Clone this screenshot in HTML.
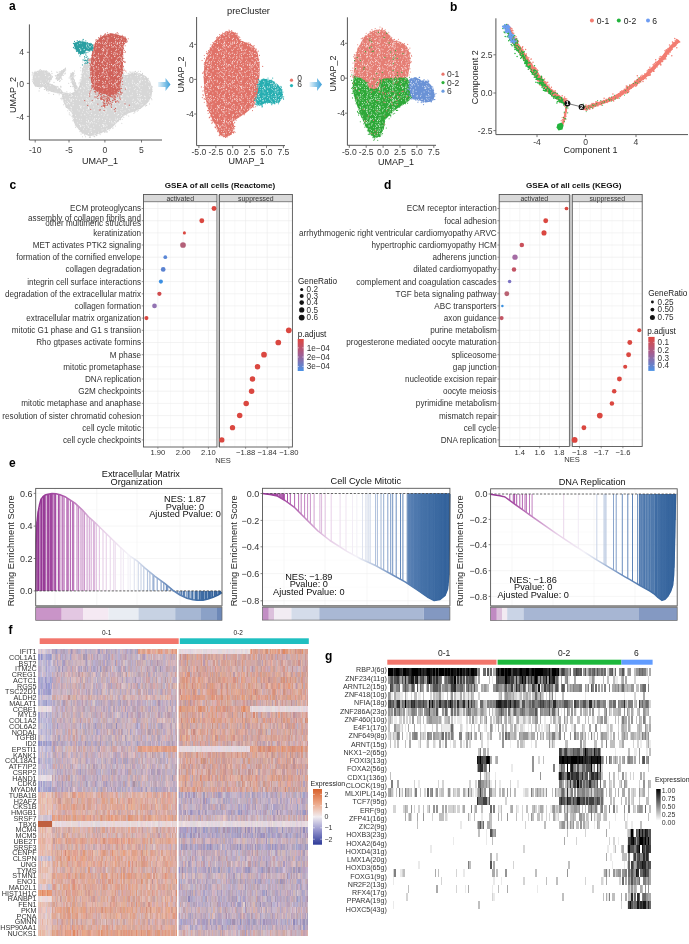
<!DOCTYPE html><html><head><meta charset="utf-8"><style>
html,body{margin:0;padding:0;background:#fff;width:689px;height:944px;overflow:hidden}
svg{display:block;font-family:"Liberation Sans",sans-serif;filter:blur(0.3px)}
</style></head><body><svg width="689" height="944" viewBox="0 0 689 944" font-size="8" fill="#222"><defs><pattern id="spk" width="23" height="19" patternUnits="userSpaceOnUse"><path d="M10.4 10.6h0M21.3 8.8h0M11.7 11.2h0M4.2 9.7h0M14.5 15.1h0M2.2 5.8h0M2.1 15.4h0M15.9 0.8h0M22.6 18.3h0M15 11.7h0M3.6 0.3h0M12.2 1.1h0M4.4 4.6h0M0.7 8.8h0M10.1 16h0M11.9 12.2h0M11.5 12.6h0M10.5 5.3h0M22.9 18.9h0M19.3 13.4h0M7.3 4.4h0M6.6 1.3h0M17.6 7.6h0M19.5 7.3h0M22 16.1h0M0 4h0M20.9 8.9h0M22.5 7.6h0M1.7 12h0M17.9 5.1h0M2 6.3h0M22.2 14.4h0M2.7 4.7h0M2.3 1.1h0" stroke="#fff" stroke-width="0.95" stroke-linecap="round" stroke-opacity="0.85"/></pattern><pattern id="spk2" width="17" height="13" patternUnits="userSpaceOnUse"><path d="M13.5 2.3h0M9.5 5.8h0M3.2 9.5h0M2.2 8.4h0M2 5.5h0M3.6 3.5h0M16.5 10.4h0M5.2 11.5h0M3.6 5.1h0M14.5 8.3h0M1.7 12.9h0M3.6 3.4h0M13.1 4.3h0M5 1h0M1.5 7.6h0M4.1 7.8h0" stroke="#fff" stroke-width="0.8" stroke-linecap="round" stroke-opacity="0.7"/></pattern><pattern id="spk3" width="13" height="11" patternUnits="userSpaceOnUse"><path d="M4.8 5h0M12.5 5.3h0M7.5 9.5h0M2.4 1.7h0M11.8 9h0M3.2 2.1h0M9.6 10.3h0M2.6 10.5h0M11.5 6.6h0M5.5 1.1h0M0.5 10.6h0M3.1 7.8h0M3.3 9.1h0M7.8 3.2h0" stroke="#fff" stroke-width="0.9" stroke-linecap="round" stroke-opacity="0.75"/></pattern><linearGradient id="arr" x1="0" x2="1" y1="0" y2="0"><stop offset="0" stop-color="#e6f3fa"/><stop offset="0.6" stop-color="#7cc0e6"/><stop offset="1" stop-color="#3d9fd8"/></linearGradient><linearGradient id="padj" x1="0" x2="0" y1="0" y2="1"><stop offset="0" stop-color="#e0463e"/><stop offset="0.5" stop-color="#a05f94"/><stop offset="1" stop-color="#4a92e6"/></linearGradient><linearGradient id="g1" gradientUnits="userSpaceOnUse" x1="35.7" x2="222" y1="0" y2="0"><stop offset="0" stop-color="#8f2f8f"/><stop offset="0.15" stop-color="#ad58ab"/><stop offset="0.35" stop-color="#e6cce6"/><stop offset="0.5" stop-color="#f4f2f8"/><stop offset="0.6" stop-color="#b4c4de"/><stop offset="0.7" stop-color="#6f90c0"/><stop offset="0.85" stop-color="#4471a8"/><stop offset="1" stop-color="#2f5f99"/></linearGradient><linearGradient id="g2" gradientUnits="userSpaceOnUse" x1="262.5" x2="449.9" y1="0" y2="0"><stop offset="0" stop-color="#8f2f8f"/><stop offset="0.15" stop-color="#ad58ab"/><stop offset="0.35" stop-color="#e6cce6"/><stop offset="0.5" stop-color="#f4f2f8"/><stop offset="0.6" stop-color="#b4c4de"/><stop offset="0.7" stop-color="#6f90c0"/><stop offset="0.85" stop-color="#4471a8"/><stop offset="1" stop-color="#2f5f99"/></linearGradient><linearGradient id="g3" gradientUnits="userSpaceOnUse" x1="490.6" x2="677.2" y1="0" y2="0"><stop offset="0" stop-color="#8f2f8f"/><stop offset="0.15" stop-color="#ad58ab"/><stop offset="0.35" stop-color="#e6cce6"/><stop offset="0.5" stop-color="#f4f2f8"/><stop offset="0.6" stop-color="#b4c4de"/><stop offset="0.7" stop-color="#6f90c0"/><stop offset="0.85" stop-color="#4471a8"/><stop offset="1" stop-color="#2f5f99"/></linearGradient><linearGradient id="cmf" x1="0" x2="0" y1="0" y2="1"><stop offset="0" stop-color="#d8602a"/><stop offset="0.25" stop-color="#eca584"/><stop offset="0.5" stop-color="#f1ecf0"/><stop offset="0.75" stop-color="#9191cc"/><stop offset="1" stop-color="#2d3a98"/></linearGradient><linearGradient id="cmg" x1="0" x2="0" y1="0" y2="1"><stop offset="0" stop-color="#000"/><stop offset="1" stop-color="#fff"/></linearGradient></defs><text x="9" y="10" font-weight="bold" fill="#000" font-size="12">a</text>
<text x="450" y="10.5" font-weight="bold" fill="#000" font-size="12">b</text>
<text x="9.5" y="189" font-weight="bold" fill="#000" font-size="12">c</text>
<text x="384" y="189" font-weight="bold" fill="#000" font-size="12">d</text>
<text x="9" y="466.8" font-weight="bold" fill="#000" font-size="12">e</text>
<text x="8.5" y="634.3" font-weight="bold" fill="#000" font-size="12">f</text>
<text x="325" y="660" font-weight="bold" fill="#000" font-size="12">g</text>
<path d="M32.6 77 34 72.5 38 70.8 44 70.3 48 71.5 51.5 75 52 79 50 82 46 86 40 87.6 35 86.5 33 83 Z" fill="#d7d7d7"/>
<path d="M32.6 77 34 72.5 38 70.8 44 70.3 48 71.5 51.5 75 52 79 50 82 46 86 40 87.6 35 86.5 33 83 Z" fill="url(#spk)"/>
<path d="M39.2 70.3h0M40.6 69.7h0M46.5 87.3h0M41.7 70.6h0M52.3 77.2h0M49.3 73h0M51.6 71.2h0M44.4 85.1h0M37.5 71.2h0M32.2 79.8h0M32.2 74.9h0M39.1 90.9h0M32.3 72.3h0M32.9 81.3h0M37.9 86.5h0M44.9 85.5h0M52 73.4h0M48 82.6h0M47.9 83.5h0M47.9 86h0M39.6 88.4h0M46.6 84.4h0M34.2 72.2h0M46.8 84.6h0M41.1 87h0M32.9 81.8h0M46.2 70.5h0M40.1 69.9h0M52.4 76.2h0M44.7 87.4h0M38.1 85.7h0M49.6 73.5h0M35.1 71.2h0M33.8 83.1h0M45.7 71.6h0M45.3 71.6h0M45.6 85.6h0M35.8 85.9h0M35.9 73.2h0M33 73.4h0" stroke="#d2d2d2" stroke-width="1.1" stroke-linecap="round" fill="none"/>
<path d="M43 85 50 83.5 56 86 61 89 62.5 93.5 58 93.5 52 92 46 90 Z" fill="#d7d7d7"/>
<path d="M43 85 50 83.5 56 86 61 89 62.5 93.5 58 93.5 52 92 46 90 Z" fill="url(#spk)"/>
<path d="M56.8 86.3h0M49 83.7h0M48.1 91.2h0M44.4 83.7h0M56.1 91.8h0M43.7 86.1h0M62 91.9h0M61.7 91h0M54.4 87h0M61 92.4h0M60.7 86.4h0M48.5 83.5h0M47.6 84.1h0M44.3 89.5h0M46.6 87.6h0M61.3 90.7h0M53.5 90.9h0M53.6 94.4h0M44.7 85.6h0M48.9 93.3h0M46.7 90.6h0M59.8 89.7h0M63.9 92.6h0M46.1 83.8h0M57.9 86.6h0M48.2 83.4h0M46.7 88.3h0M62.6 92.4h0M52.2 84.6h0M51.8 91.2h0M46.6 90.2h0M60.9 86.4h0M54 82.4h0M61.5 93.2h0M60.1 93.5h0M45.5 84.5h0M60.9 87.5h0M62 92.1h0M59.2 94.8h0M44.7 89.2h0" stroke="#d2d2d2" stroke-width="1.1" stroke-linecap="round" fill="none"/>
<path d="M55.5 79 57.5 74.5 61.5 70.5 65.5 69 64.5 72 61.5 77 59 80.5 Z" fill="#d7d7d7"/>
<path d="M55.5 79 57.5 74.5 61.5 70.5 65.5 69 64.5 72 61.5 77 59 80.5 Z" fill="url(#spk)"/>
<path d="M55.5 76h0M57.6 80.4h0M56.7 72.1h0M57.2 75h0M58.6 75.1h0M60.4 71.8h0M56.8 75.4h0M65 71h0M63.9 71.4h0M63.4 69.5h0M57.7 72.3h0M65.7 69.9h0M59.6 81.5h0M61 78.2h0M61.8 70.5h0M56 78.7h0M59.3 71.8h0M57.3 75.3h0M61.4 78.9h0M63.2 75.4h0M64.8 73.9h0M55.3 75.6h0M64.9 69.6h0M56.6 77.1h0M63.3 71.5h0M57.7 75.3h0M62 79.3h0M59 77.2h0M65.5 68.1h0M64.4 69h0M65.4 73.1h0M60.1 80.5h0M61.1 77.2h0M57.6 74.2h0M59.1 78.9h0M58.7 79.2h0M61.1 72.9h0M60.3 80.7h0M61.9 75.1h0M65.4 68.4h0" stroke="#d2d2d2" stroke-width="1.1" stroke-linecap="round" fill="none"/>
<path d="M70 75 72.5 71.8 74.5 72.8 73.5 77 75.5 83 78 88 76 90 72.5 85 70.5 80 Z" fill="#d7d7d7"/>
<path d="M70 75 72.5 71.8 74.5 72.8 73.5 77 75.5 83 78 88 76 90 72.5 85 70.5 80 Z" fill="url(#spk)"/>
<path d="M74 85.2h0M75.5 82.7h0M74.5 80.5h0M74 80h0M75.1 75.6h0M73.9 79.3h0M74.6 90.5h0M74.6 87.1h0M71.5 76h0M72.8 86.4h0M71.6 74.2h0M72.5 74h0M75 88.2h0M78.5 88.8h0M72.8 83.4h0M74.6 85.3h0M73.8 73.3h0M76.9 86.2h0M69.2 77.9h0M75.7 90.4h0M74.1 88h0M73.3 86.4h0M74.1 76.8h0M70.8 86.2h0M75.4 86h0M72.2 78.3h0M73.3 84.3h0M71.3 76.3h0M70.5 86.5h0M71.1 82.2h0M74.9 89.5h0M70.8 73.2h0M75.7 83.5h0M72.7 76.8h0M68.7 83.3h0M70.1 76.2h0M74.5 71h0M75 90h0M72.9 86.7h0M75.4 88.4h0" stroke="#d2d2d2" stroke-width="1.1" stroke-linecap="round" fill="none"/>
<path d="M61.5 93.5 66 93 70.7 93.5 76 91 79 87 81.3 80 82 70 84 64 88 60 95 58 110 58 121 66 124 75 126.4 75.2 132.9 72.5 139.4 73.1 146 76.3 150.3 81.8 152.5 89.4 151.4 97 147 103.5 141.6 107.9 135.1 111.2 128.5 113.3 123.1 116.6 117.7 122 112.2 127.5 104.6 131.8 95.9 135.1 89.4 136.2 81.8 133.1 75.7 126 72.7 119 71.7 112.8 66.6 107.8 63.6 102.7 Z" fill="#d7d7d7"/>
<path d="M61.5 93.5 66 93 70.7 93.5 76 91 79 87 81.3 80 82 70 84 64 88 60 95 58 110 58 121 66 124 75 126.4 75.2 132.9 72.5 139.4 73.1 146 76.3 150.3 81.8 152.5 89.4 151.4 97 147 103.5 141.6 107.9 135.1 111.2 128.5 113.3 123.1 116.6 117.7 122 112.2 127.5 104.6 131.8 95.9 135.1 89.4 136.2 81.8 133.1 75.7 126 72.7 119 71.7 112.8 66.6 107.8 63.6 102.7 Z" fill="url(#spk)"/>
<path d="M61.5 93.5 66 93 70.7 93.5 76 91 79 87 81.3 80 82 70 84 64 88 60 95 58 110 58 121 66 124 75 126.4 75.2 132.9 72.5 139.4 73.1 146 76.3 150.3 81.8 152.5 89.4 151.4 97 147 103.5 141.6 107.9 135.1 111.2 128.5 113.3 123.1 116.6 117.7 122 112.2 127.5 104.6 131.8 95.9 135.1 89.4 136.2 81.8 133.1 75.7 126 72.7 119 71.7 112.8 66.6 107.8 63.6 102.7 Z" fill="url(#spk2)"/>
<path d="M108.8 57.6h0M74.8 122.8h0M109.3 59.8h0M80.8 79.7h0M79.2 82.2h0M126.7 114.9h0M93.7 60.1h0M81.1 131.8h0M85.3 133.5h0M94.8 58.5h0M85.5 136.8h0M61.3 98h0M104.8 131.5h0M131.2 76h0M81 86.9h0M151.4 86.2h0M96.9 135.5h0M122.3 119.2h0M108 128.5h0M80.8 70.8h0M129.7 76.1h0M146.1 105h0M69.3 114.7h0M117.9 65.6h0M69.1 108.7h0M125.9 76.1h0M134.7 73.4h0M144.7 104h0M79.9 131.6h0M101.1 132.7h0M65.6 93h0M145.5 106h0M90.1 136.5h0M93.2 136h0M106.1 130.9h0M128.7 116h0M123.8 117.2h0M96 133.8h0M133 76.1h0M117.3 120.6h0M108.5 125.9h0M140.5 71.2h0M78.7 125.7h0M75.3 119.6h0M150.3 95h0M141.4 74.8h0M106.1 131.7h0M85.5 64.5h0M116.3 62.1h0M121 66.2h0M96.1 135.6h0M146.7 79.2h0M72 93.9h0M97.2 60.4h0M137.2 111.2h0M114.5 62.7h0M117.4 64.5h0M151.3 89.1h0M70.8 115h0M63.6 104.7h0M77 90.8h0M130.8 72.3h0M114.1 59.3h0M104.1 58.1h0M129.9 71.7h0M134.8 112.2h0M121.3 70.5h0M148.5 92.1h0M109.3 57.9h0M100.1 134.6h0M79.3 129.4h0M110.8 58h0M147.9 86.9h0M139.8 108.2h0M89.4 137.4h0M80.9 81.9h0M147.2 101.9h0M81.1 134h0M78.6 88.2h0M109.3 130.1h0M80.1 80h0M64.5 100.3h0M63.1 94.8h0M100.8 57.3h0M67 93h0M93.2 57.4h0M129.1 73.2h0M121.1 72.9h0M108.3 60.3h0M124 68.8h0M107.4 131.9h0M80.9 82.9h0M117.9 120.6h0M138.3 71.2h0M80.4 83.9h0M81.2 74.3h0M69.3 112.9h0M124.5 113.2h0M132.1 73.9h0M63.8 94.4h0M63.1 96.1h0M135 111.8h0M122.8 72.1h0M128.1 73.2h0M82.5 133.1h0M99.8 133.1h0M123.5 75h0M113 127.9h0M111.2 127.5h0M65.7 106.7h0M79.8 86.7h0M112.8 128.3h0M125.9 75.3h0M65.2 102.9h0M146.2 101.3h0M113.6 55.5h0M84.5 134h0M82.5 136.8h0M100.8 56.7h0M88 59.6h0M72 97.4h0M66.6 107.4h0M119.3 118.8h0M137.8 109.6h0M91.4 59h0M132.1 72.1h0M151.3 98.6h0M122.1 69.8h0M121.8 123.2h0M134.3 111.1h0M128.8 110.6h0M97.2 133.2h0M81.4 130.3h0M142.2 74.6h0M149.1 97.8h0M72 116.6h0M110.3 128.3h0M136.4 109.3h0M138.1 110.4h0M146.1 78.3h0M74.4 89.7h0M102.3 59.4h0M104.9 59.4h0M62 99.7h0M142.5 73.4h0M100.3 131h0M81.2 80.1h0M148.9 100.7h0M103.7 59.3h0M79.3 87.9h0M134.6 74.3h0M76.7 92.8h0M115.7 64.7h0M61.9 99.7h0M119.3 61.2h0M91.9 57.9h0M152.4 86.9h0M62.4 96.7h0M90.5 59.1h0M81.2 77.5h0M74 115.4h0M80.7 67.7h0M148.2 78.4h0M118.8 63.6h0M87.8 62.6h0M90.5 137.3h0M72.7 120.7h0M119.7 62.6h0M112 59.3h0M60.8 98.6h0M151.9 99.8h0M114.1 63.7h0M79.5 86.2h0M104.3 59.9h0M92.4 57.1h0M68.1 94.1h0M134.1 71.9h0M85.3 59.9h0M124.8 73h0M148.7 95.7h0M113.3 122.3h0M86.4 60.9h0M133.9 113.2h0M97.2 132.2h0M100.9 58.1h0M140.2 108.4h0M136.1 108.6h0M75.3 124.9h0M64.7 93.1h0M146.5 79.9h0M80.3 86.3h0M148.3 100.9h0M82.5 68.5h0M119.3 64.5h0M109.2 57.7h0M84.9 135.1h0M82.8 62h0M94.4 136.2h0M128.3 78.6h0M70.1 92.8h0M63.3 98.4h0M104.8 132.4h0M74 121h0M116.5 63.4h0M73.2 93.4h0M106.5 132h0M146.7 105.5h0M67.8 110.8h0M62.3 98.2h0M137.1 72.5h0M122.3 70.1h0M139.3 108.6h0M135.5 71.4h0M94.7 136.7h0M87.2 59.7h0M93.7 60.1h0M114.9 66.4h0M118.6 121h0M134.2 73.8h0M127 75.2h0M87.7 61.7h0M70.1 110.3h0M128.7 78h0M126.5 72.8h0M73.4 115.5h0M135.2 74.2h0M122 66.6h0M74.9 91.8h0M73.5 94.4h0M69.4 94.9h0M149.5 103.9h0M108.2 55.8h0M83.1 69h0M110.1 128.8h0M75.8 127.1h0M123.6 73.8h0M66.8 91.8h0M88.5 135.1h0M120.5 119.6h0M114.1 120.5h0M75.6 127.3h0M79 83.7h0M75.7 91h0M152.2 91.5h0M136.4 73h0M120.6 119.8h0M122.4 73h0M139.4 106.9h0M115.4 126h0M128.9 75.4h0" stroke="#d2d2d2" stroke-width="1.1" stroke-linecap="round" fill="none"/>
<path d="M98.7 38.5 104.8 34.5 111.8 33.2 118.8 35 124.9 36.7 127 39.3 125.7 42.8 123.6 45.4 123.1 52.4 123.1 62.8 122.3 71.6 121.4 80.3 119.7 89 116 94 110 95 103 94 97.5 92 93.5 89 90.9 80.3 90 71.6 90.9 62.8 91.8 54.1 93.5 47.2 95.3 41.9 Z" fill="#d0625a"/>
<path d="M98.7 38.5 104.8 34.5 111.8 33.2 118.8 35 124.9 36.7 127 39.3 125.7 42.8 123.6 45.4 123.1 52.4 123.1 62.8 122.3 71.6 121.4 80.3 119.7 89 116 94 110 95 103 94 97.5 92 93.5 89 90.9 80.3 90 71.6 90.9 62.8 91.8 54.1 93.5 47.2 95.3 41.9 Z" fill="url(#spk)"/>
<path d="M98.7 38.5 104.8 34.5 111.8 33.2 118.8 35 124.9 36.7 127 39.3 125.7 42.8 123.6 45.4 123.1 52.4 123.1 62.8 122.3 71.6 121.4 80.3 119.7 89 116 94 110 95 103 94 97.5 92 93.5 89 90.9 80.3 90 71.6 90.9 62.8 91.8 54.1 93.5 47.2 95.3 41.9 Z" fill="url(#spk2)"/>
<path d="M98.7 38.5 104.8 34.5 111.8 33.2 118.8 35 124.9 36.7 127 39.3 125.7 42.8 123.6 45.4 123.1 52.4 123.1 62.8 122.3 71.6 121.4 80.3 119.7 89 116 94 110 95 103 94 97.5 92 93.5 89 90.9 80.3 90 71.6 90.9 62.8 91.8 54.1 93.5 47.2 95.3 41.9 Z" fill="url(#spk3)"/>
<path d="M104.8 34.2h0M120.1 85.3h0M100.4 38.6h0M110.8 96.8h0M124.9 39.2h0M93.3 45.7h0M94 44.6h0M100.9 94.4h0M124.4 50.3h0M122.7 69.9h0M118.5 35.2h0M123.5 66.5h0M127.1 41.7h0M125.2 45.8h0M122.3 73.6h0M95.7 91.4h0M113.4 91.7h0M121.6 64.4h0M122.7 56.9h0M95.6 87.4h0M122.3 35.2h0M110.6 95.6h0M89.7 77.8h0M123 49h0M118.4 91.5h0M110.4 35h0M113.8 34.9h0M121.6 88.5h0M92.3 58.4h0M119.1 89.1h0M91.8 85.4h0M122 63h0M91.7 61.1h0M121.3 74.7h0M90.9 63.8h0M122.1 68.5h0M128.2 38.8h0M94.4 46.5h0M91.5 88.7h0M125.8 71h0M105.4 33.7h0M104.1 36.7h0M98.8 40h0M100.9 35.7h0M121.7 70.9h0M90.6 64.5h0M102.8 90.2h0M121.8 69.8h0M90.7 70.2h0M115.9 33.6h0M120.8 88.3h0M100.7 36.5h0M101.2 94.3h0M119.5 87.3h0M108.5 35.4h0M123.8 58.5h0M121 86.7h0M90 58.7h0M90 68.7h0M112.4 92.9h0M125.5 51.9h0M95.7 40h0M91.5 82.1h0M125.2 37h0M122.8 65.2h0M118.9 91.3h0M96.3 43.8h0M90.9 65.9h0M123 70.7h0M90.9 74.8h0M92.5 46.3h0M123.6 48.3h0M109.3 96.2h0M121.3 66.1h0M121.9 66.4h0M124 52.5h0M111.8 35.3h0M125.7 41.1h0M93.8 89.5h0M119.9 36.7h0M98.7 37.6h0M120 59.4h0M127 40.9h0M93.6 79.6h0M122.5 77.9h0M121.8 73.7h0M121.7 49.4h0M123.6 61.4h0M98.6 41.2h0M121.9 68.8h0M104.7 92.2h0M99.1 93.1h0M117.2 32.6h0M120.4 80.7h0M122.6 72.3h0M109.5 94.9h0M99.3 93.8h0M106.9 94.2h0M122.7 84.3h0M122.8 54.9h0M122.6 73h0M96.6 39.7h0M89.1 60.5h0M91.2 63.3h0M100.4 40.3h0M92 86.3h0M118.5 81.4h0M126.3 42.2h0M107.4 32.8h0M120 90.3h0M91.3 58.9h0M92.5 51.5h0M123 67.7h0M124.6 62.3h0M117.2 35.6h0M89 59.6h0M110.2 33.6h0M102.2 91.7h0M125.9 39.3h0M100.2 38.1h0M100.3 94.9h0M93.1 87.3h0M92.2 87h0M118.1 33.7h0M124.2 70.1h0M92.8 85.9h0M122.5 58.7h0M98.2 94.1h0M120.5 75h0M92.6 48.2h0M122.6 45.4h0M90.9 60.1h0M91 90.2h0M122.3 69.3h0M122.5 81.6h0M120.1 54.7h0M122.4 53.6h0M122.9 47.8h0M91.8 55.3h0M124.1 61.2h0M106.3 94.4h0M92.9 54.4h0M122.2 67h0M125.5 62h0M100.9 35.3h0M121.6 67.1h0M92 87.8h0M97.2 41.2h0M89.5 63.2h0M99.7 39.4h0M121.6 72.6h0M97.8 40.9h0M119 36.9h0M112.2 34.9h0M101.6 92.5h0M90.1 65.5h0M116.8 34.6h0M93.8 58.8h0M101.1 37.6h0M117.9 95.3h0" stroke="#d0625a" stroke-width="1.1" stroke-linecap="round" fill="none"/>
<path d="M105.3 91h0M115.9 91.1h0M107.6 97.9h0M115.5 108.4h0M119.8 97.9h0M94.4 91.7h0M106.9 91.8h0M97 88.7h0M125.3 89.1h0M110.6 95.9h0M103.3 105.7h0M111.6 96.8h0M101.5 98.3h0M109 89.2h0M115.9 101.1h0M111.2 93.3h0M103.8 99.6h0M115.1 111.2h0M101.7 96.9h0M115.5 89.3h0M119.8 89.4h0M110.9 103.3h0M118.7 101.9h0M99.4 110h0M108.1 98.7h0M101.2 90.8h0M107.7 90.8h0M115 91h0M106.3 98.4h0M108.4 90.5h0M112.7 92.9h0M116 91.9h0M100.9 97.3h0M104 104.7h0M107.2 101.8h0M119.3 89.5h0M114.5 99.7h0M103.8 106.1h0M103.3 88.8h0M111.5 107.3h0M109 92.8h0M103.2 102.6h0M104.6 105.4h0M108 100.9h0M109.4 95h0M113.5 94.5h0M113.9 94.7h0M113.5 93.6h0M116.2 101.6h0M125 103.8h0M110.6 101.6h0M109.7 104h0M106.2 88.7h0M106.9 100.5h0M103.6 100.6h0M107.2 100h0M106 99.7h0M116.9 91.2h0M106.8 88.8h0M120 88.6h0M106.9 88h0M89.7 96.1h0M120 94.3h0M109.1 100.6h0M101.1 92.2h0M116 93.7h0M116.5 92.4h0M118.5 93.9h0M112.8 97.3h0M96.2 97.1h0M101.6 88.3h0M104 91.4h0M112.3 91.3h0M115.3 96.9h0M112 96.3h0M109.9 95.4h0M110.7 93.4h0M115.4 91.8h0M104.2 101.6h0M112 92.2h0M109.3 93.1h0M120.3 99.2h0M113.9 89h0M108.6 102.9h0M98.4 95.6h0M100.4 99h0M107 105.4h0M112.2 102h0M113.4 90.3h0M106.1 96.3h0M92.2 100.3h0M108.3 88h0M117.1 90.2h0M109.1 98.6h0M107.8 99.8h0M104.6 100.1h0M121 92.7h0M105 107.2h0M108.6 88.5h0M98.1 89.5h0M120.6 92.5h0M109 102.9h0M87.7 105.4h0M102.8 97.2h0M101.8 88.5h0M105.7 92.5h0M119.7 96h0M111.1 105.9h0M110.9 93.8h0M116.8 89.7h0M114.8 97.9h0M84.7 100.7h0M101.8 106.4h0M113.2 94.5h0M97.9 98.4h0M90.8 109.3h0M110.7 89.7h0M105.4 91.1h0M113.8 89.1h0M109.6 99.4h0M109.7 89.7h0M100 90.9h0M106 96.8h0M100.6 98.9h0M102.9 98.9h0M99.4 93.4h0M103.2 88.4h0M108.6 102.7h0M113.1 89.4h0M101.9 94.6h0M99.9 92h0M104.9 98.1h0M107 100.9h0M112.9 94h0M110 94.3h0M106.4 93.1h0M102 99.4h0M117.6 96.2h0M113.5 92.1h0M103.3 93.4h0M109.5 89.1h0M119 89.5h0M99.1 90.3h0M96.7 89.5h0M99.8 88.5h0M113 95.7h0M105.8 96.5h0M116.7 94h0M107.9 95.4h0M109.3 94.4h0M112.5 100.3h0M100.8 97.9h0M108.2 95.2h0M107.7 97.5h0M119.5 89.8h0M109.1 91.6h0M108 103.3h0M114.9 93.2h0M106.3 88.4h0M105.3 89.7h0M105 103.3h0M108.1 88.8h0M105.6 91.4h0M108.8 95.7h0M104.1 110.4h0M105.3 105.2h0M89.6 93.8h0M112.1 93.7h0M115.6 97.2h0M110.9 89.2h0M114.7 95.9h0M115.5 101.6h0M112.2 89.9h0M118.4 88.8h0M120.4 91.5h0M112.2 88.9h0M112.9 90.1h0M109.7 90.7h0M107 92.6h0M111.1 92h0M117.5 100.9h0M113.3 100.2h0M115.3 99.4h0M104.6 96.1h0M100.4 109.8h0M115.9 94.8h0M95.7 92.5h0M107.9 91.4h0M104.6 106.7h0M106.5 103.1h0M103.8 92.6h0M107.5 104.7h0M102 88h0M105.8 88h0M104.6 103.3h0M129.3 105.2h0M109.3 98.1h0M111.6 104.5h0M111.7 92.9h0M90.1 91.9h0M111 88.9h0M94.8 96.9h0M103.9 103.4h0M108.2 91.9h0M109.7 100.8h0M97.6 96.3h0M119.8 88.3h0M117.5 89.4h0M101.4 95h0M107.5 99.6h0M108.8 97.6h0M106.2 91.6h0M110 93.1h0M114.1 91.2h0M117.6 93.1h0M112.1 102.5h0M113.8 91.5h0M105.5 90.6h0M101.6 93h0M103.2 93h0M118.2 89h0M100.9 91.4h0M121.3 94h0M103.7 95.6h0M107.5 96.1h0M104.6 90.3h0M103.9 96.9h0M95 97h0M101.3 96.5h0M95.9 94h0M115.4 97.1h0M114.3 109.4h0M110.2 96.5h0M122.2 92.8h0M103 105.5h0M105.9 90.9h0M115.7 102.4h0M108.7 88.8h0M116.9 90.2h0M117 90.3h0M97.9 104.1h0M111.2 90.2h0M95.3 89.1h0M113.8 98.5h0M106.5 101.5h0M101.8 88h0M120.1 89.7h0M104.4 100.5h0M101.7 99.1h0M106.5 91.3h0M108.4 91.8h0M112.5 93.8h0M100.9 99.2h0M106.5 101.6h0M102 89.1h0M106.9 89.9h0M114 96.8h0M109.2 91.3h0M111.6 92.2h0M102.2 88.4h0" stroke="#d0625a" stroke-width="1.2" stroke-linecap="round" fill="none"/>
<path d="M73.9 45.4 74.4 42.8 78.7 41.1 83.9 41.5 89.2 43.2 93.1 44.5 92.6 49.8 90 51.5 86.5 50.6 83.1 54.1 79.6 54.1 75.2 48.9 Z" fill="#2a9fa2"/>
<path d="M73.9 45.4 74.4 42.8 78.7 41.1 83.9 41.5 89.2 43.2 93.1 44.5 92.6 49.8 90 51.5 86.5 50.6 83.1 54.1 79.6 54.1 75.2 48.9 Z" fill="url(#spk)"/>
<path d="M73.9 45.4 74.4 42.8 78.7 41.1 83.9 41.5 89.2 43.2 93.1 44.5 92.6 49.8 90 51.5 86.5 50.6 83.1 54.1 79.6 54.1 75.2 48.9 Z" fill="url(#spk2)"/>
<path d="M83.4 39.7h0M76.4 43h0M81.3 53.3h0M92.2 47.2h0M79.9 55.9h0M73.5 47.8h0M76.5 51.2h0M82.2 40.9h0M85.5 43.3h0M85.7 54.1h0M77.1 51.5h0M86.2 43.3h0M73.4 47.2h0M75.5 44h0M89.3 43.6h0M73.4 43.4h0M91.5 43.9h0M73.7 43.7h0M92.2 49h0M74.3 43.6h0M78.7 41.7h0M74.8 43.7h0M92.7 45.9h0M77.2 40.5h0M91.8 49.9h0M93.2 47.2h0M76.2 48.9h0M91.6 46.6h0M93.1 48.2h0M74.5 41.4h0M89.1 51h0M91.1 49.3h0M79.7 41h0M80.5 54.2h0M87.6 42.6h0M83.1 39.4h0M80.8 54.5h0M84 52.7h0M74.8 48.6h0M92.5 48.2h0M77.2 50.5h0M92.7 47.5h0M76.8 42.5h0M91.6 48h0M77 47.5h0M78.8 53.7h0M92 45.7h0M90.6 43.3h0M74.7 44.8h0M83.4 53.7h0M84.1 43.3h0M76.3 50.7h0M76.1 46.8h0M92.8 45.7h0M92.5 50.6h0M85.2 52.6h0M79.9 41h0M85.8 40.9h0M76.4 47.4h0M78.6 53.1h0" stroke="#2a9fa2" stroke-width="1.1" stroke-linecap="round" fill="none"/>
<path d="M85.7 62.9h0M83.2 52.6h0M88.3 58.3h0M86.9 63.6h0M87.6 60.8h0M85.9 60.6h0M85.5 60.3h0M84.7 52.9h0M87.9 62.4h0M84.6 58h0M86.5 60.8h0M87.6 59.1h0M86.1 57.2h0M86.1 55.2h0M86.2 57.4h0M87.1 61h0M87.9 52.3h0M84.8 63.3h0M84.1 60h0M84.5 56.6h0M85.7 60.6h0M86.5 52.7h0M84.6 60.7h0M83 59.9h0M87.4 62.6h0M82.4 64.9h0M85.8 60h0M86.1 60.3h0M87.3 56.7h0M84.4 52.1h0" stroke="#2a9fa2" stroke-width="1.1" stroke-linecap="round" fill="none"/>
<line x1="29.4" y1="24.4" x2="29.4" y2="140" stroke="#555" stroke-width="1"/>
<line x1="29.4" y1="140" x2="162" y2="140" stroke="#555" stroke-width="1"/>
<line x1="26.9" y1="52.3" x2="29.4" y2="52.3" stroke="#555" stroke-width="0.8"/>
<text x="24" y="55.4" text-anchor="end" fill="#3a3a3a" font-size="8.6">4</text>
<line x1="26.9" y1="83.4" x2="29.4" y2="83.4" stroke="#555" stroke-width="0.8"/>
<text x="24" y="86.5" text-anchor="end" fill="#3a3a3a" font-size="8.6">0</text>
<line x1="26.9" y1="116.4" x2="29.4" y2="116.4" stroke="#555" stroke-width="0.8"/>
<text x="24" y="119.5" text-anchor="end" fill="#3a3a3a" font-size="8.6">-4</text>
<line x1="35.2" y1="140" x2="35.2" y2="142.5" stroke="#555" stroke-width="0.8"/>
<text x="35.2" y="152.9" text-anchor="middle" fill="#3a3a3a" font-size="8.6">-10</text>
<line x1="69" y1="140" x2="69" y2="142.5" stroke="#555" stroke-width="0.8"/>
<text x="69" y="152.9" text-anchor="middle" fill="#3a3a3a" font-size="8.6">-5</text>
<line x1="104.9" y1="140" x2="104.9" y2="142.5" stroke="#555" stroke-width="0.8"/>
<text x="104.9" y="152.9" text-anchor="middle" fill="#3a3a3a" font-size="8.6">0</text>
<line x1="141.5" y1="140" x2="141.5" y2="142.5" stroke="#555" stroke-width="0.8"/>
<text x="141.5" y="152.9" text-anchor="middle" fill="#3a3a3a" font-size="8.6">5</text>
<text x="100" y="163.5" text-anchor="middle" font-size="9">UMAP_1</text>
<text x="15.6" y="95" text-anchor="middle" font-size="9" transform="rotate(-90 15.6 95)">UMAP_2</text>
<path d="M158 82.1 h7.5 v-4 l5 6.5 l-5 6.5 v-4 h-7.5 z" fill="url(#arr)"/>
<path d="M309.5 81.9 h7.5 v-4 l5 6.5 l-5 6.5 v-4 h-7.5 z" fill="url(#arr)"/>
<path d="M231.3 30.9 237.1 33.8 240 40.3 245.8 42.5 253 45.4 257.4 51.9 259.6 63.5 259.6 75.2 258.5 82 258.9 89.7 256 101.3 253 107 245.8 112.9 237.1 118.7 232.7 121.6 234.2 127.4 231.3 134.7 225.5 137.6 219.7 134.7 216.8 127.4 212.4 120.1 207.3 107.1 204.4 92.6 203.7 78.1 204.4 63.5 208.1 51.9 213.9 41.8 221.1 34.5 226.9 31.3 Z" fill="#e07268"/>
<path d="M231.3 30.9 237.1 33.8 240 40.3 245.8 42.5 253 45.4 257.4 51.9 259.6 63.5 259.6 75.2 258.5 82 258.9 89.7 256 101.3 253 107 245.8 112.9 237.1 118.7 232.7 121.6 234.2 127.4 231.3 134.7 225.5 137.6 219.7 134.7 216.8 127.4 212.4 120.1 207.3 107.1 204.4 92.6 203.7 78.1 204.4 63.5 208.1 51.9 213.9 41.8 221.1 34.5 226.9 31.3 Z" fill="url(#spk)"/>
<path d="M231.3 30.9 237.1 33.8 240 40.3 245.8 42.5 253 45.4 257.4 51.9 259.6 63.5 259.6 75.2 258.5 82 258.9 89.7 256 101.3 253 107 245.8 112.9 237.1 118.7 232.7 121.6 234.2 127.4 231.3 134.7 225.5 137.6 219.7 134.7 216.8 127.4 212.4 120.1 207.3 107.1 204.4 92.6 203.7 78.1 204.4 63.5 208.1 51.9 213.9 41.8 221.1 34.5 226.9 31.3 Z" fill="url(#spk2)"/>
<path d="M231.3 30.9 237.1 33.8 240 40.3 245.8 42.5 253 45.4 257.4 51.9 259.6 63.5 259.6 75.2 258.5 82 258.9 89.7 256 101.3 253 107 245.8 112.9 237.1 118.7 232.7 121.6 234.2 127.4 231.3 134.7 225.5 137.6 219.7 134.7 216.8 127.4 212.4 120.1 207.3 107.1 204.4 92.6 203.7 78.1 204.4 63.5 208.1 51.9 213.9 41.8 221.1 34.5 226.9 31.3 Z" fill="url(#spk3)"/>
<path d="M202.1 60.5h0M215.7 121.9h0M226.4 31.7h0M244.2 114.7h0M253.8 107.3h0M258.6 88h0M256.7 96.7h0M211.9 123.5h0M255 104.6h0M223.4 136.7h0M258.3 94.8h0M231.2 132.4h0M223.4 136.5h0M259.4 89.1h0M203.3 95.6h0M204.7 86.7h0M206 81.6h0M204.6 78.8h0M210.4 115.9h0M222.6 33.1h0M226 31.9h0M206.9 106h0M256.6 95h0M210.2 104.3h0M210.8 48.2h0M205.7 65.5h0M248.2 44.2h0M256 48.8h0M231.7 30.6h0M210.2 47.9h0M234.7 122.4h0M236 36.8h0M207.9 104.1h0M204.3 98.6h0M215.2 127.6h0M258.3 91.2h0M253.1 105.9h0M262.7 66.4h0M205.6 83.5h0M242.8 41.6h0M209.9 117.1h0M257.9 94.8h0M259.4 55.4h0M236.1 120.2h0M257.4 97.2h0M254.1 45.5h0M209.8 52.6h0M258.4 75.3h0M204.3 90.8h0M225.5 32h0M222 135.7h0M213.6 44.3h0M239.8 37.3h0M247 43.8h0M233.8 118.8h0M250.6 44.5h0M233.7 120.3h0M204.4 66.3h0M205.5 73h0M221.4 133h0M205.7 99.4h0M232.5 132.5h0M248.9 42.7h0M241.9 41.8h0M206.9 57.5h0M228.1 33h0M218.1 37.6h0M258.1 51.2h0M212.1 120.7h0M209.6 112.3h0M213.1 121.7h0M205 64.8h0M257.6 54.3h0M206.6 51.7h0M234.1 131.4h0M204.7 62.6h0M255.4 106.8h0M234.6 128.8h0M237.7 117.3h0M205.9 80.5h0M258.5 87.4h0M207.9 102.8h0M257.5 54.6h0M234.9 126.6h0M204.1 64h0M233.2 125h0M202.8 73.4h0M257.5 54.8h0M256.3 49.3h0M258.3 51.1h0M206.8 53.6h0M259.7 87.6h0M208.5 110.6h0M257.5 69.8h0M217.6 36.7h0M238.3 38.6h0M216.3 40.4h0M237.2 33.2h0M207.9 53h0M216.8 129h0M212.9 42.5h0M212.2 122.5h0M259.8 82.8h0M208.6 50.5h0M215.9 127.8h0M257.2 97.9h0M212.2 120.2h0M205 78.7h0M257 90.1h0M206.1 60.6h0M214.6 120.5h0M215.5 127.1h0M217.5 130.7h0M207.1 53.8h0M236.6 35.5h0M204.4 58.6h0M211.1 120.1h0M217.8 131.6h0M253.4 50.4h0M218.6 38.1h0M225.6 137.4h0M204.6 74.3h0M259.1 90.3h0M246.2 42.8h0M207.8 110.8h0M232.2 130h0M233.7 125.8h0M201.4 86.9h0M209.7 117.6h0M257.4 92.9h0M204 87.5h0M221.7 35.1h0M229.3 30.2h0M250.3 43.8h0M202.8 91h0M234.4 118.8h0M208.2 113.3h0M219.9 132.3h0M202.3 97.6h0M233.6 132h0M252.5 110.6h0M259.3 62.2h0M227.1 137h0M210.1 56h0M210.9 44.8h0M234.3 126.5h0M233.8 120.7h0M219.9 135.8h0M203.1 72.4h0M219.7 34.6h0M219.8 134.2h0M207.6 110.5h0M258.8 59.6h0M236.9 117.8h0M209.2 117.7h0M204.4 73.1h0M219.2 135.5h0M203 94.6h0M259.2 82.8h0M206.6 53.5h0M215.1 126.9h0M220.2 130.6h0M250.2 44.2h0M240.7 39.5h0M238.2 36.2h0M206.3 59.8h0M235.3 32.7h0M233.6 132.9h0M204.3 55.5h0M206.8 105.3h0M235.1 132.2h0M233.1 132.6h0M203.9 71.2h0M249.8 44.9h0M229 134.9h0M204.2 99.1h0M228.1 34.5h0M232.7 124.3h0M247.8 43h0M239.5 37h0M259.4 69.9h0M233.9 123.5h0M229 30.1h0M220.9 133.5h0M203.9 76.9h0M253.7 46.3h0M258.7 64.5h0M216.4 38.1h0M216.7 37.6h0M231.3 133.9h0M209.2 107h0M255.4 99.1h0M244.4 113.7h0M232.1 130.9h0M204.2 90.1h0M257.6 80.7h0M204.3 102.3h0M220.3 134.4h0M257.7 85.5h0M232.9 129.8h0" stroke="#e07268" stroke-width="1.1" stroke-linecap="round" fill="none"/>
<path d="M258.5 81 263.2 78.5 270.5 80 277.7 84.2 282.1 89.7 282.8 96.9 279.2 102.7 273.4 103.5 266.1 102.7 260.3 105.6 256.5 105 256 100 258 92.6 Z" fill="#27aeb1"/>
<path d="M258.5 81 263.2 78.5 270.5 80 277.7 84.2 282.1 89.7 282.8 96.9 279.2 102.7 273.4 103.5 266.1 102.7 260.3 105.6 256.5 105 256 100 258 92.6 Z" fill="url(#spk)"/>
<path d="M258.5 81 263.2 78.5 270.5 80 277.7 84.2 282.1 89.7 282.8 96.9 279.2 102.7 273.4 103.5 266.1 102.7 260.3 105.6 256.5 105 256 100 258 92.6 Z" fill="url(#spk2)"/>
<path d="M258.5 81 263.2 78.5 270.5 80 277.7 84.2 282.1 89.7 282.8 96.9 279.2 102.7 273.4 103.5 266.1 102.7 260.3 105.6 256.5 105 256 100 258 92.6 Z" fill="url(#spk3)"/>
<path d="M265.6 103.8h0M271.8 80.1h0M258.2 84.3h0M256.3 104.3h0M257 102.1h0M256.2 99.8h0M276.2 101.6h0M274.4 103.8h0M272.5 81.8h0M278.6 100.9h0M261.7 105.1h0M276.2 101.1h0M257.2 94.5h0M271.8 103.9h0M262.4 106.2h0M271 102.6h0M277.4 86.3h0M257.6 92.2h0M278.7 101.8h0M256.5 100.5h0M258.2 104.8h0M279.6 100.2h0M255.7 97h0M274.5 103.5h0M277.2 87.7h0M272.7 78.1h0M256.1 99.8h0M259 92.2h0M257.2 84.5h0M257.7 97.1h0M265.3 80.1h0M256.3 99h0M270.4 80.4h0M267.6 102.1h0M283.3 98.2h0M270.8 102.6h0M279.4 87.7h0M258.2 84.7h0M257.5 86.2h0M254.6 100.4h0M271.8 104.7h0M278.4 103.8h0M271.1 80.9h0M258.7 79.5h0M283.7 96.7h0M262.1 106.9h0M282.9 92.1h0M258 84.6h0M257.1 105.8h0M282.1 96.6h0M271.5 81.2h0M255.1 100.7h0M283.6 99.2h0M260.1 103.1h0M256.9 88.1h0M263.4 79.5h0M267.6 103.1h0M263.3 79.4h0M256.9 94.6h0M262.1 106.4h0M283.1 98.1h0M278.7 89.6h0M282.5 94.4h0M262.2 104.7h0M282 89.8h0M259.7 105.1h0M262.9 79.8h0M273.5 82.4h0M258.6 79.6h0M273.5 81.9h0M265.9 79.9h0M281.5 87.2h0M274.1 103.6h0M255.1 98.4h0M266 80h0M274 81.8h0M259.8 86.5h0M255.4 103.9h0M272 80.3h0M262 105.5h0M268 78.1h0M280.9 86.4h0M280.8 88.2h0M266.3 79.2h0M255.3 91.2h0M272.7 102.9h0M279.8 99.4h0M262.1 105.7h0M274.4 83.1h0M274.9 103.7h0" stroke="#27aeb1" stroke-width="1.1" stroke-linecap="round" fill="none"/>
<line x1="196.6" y1="17" x2="196.6" y2="145.6" stroke="#555" stroke-width="1"/>
<line x1="196.6" y1="145.6" x2="285" y2="145.6" stroke="#555" stroke-width="1"/>
<line x1="194.1" y1="44.4" x2="196.6" y2="44.4" stroke="#555" stroke-width="0.8"/>
<text x="193.8" y="47.5" text-anchor="end" fill="#3a3a3a" font-size="8.6">4</text>
<line x1="194.1" y1="79.4" x2="196.6" y2="79.4" stroke="#555" stroke-width="0.8"/>
<text x="193.8" y="82.5" text-anchor="end" fill="#3a3a3a" font-size="8.6">0</text>
<line x1="194.1" y1="114" x2="196.6" y2="114" stroke="#555" stroke-width="0.8"/>
<text x="193.8" y="117.1" text-anchor="end" fill="#3a3a3a" font-size="8.6">-4</text>
<line x1="198.9" y1="145.6" x2="198.9" y2="148.1" stroke="#555" stroke-width="0.8"/>
<text x="198.9" y="154.5" text-anchor="middle" fill="#3a3a3a" font-size="8.6">-5.0</text>
<line x1="215.8" y1="145.6" x2="215.8" y2="148.1" stroke="#555" stroke-width="0.8"/>
<text x="215.8" y="154.5" text-anchor="middle" fill="#3a3a3a" font-size="8.6">-2.5</text>
<line x1="232.7" y1="145.6" x2="232.7" y2="148.1" stroke="#555" stroke-width="0.8"/>
<text x="232.7" y="154.5" text-anchor="middle" fill="#3a3a3a" font-size="8.6">0.0</text>
<line x1="249.6" y1="145.6" x2="249.6" y2="148.1" stroke="#555" stroke-width="0.8"/>
<text x="249.6" y="154.5" text-anchor="middle" fill="#3a3a3a" font-size="8.6">2.5</text>
<line x1="266.5" y1="145.6" x2="266.5" y2="148.1" stroke="#555" stroke-width="0.8"/>
<text x="266.5" y="154.5" text-anchor="middle" fill="#3a3a3a" font-size="8.6">5.0</text>
<line x1="283.4" y1="145.6" x2="283.4" y2="148.1" stroke="#555" stroke-width="0.8"/>
<text x="283.4" y="154.5" text-anchor="middle" fill="#3a3a3a" font-size="8.6">7.5</text>
<text x="248.5" y="14" text-anchor="middle" font-size="9.3">preCluster</text>
<text x="246.6" y="163.8" text-anchor="middle" font-size="9">UMAP_1</text>
<text x="183.6" y="74.5" text-anchor="middle" font-size="9" transform="rotate(-90 183.6 74.5)">UMAP_2</text>
<circle cx="291.5" cy="80.2" r="1.6" fill="#e8756b"/><circle cx="291.5" cy="85.6" r="1.6" fill="#27b3b6"/>
<text x="297.2" y="80.8" fill="#333" font-size="8.5">0</text>
<text x="297.2" y="87.2" fill="#333" font-size="8.5">6</text>
<path d="M353.5 75 362 76.5 390 76 405.3 76.5 411.4 83.3 412.5 97.5 405.3 103.6 395.2 109.7 385 119.9 384 128 380 136.2 374.9 138.2 369.8 134.1 365.7 126 360.6 115.8 355.6 101.6 352.5 89.4 Z" fill="#2ea838"/>
<path d="M353.5 75 362 76.5 390 76 405.3 76.5 411.4 83.3 412.5 97.5 405.3 103.6 395.2 109.7 385 119.9 384 128 380 136.2 374.9 138.2 369.8 134.1 365.7 126 360.6 115.8 355.6 101.6 352.5 89.4 Z" fill="url(#spk)"/>
<path d="M353.5 75 362 76.5 390 76 405.3 76.5 411.4 83.3 412.5 97.5 405.3 103.6 395.2 109.7 385 119.9 384 128 380 136.2 374.9 138.2 369.8 134.1 365.7 126 360.6 115.8 355.6 101.6 352.5 89.4 Z" fill="url(#spk2)"/>
<path d="M353.5 75 362 76.5 390 76 405.3 76.5 411.4 83.3 412.5 97.5 405.3 103.6 395.2 109.7 385 119.9 384 128 380 136.2 374.9 138.2 369.8 134.1 365.7 126 360.6 115.8 355.6 101.6 352.5 89.4 Z" fill="url(#spk3)"/>
<path d="M368.3 130.9h0M351.9 74.9h0M363.7 119.5h0M408.7 100.4h0M396.3 110.5h0M367 125.6h0M371.3 134.9h0M351.5 88.3h0M389.5 115.1h0M393.8 74.7h0M359.5 74.9h0M377.7 140.3h0M388.9 75.9h0M386.9 76.8h0M389 76.5h0M373.8 140.3h0M401.7 104.9h0M374.9 137.9h0M365.2 125.7h0M366.1 125.1h0M377.1 75.5h0M359 113.6h0M367.3 77.8h0M377.1 76.5h0M356 103.7h0M371.1 74.4h0M369.5 134.3h0M356 76.3h0M353.6 83.9h0M366 125.5h0M370.8 73.8h0M353 93.2h0M364 123.5h0M360.3 121.8h0M396.1 108.8h0M358.6 115.1h0M409.4 77.3h0M413.7 92.7h0M382.6 133.5h0M366.9 127.5h0M372.9 137.6h0M406.6 80.8h0M384.7 121.3h0M361.1 114.5h0M362.1 117.3h0M396.9 110.4h0M396.2 76.3h0M365.2 76.8h0M382 131h0M383.7 122.5h0M399.4 77.4h0M410.9 95.7h0M407.3 78.9h0M365.3 125.9h0M366.2 124.6h0M355.5 92.5h0M412.1 96.6h0M379.6 76.7h0M374.4 139.3h0M358.6 112.9h0M412.3 87.4h0M355.3 100.8h0M351.7 80.4h0M399.7 107.2h0M395.5 109.2h0M352.1 93.2h0M369.8 76.6h0M363.4 115.5h0M389.1 118.7h0M391.1 112.5h0M384.8 124.3h0M369 76.8h0M354.8 84.9h0M379.8 77.9h0M396.6 75.4h0M407.8 101.7h0M368.3 134.5h0M360 111.4h0M413.7 93.1h0M393.1 76.2h0M390.3 115.5h0M389.8 114.1h0M383.4 128.9h0M364.7 75.4h0M388 77.7h0M373.4 75.9h0M407.6 103.2h0M353.3 83.5h0M384.6 119.3h0M397.1 75.7h0M358.2 73.7h0M360.2 112.5h0M410.2 84.1h0M379.7 134.8h0M402.1 76.6h0M386.3 128h0M354.8 85.8h0M381.9 134.7h0M412.2 95.8h0M404 76.6h0M394.7 113.2h0M352.5 97.9h0M412.3 91.8h0M412.1 92.5h0M388 76.3h0M367.4 130.7h0M357.4 111.2h0M366 126.1h0M371.4 133.4h0M373.3 137.6h0M352.4 87.6h0M390.9 115.1h0M380.1 136.5h0M379.7 134.9h0M397.7 110.2h0M354.5 81.3h0M380.6 131.8h0M393.2 113.9h0M403.1 103.7h0M360.2 113.4h0M396.6 78.4h0M352.9 91.7h0M354.2 95.6h0M354.7 96.1h0M352.6 83.5h0M363.9 124h0M354.5 90.8h0M371 74.9h0M352.7 82.9h0M374.3 77.1h0M384.1 125.2h0M370.1 74.3h0M375.1 75.9h0M410.2 94.9h0M359.7 74.4h0M364.9 127.2h0M353.1 87.2h0M379.2 136.6h0M389.5 76.6h0M384.4 122.9h0M392.1 75.1h0M372.8 76.9h0M405.4 103.8h0M366.6 74h0M380.2 136h0M379.9 134.9h0M381 128.3h0M353.7 85h0M369.9 76h0M369.1 133h0M355.2 98.1h0M390.8 116.8h0M368.8 130.8h0M378.9 76.1h0M407.4 80.9h0M376.9 137.3h0M412.7 95.1h0M412.6 97.4h0M405.5 102.8h0M357.6 112.1h0" stroke="#2ea838" stroke-width="1.1" stroke-linecap="round" fill="none"/>
<path d="M376.9 29.5 385 30.5 390.1 35.6 393.2 40.6 400.3 41.7 406.4 45.7 409.4 52.8 410.4 61 409.4 69.1 407.4 77.2 400 77.5 392 78 384 78.5 380 80 379 86 375 89 369 88 367 82 362 78.5 358 77 353.5 76 354.5 61 357.6 48.8 363.7 37.6 369.8 32.5 Z" fill="#e57e74"/>
<path d="M376.9 29.5 385 30.5 390.1 35.6 393.2 40.6 400.3 41.7 406.4 45.7 409.4 52.8 410.4 61 409.4 69.1 407.4 77.2 400 77.5 392 78 384 78.5 380 80 379 86 375 89 369 88 367 82 362 78.5 358 77 353.5 76 354.5 61 357.6 48.8 363.7 37.6 369.8 32.5 Z" fill="url(#spk)"/>
<path d="M376.9 29.5 385 30.5 390.1 35.6 393.2 40.6 400.3 41.7 406.4 45.7 409.4 52.8 410.4 61 409.4 69.1 407.4 77.2 400 77.5 392 78 384 78.5 380 80 379 86 375 89 369 88 367 82 362 78.5 358 77 353.5 76 354.5 61 357.6 48.8 363.7 37.6 369.8 32.5 Z" fill="url(#spk2)"/>
<path d="M376.9 29.5 385 30.5 390.1 35.6 393.2 40.6 400.3 41.7 406.4 45.7 409.4 52.8 410.4 61 409.4 69.1 407.4 77.2 400 77.5 392 78 384 78.5 380 80 379 86 375 89 369 88 367 82 362 78.5 358 77 353.5 76 354.5 61 357.6 48.8 363.7 37.6 369.8 32.5 Z" fill="url(#spk3)"/>
<path d="M408.4 59h0M389.6 36.4h0M409.5 65.3h0M373.1 88.8h0M411.2 61.6h0M357.6 76.4h0M405.9 47h0M358 49.9h0M381.3 30.1h0M395.1 77.9h0M396.8 40.5h0M410.3 72h0M392.6 40.9h0M411.7 56.2h0M351.9 72.8h0M370.2 31.4h0M384.5 30.9h0M360.9 46.8h0M411.4 55.3h0M384.9 33.3h0M354.9 57.2h0M382.2 29.6h0M353 63.1h0M381.3 83.1h0M401 76.9h0M407.6 75.9h0M402.4 77.6h0M355.6 55h0M410.3 58.4h0M390.1 38.5h0M394.9 42.1h0M350.9 70.6h0M410 57.5h0M362.8 37.8h0M356.4 55h0M361.6 43.2h0M354.5 58.4h0M401 79.5h0M354.9 61.2h0M373.2 87.9h0M382.5 28.7h0M353 75.7h0M357.4 56.9h0M350.6 76.4h0M366.9 81h0M397.5 79h0M356.7 66.7h0M359.7 48.2h0M354.9 70.7h0M384.6 80.6h0M404.6 77.8h0M377.3 88.6h0M365.2 81.5h0M385.2 29.8h0M380.3 79.4h0M363.5 39.8h0M354.5 60.3h0M392.8 79.9h0M389.8 37.4h0M407.9 73.4h0M368.1 83.4h0M374.2 88h0M381.6 29.8h0M410.8 62.6h0M409.9 53.8h0M368.7 81h0M371.4 86.5h0M408 62.6h0M366.2 33.3h0M409 74.9h0M408.3 52h0M366.6 81.7h0M408.7 49.6h0M361.2 38.7h0M404.3 46.9h0M409.7 63.5h0M363.7 79.1h0M373.5 31.3h0M375.2 28.6h0M382.7 77.8h0M410.1 62.5h0M356.1 76.8h0M382 80.5h0M360.2 77h0M381.2 81.4h0M383.4 30.7h0M407.1 75h0M391.8 37.2h0M374.8 30.3h0M407.6 48h0M398.4 39.2h0M365.4 35.8h0M356.2 69.7h0M371.9 29.6h0M352.8 76.9h0M365.2 36h0M391.7 76.7h0M385.6 77.8h0M408.4 49.8h0M379.3 29.2h0M358.5 49.4h0M410 68.8h0M353.5 56.8h0M393.3 41.8h0M354.6 55.8h0M357.7 44.8h0M354.3 54.6h0M358.2 47.7h0M382 28.1h0M407.7 44.4h0M403.7 44.7h0M368.6 84.9h0M409.9 48.1h0M394.5 39.4h0M362.3 38.4h0M410.1 52.9h0M365.6 39.2h0M380 27h0M408 69.7h0M388.8 32.3h0M356 58h0M409.5 52.9h0M380.3 30.8h0M358 48.9h0M352.7 70.7h0M363.1 79h0M393.5 78.2h0M355.1 77.5h0M356.2 52.4h0M397.7 44.3h0M404.1 75.3h0M353.4 77.7h0M381.7 79.5h0M364.9 79.4h0M403.7 44.2h0M358.4 76.3h0M405.1 80.3h0M379.4 80.1h0M355.4 60.3h0M395.7 41.4h0M398.1 78h0M372.4 31h0M404.4 43.5h0M396.4 77.7h0M358.3 77h0M381.4 81.1h0M387.7 75.2h0M352.9 68.1h0M393.4 39.9h0M402.5 76.9h0" stroke="#e57e74" stroke-width="1.1" stroke-linecap="round" fill="none"/>
<path d="M409.4 79.3 415.5 77.2 421.6 80.3 427.7 81.3 430.7 85.3 433.8 91.4 434.8 96.5 431.8 101.6 425.7 102.6 419.6 100.6 413.5 99.6 410.4 95.5 409.4 87.4 Z" fill="#6a92d6"/>
<path d="M409.4 79.3 415.5 77.2 421.6 80.3 427.7 81.3 430.7 85.3 433.8 91.4 434.8 96.5 431.8 101.6 425.7 102.6 419.6 100.6 413.5 99.6 410.4 95.5 409.4 87.4 Z" fill="url(#spk)"/>
<path d="M409.4 79.3 415.5 77.2 421.6 80.3 427.7 81.3 430.7 85.3 433.8 91.4 434.8 96.5 431.8 101.6 425.7 102.6 419.6 100.6 413.5 99.6 410.4 95.5 409.4 87.4 Z" fill="url(#spk2)"/>
<path d="M407.2 89.8h0M410.3 78.9h0M426 101.3h0M408.5 84.6h0M412.3 98.8h0M409.5 86.2h0M431.5 100.9h0M409.3 93.7h0M431 85.9h0M407.4 92.1h0M409.3 95.4h0M436 93.5h0M424.3 79.7h0M433.1 89h0M415.9 100.2h0M410.3 85.1h0M433.6 90.6h0M416 77.8h0M421.4 101.8h0M428.3 83.6h0M408.9 89.5h0M411.7 98.9h0M421.2 102.6h0M409.7 85.6h0M409.5 86.8h0M423.1 102.4h0M423 101.8h0M430.6 100.3h0M414.6 98.1h0M433.3 98.1h0M414.3 77.8h0M428.4 81.1h0M430.1 100.5h0M421.1 81.4h0M432.9 90.6h0M408.2 86.6h0M428.6 81.7h0M418.2 100.7h0M432.8 87.1h0M410.8 92.7h0M409.2 80.6h0M428.1 83.8h0M433.5 92.7h0M434.2 99.5h0M425.2 101.7h0M434.9 99.6h0M418.1 79.7h0M434.8 96.1h0M429.6 85.4h0M418.9 79.4h0M429.2 100h0M410.2 85h0M417.9 102.3h0M432.9 100h0M433.3 90.4h0M433.6 99h0M434 93h0M419.6 77.4h0M409.7 89.9h0M411.6 78.3h0M431.2 101.9h0M434.8 94.4h0M430 84.8h0M430.8 88.1h0M413.1 97.9h0M430.5 85.2h0M423.3 101.7h0M423.6 104.6h0M431.8 86.5h0M427.8 80h0M433.3 89.1h0M426 80.7h0M410.3 98.3h0M421.8 100.3h0M423.5 80h0M410.2 79.6h0M428.8 81.1h0M419.1 77.3h0M415.9 77.7h0M408.5 88.8h0" stroke="#6a92d6" stroke-width="1.1" stroke-linecap="round" fill="none"/>
<path d="M376.9 110.8h0M397.3 104.4h0M383 94.1h0M390.9 79.5h0M383.7 102h0M388.4 92.9h0M402.2 91.4h0M385.2 102.5h0M384.6 98h0M379.9 92.1h0M379.2 91.7h0M357.1 98.1h0M371.5 92.2h0M385.5 93.4h0M395.9 94.2h0M393.8 91.6h0M391.1 97.8h0M383 92.4h0M384.9 116h0M403.3 91.2h0M386.7 110.8h0M377 100.7h0M384.3 124.1h0M388.8 107.8h0M392 91.5h0M397.8 81.8h0M371.8 133.3h0M400.3 84.3h0M365.1 121.2h0M391.7 76.9h0M384.3 86.9h0M368.3 116.1h0M359.5 90.5h0M396.3 82.8h0M375.1 133.9h0M377 84.6h0M391.5 97.1h0M399.9 98.1h0M363.2 109.6h0M379.2 82.8h0M407.3 96.6h0M389.2 78.8h0M393.5 83.3h0M392.3 104.6h0M380.9 88.8h0M396.8 100.4h0M385.5 94.1h0M391.8 102.2h0M399.5 93.4h0M375.4 80.2h0M354.8 88.6h0M375.3 130.7h0M374 90.5h0M389.1 97.5h0M353.5 83.3h0M398.7 96.7h0M383.4 92.6h0M377.2 132.8h0M367.6 101.8h0M373.5 120.5h0" stroke="#e2786e" stroke-width="1.2" stroke-linecap="round" fill="none"/>
<path d="M390.7 52.1h0M401.8 72.4h0M393.9 57.7h0M376.7 73.6h0M393.1 59.4h0M397.3 58.3h0M360.3 60.6h0M379.8 79.2h0M373.5 51.1h0M393.3 63.6h0M369.9 38.8h0M377.4 82.4h0M393.1 70.4h0M354.6 60.6h0M376.4 84.1h0M389.1 42.9h0M357.2 57.6h0M384.9 57.3h0M386.6 33.2h0M374 78.9h0M369.9 40.7h0M403 53.6h0M372.2 51.4h0M395.6 50.7h0M355.6 68.7h0M368 82.3h0M363.8 69.2h0M378.3 32.3h0M369.5 47.9h0M397.6 75.4h0M365.5 51.7h0M371.7 41.8h0M384.1 37.4h0M371.3 46.9h0M395.4 55.1h0M364.2 67.4h0M397.3 72.6h0M382.4 72.5h0M372.4 85.9h0M395.6 77.2h0" stroke="#2ea838" stroke-width="1.2" stroke-linecap="round" fill="none"/>
<line x1="347.4" y1="17.3" x2="347.4" y2="145.3" stroke="#555" stroke-width="1"/>
<line x1="347.4" y1="145.3" x2="436" y2="145.3" stroke="#555" stroke-width="1"/>
<line x1="344.9" y1="43.3" x2="347.4" y2="43.3" stroke="#555" stroke-width="0.8"/>
<text x="345" y="46.4" text-anchor="end" fill="#3a3a3a" font-size="8.6">4</text>
<line x1="344.9" y1="78.2" x2="347.4" y2="78.2" stroke="#555" stroke-width="0.8"/>
<text x="345" y="81.3" text-anchor="end" fill="#3a3a3a" font-size="8.6">0</text>
<line x1="344.9" y1="113.2" x2="347.4" y2="113.2" stroke="#555" stroke-width="0.8"/>
<text x="345" y="116.3" text-anchor="end" fill="#3a3a3a" font-size="8.6">-4</text>
<line x1="349.3" y1="145.3" x2="349.3" y2="147.8" stroke="#555" stroke-width="0.8"/>
<text x="349.3" y="154.5" text-anchor="middle" fill="#3a3a3a" font-size="8.6">-5.0</text>
<line x1="366.2" y1="145.3" x2="366.2" y2="147.8" stroke="#555" stroke-width="0.8"/>
<text x="366.2" y="154.5" text-anchor="middle" fill="#3a3a3a" font-size="8.6">-2.5</text>
<line x1="383.1" y1="145.3" x2="383.1" y2="147.8" stroke="#555" stroke-width="0.8"/>
<text x="383.1" y="154.5" text-anchor="middle" fill="#3a3a3a" font-size="8.6">0.0</text>
<line x1="400" y1="145.3" x2="400" y2="147.8" stroke="#555" stroke-width="0.8"/>
<text x="400" y="154.5" text-anchor="middle" fill="#3a3a3a" font-size="8.6">2.5</text>
<line x1="416.9" y1="145.3" x2="416.9" y2="147.8" stroke="#555" stroke-width="0.8"/>
<text x="416.9" y="154.5" text-anchor="middle" fill="#3a3a3a" font-size="8.6">5.0</text>
<line x1="433.8" y1="145.3" x2="433.8" y2="147.8" stroke="#555" stroke-width="0.8"/>
<text x="433.8" y="154.5" text-anchor="middle" fill="#3a3a3a" font-size="8.6">7.5</text>
<text x="396" y="165" text-anchor="middle" font-size="9">UMAP_1</text>
<text x="336.3" y="73.4" text-anchor="middle" font-size="9" transform="rotate(-90 336.3 73.4)">UMAP_2</text>
<circle cx="443" cy="74.2" r="1.6" fill="#e8756b"/>
<text x="447" y="77.2" fill="#333" font-size="8.5">0-1</text>
<circle cx="443" cy="82.6" r="1.6" fill="#2eb03a"/>
<text x="447" y="85.6" fill="#333" font-size="8.5">0-2</text>
<circle cx="443" cy="91.2" r="1.6" fill="#6b9be0"/>
<text x="447" y="94.2" fill="#333" font-size="8.5">6</text>
<line x1="495.9" y1="18.3" x2="495.9" y2="134.6" stroke="#555" stroke-width="1"/>
<line x1="495.9" y1="134.6" x2="688" y2="134.6" stroke="#555" stroke-width="1"/>
<line x1="493.4" y1="54.8" x2="495.9" y2="54.8" stroke="#555" stroke-width="0.8"/>
<text x="492.6" y="57.9" text-anchor="end" fill="#3a3a3a" font-size="8.6">2.5</text>
<line x1="493.4" y1="93" x2="495.9" y2="93" stroke="#555" stroke-width="0.8"/>
<text x="492.6" y="96.1" text-anchor="end" fill="#3a3a3a" font-size="8.6">0.0</text>
<line x1="493.4" y1="130.6" x2="495.9" y2="130.6" stroke="#555" stroke-width="0.8"/>
<text x="492.6" y="133.7" text-anchor="end" fill="#3a3a3a" font-size="8.6">-2.5</text>
<line x1="537" y1="134.6" x2="537" y2="137.1" stroke="#555" stroke-width="0.8"/>
<text x="537" y="144.8" text-anchor="middle" fill="#3a3a3a" font-size="8.6">-4</text>
<line x1="585.6" y1="134.6" x2="585.6" y2="137.1" stroke="#555" stroke-width="0.8"/>
<text x="585.6" y="144.8" text-anchor="middle" fill="#3a3a3a" font-size="8.6">0</text>
<line x1="636" y1="134.6" x2="636" y2="137.1" stroke="#555" stroke-width="0.8"/>
<text x="636" y="144.8" text-anchor="middle" fill="#3a3a3a" font-size="8.6">4</text>
<text x="590.5" y="153" text-anchor="middle" font-size="9">Component 1</text>
<text x="477.6" y="77.2" text-anchor="middle" font-size="9" transform="rotate(-90 477.6 77.2)">Component 2</text>
<polyline points="505.7,24.9 509.5,31.8 513.3,40.1 517.9,47 524,56.1 530,65.3 536.1,74.4 542.2,82 548.3,89.7 556,95.8 562,100.3 567.4,103.4" fill="none" stroke="#f27d72" stroke-width="5" stroke-linejoin="round"/>
<polyline points="581.6,106.9 583.2,108.3 589.5,106.8 599,103.6 608.5,100.4 618,95.7 627.5,89.4 637,82.2 646.4,75.1 655.9,65.6 665.4,54.6 671.8,46.6 678.9,40.3" fill="none" stroke="#f27d72" stroke-width="3.6" stroke-linejoin="round"/>
<polyline points="567.4,103.4 566.6,106.4 565.4,114 563.6,121.7 561,126.5" fill="none" stroke="#f27d72" stroke-width="2" stroke-linejoin="round"/>
<path d="M534 71.3h0M560.3 98.4h0M531.9 63.9h0M564.6 96.9h0M530 62.8h0M565.2 98.9h0M525.6 49.6h0M533.9 68.7h0M535.4 72h0M535.1 72h0M554.7 92.9h0M555.4 94.1h0M514.6 41h0M544.7 84.1h0M534.6 69.2h0M528.8 57.7h0M512.2 35.1h0M562.2 95.8h0M564.7 105.9h0M549 84.9h0M536.1 74.6h0M512.9 30.7h0M522.3 53h0M523.4 53.4h0M509.7 31.8h0M525.5 57.7h0M526.2 56.2h0M526.2 60.9h0M509.3 29.9h0M513.4 36.1h0M564.5 99.2h0M537.8 70.5h0M516.6 46.7h0M530.7 63h0M523.6 56.5h0M531.5 67h0M514.1 40.8h0M549 87.1h0M559.9 102.5h0M541.8 77h0M564.8 99.2h0M552.7 91.5h0M534.6 69.9h0M534.7 69.5h0M543.6 82.7h0M525.9 55.6h0M511.7 30.6h0M533 62.2h0M552.5 91.6h0M543.5 80.6h0M508.5 28.9h0M555.1 90.8h0M510.2 27.5h0M535.6 67.9h0M516.1 40h0M522.9 49.9h0M515.7 46.7h0M538.4 77.6h0M546.7 83h0M557.1 97.6h0M534.3 67.6h0M511.1 28.2h0M507.9 27.4h0M512.1 32.4h0M511.6 36.8h0M515.5 39.6h0M521 50.3h0M516 36.7h0M555.8 96.1h0M524.5 56h0M531.9 67.1h0M551.2 89.8h0M513.3 41.8h0M531.8 68h0M508.7 27.8h0M531.1 67.1h0M562.2 98.8h0M536.8 73.1h0M521.1 51.5h0M541.1 78.3h0M534.6 67.6h0M531.4 67.8h0M540.2 78.6h0M545.1 84.5h0M559.3 95.9h0M566 100.9h0M565.5 98.7h0M551 92.8h0M543.3 81.9h0M552.6 90.2h0M514.8 41.3h0M515.9 41.3h0M556 93.1h0M528.1 63.4h0M507.3 26.6h0M545.9 87.7h0M512.9 36h0M520 47.9h0M560.1 100.4h0M515.6 40.5h0M552.6 94.8h0M519.5 48.8h0M551 89.6h0M526.9 56.8h0M538.2 73.2h0M541 84.9h0M546.5 84.4h0M516.8 42.5h0M540.7 82.9h0M516.6 39.1h0M516.9 47.4h0M550.2 88.9h0M513.9 38.5h0M527.5 60.5h0M510.8 35.3h0M537.4 74.1h0M513.3 41.5h0M523.7 56.8h0M565.4 102h0M529.2 63.1h0M530.2 68.7h0M507.7 27.4h0M519.2 47.6h0M511.3 34.6h0M540.3 77.4h0M512.1 40.6h0M516.1 40.5h0M512.6 38.5h0M547.7 87.4h0M542 80h0M522.9 49.4h0M521.3 53.1h0M518.3 50.3h0M537.4 70h0M536.8 72.1h0M512.7 37h0M514.8 38.5h0M540.3 78.3h0M521.7 48.5h0M542.6 81.2h0M511.9 40.4h0M511.6 33.1h0M512.1 28.9h0M555.8 96.4h0M536.1 68.8h0M508.5 25.2h0M525.9 55.4h0M540.6 78h0M517.1 43.3h0M553.6 93.3h0M507.1 25.3h0M533.5 70h0M535.8 74.5h0M512.9 43h0M566.3 103.2h0M535.3 71.4h0M512.1 37h0M549.1 88h0M508.8 26.9h0M545.7 81.9h0M554.5 92.7h0M540.5 78.6h0M507.1 25.9h0M509.2 30.3h0M555 92h0M554.4 95.2h0M517.7 48.5h0M562.2 99.4h0M551.7 92.4h0M509.4 35.8h0M557.6 96.2h0M505.2 27.2h0M521.5 53.2h0M517 43.3h0M517.4 41.8h0M532.7 67.7h0M509.8 28.9h0M564.9 101.6h0M515.5 43.6h0M539.9 84.9h0M526.4 54.1h0M560.4 97.8h0M534.4 73.8h0M531.6 67.6h0M551.4 87.3h0M535.2 72.8h0M528.8 64.1h0M516.8 39.1h0M551.6 90.8h0M539.5 77.8h0M530.2 65.5h0M567.5 101.1h0M531.1 64.4h0M546.2 87h0M514.7 38.8h0M525.1 55.9h0M539.7 78.6h0M518 48.1h0M568.1 101.5h0M566.7 102.5h0M539.1 81.2h0M546 85.2h0M520.1 47.2h0M549.5 90.1h0M556.1 94.8h0M528.2 65.9h0M533.7 74.3h0M542.1 80.1h0M518.2 47.7h0M509.6 28.6h0M515.5 40.6h0M533.8 70h0M537.5 80.7h0M554.9 94.4h0M522.7 46.8h0M513.4 38.9h0M531 59.2h0M514.5 39.6h0M519.4 47.4h0M531.6 66.1h0M545.3 81.9h0M513.7 33.3h0M515.4 38.6h0M530.8 65.1h0M534 69.1h0M515 40h0M544.5 79h0M536 74.1h0M566.7 99.1h0M562.9 101.1h0M540.6 77h0M510 33.4h0M534.5 68.6h0M519.7 49.1h0M522.3 47.5h0M510.5 31h0M543.6 82.7h0M541.4 80.4h0M520.2 48h0M518.4 44.7h0M565.3 104.5h0M534.5 73.1h0M547.7 82.2h0M517.7 46h0M564.1 98.3h0M546 85.2h0M532.9 68.2h0M509.9 35h0M528.5 61.2h0M507.2 26.2h0M518.4 41.3h0M549.8 89.2h0M511.4 34h0M518.1 41.2h0M524.1 54.7h0M565.3 101.2h0M515.3 39.3h0M531.2 58.9h0M535.9 69.4h0M509.6 27.8h0" stroke="#f27d72" stroke-width="1.5" stroke-linecap="round" fill="none"/>
<path d="M553.7 92.9h0M517.4 40.6h0M538.9 78.5h0M516 42h0M523.6 52.6h0M550 91.6h0M559.3 101.6h0M505.9 25.5h0M548.3 91.4h0M543.5 85.8h0M544.2 84.6h0M509.6 39.4h0M522.6 55.3h0M545.4 89.7h0M514.3 44h0M512.1 41.6h0M529.3 67.3h0M512.6 40.3h0M519 47.7h0M510.3 40.2h0M515.1 44.1h0M509.4 35.1h0M525.4 61h0M521 55.6h0M512.6 36.6h0M515.3 40.7h0M527.1 59.9h0M507.4 33h0M521.4 51h0M506.3 30.6h0M543.5 88.4h0M510.3 36.7h0M527.9 67h0M510.8 38.3h0M542.3 84.9h0M564.5 103.7h0M544 84.5h0M510.4 31.8h0M514.5 41.9h0M516.6 39.1h0M556.5 98.7h0M507.6 32.9h0M546.7 90.3h0M549.4 89.2h0M555.1 92.7h0M527.5 61.5h0M526.4 61.6h0M523.5 54.7h0M539.5 82.5h0M530.1 66.8h0M542.7 85.8h0M526.7 64.2h0M551.8 95.9h0M535.9 77.1h0M517.2 50.1h0M524.8 63.5h0M516 45.7h0M558.9 101.6h0M506.8 29.4h0M525.2 60.6h0M526.7 63.1h0M537.2 78.2h0M509.2 34.5h0M540.2 83.4h0M512 37.6h0M518.9 49.9h0M524.1 51.5h0M509.3 32h0M567.1 104.6h0M507.8 30.6h0M559.2 97.3h0M543.6 82.9h0M561.1 100.1h0M537.7 75.3h0M532.5 73.2h0M529.8 62.8h0M536.7 71h0M520.2 54.9h0M513.6 41.6h0M536.1 75.7h0M550.8 91.3h0M563.8 104.9h0M556.9 102.9h0M536.6 77.5h0M512.1 45.7h0M533.9 74.8h0M513.5 39.8h0M554.6 96.2h0M546.3 89.5h0M524 57.7h0M517.1 56.4h0M558.3 96.8h0M529.8 62.7h0M509.3 32.6h0M543.7 80.1h0M525.3 62.2h0M512.3 35h0M553.7 96.8h0M514.5 43.4h0M511.2 44.4h0M531.6 72.5h0M515.1 47.8h0M522.2 53.7h0M527.1 66.1h0M561.3 101.6h0M536.3 76.9h0M526.6 64.5h0M551.8 95.4h0M561.4 98.4h0M561.3 98.3h0M506.9 27.7h0M550.7 93.9h0M549.1 91.4h0M544 85.7h0M544.2 87.8h0M539.7 83.4h0M515.3 43.8h0M559.8 101.7h0M549.1 93.1h0M515 47.8h0M534.3 70.2h0M515.4 41.7h0M515.9 47.3h0M541.5 77.2h0M512.1 36.9h0M505.8 25.6h0M536.8 79.3h0M536 79.2h0M559.1 99.2h0M507 27h0M520.3 52.9h0M511.1 35.8h0M559.1 100.2h0M551.1 91.6h0M511.2 38.6h0M528.5 67.4h0M542.6 84.3h0M537.4 78.7h0M529 66.5h0M535.4 70.5h0M517.7 42.1h0M507.1 32.1h0M512.4 39.5h0M531.5 69.4h0M510.1 39.2h0M557.3 98h0M518.6 51h0M502.9 28.6h0M540.1 81.9h0M541 82.1h0M543.4 90.2h0M526.9 65.1h0M558.9 100.8h0M541.6 83.6h0M560.6 101.7h0M551.6 91.6h0M518.3 50.8h0M525.9 63.5h0M517.2 42.9h0M539.5 78.4h0M525.3 59.5h0M528.3 66.4h0M524.1 57.8h0M512.7 41.1h0M536.8 76.7h0M545.3 85.9h0M523.7 56.2h0M511.9 37h0M537.2 78.8h0M538.2 79.6h0M534 71.7h0M552.7 93.3h0M561.5 101.7h0M546.3 90.9h0M535.9 77.1h0M562.9 99.8h0M535.4 73.5h0M530.6 71.3h0M513.3 43.4h0M522.7 52.4h0M523.4 57.8h0M516.9 48.6h0M520.2 48h0M514.5 41.1h0M511.5 34.1h0M532.3 74.2h0M529.5 62.7h0M551.6 91h0M545.8 86.3h0M562.3 100.8h0M558.3 99.3h0M507.3 36.7h0M542.4 80.8h0M562.4 99.5h0M508.1 33.4h0M514.7 35.5h0M507.2 27h0M514.7 39.3h0M562.2 101.3h0M557.8 97.7h0M513.8 38h0M506.5 24.5h0M511.3 34.4h0M555.4 95.9h0M520 54.2h0M535.5 73.8h0M521.4 57.6h0M526.2 62.4h0M539.6 79.9h0M561.9 101.6h0M507.2 31.9h0M525.7 62h0M544.2 85.5h0M549.5 91h0M535.9 82.2h0M518.6 50.1h0M505.5 28.4h0M514.5 47h0M533.8 74.5h0M559.1 96.9h0M537.6 75.7h0M536.4 76h0M525.1 58.8h0M546.9 88.7h0M564 103.9h0M529.4 66.6h0M541 78.9h0M534.1 69.8h0M514.9 49.6h0M558.7 99h0M508.8 32.3h0M526.8 60.9h0M559 100.8h0M534.4 75h0M523.7 60.4h0M514.6 45.2h0M524.8 57.3h0M547.6 88h0M540.8 83.5h0M541.4 76.2h0M562.3 102.4h0M524 57.9h0M517.4 50.8h0M537.2 78.7h0M560.1 100.8h0M542.2 86.2h0M554.3 96.7h0M551.7 95.8h0M506 26.8h0M540.8 79.9h0M518.6 46.7h0M543.4 83h0M548.9 93.2h0M549.9 93.5h0M513.6 42.7h0M523.3 59h0M508.7 40.7h0M552.4 94h0M545.1 84.6h0M535 73.5h0M533.3 72.6h0M543.8 88.4h0M526 65.9h0M515.1 39.5h0M563.4 102.2h0M548.8 90.2h0M534.5 65.7h0M536.3 73.1h0M514 45.1h0M517.3 45.6h0M507 30.8h0M542.1 82h0M550.4 94.2h0M520.2 47.9h0M514.5 42.6h0M527.3 62.9h0M515 53.5h0M548.1 88.6h0M518.4 47h0M516.1 49h0M524.8 62.3h0M557.2 93.4h0M542.1 87.6h0M508.8 37.1h0M513.7 36.2h0M506.5 30.3h0M542.5 82.2h0M537.5 82.7h0M512.9 39.9h0M517.8 50.6h0M553.8 98.3h0M504.1 31.9h0M544.3 88.5h0M552.6 93.4h0M542 79.9h0M521.9 51.5h0M547.1 86.7h0M559.6 100h0M537.3 72h0M536.9 79.1h0M536.4 77.4h0M560.4 101.7h0M563.5 103.5h0M539.4 84.1h0M530 68.5h0M511.6 35.5h0M529.8 68.1h0M526.9 62h0M541.9 83.6h0M528.3 69.2h0M518.3 46.7h0M515.8 42h0M544.6 90.8h0M534.6 74.8h0M548.9 89.8h0M514 43.6h0M526.8 64.1h0M509.7 34.8h0M513.3 42.3h0M522.9 56.3h0M520.1 48.9h0M561.4 102.6h0M508.2 35.5h0M531.4 71.2h0M508.7 34.2h0M557.1 96.7h0M509.3 34.2h0M553.2 96.7h0M521 53h0M525.7 55.7h0M505.2 36.6h0M540.9 78.3h0M507.6 32.9h0M539.6 84h0M534.1 70.8h0M516.8 50.5h0M538.8 82.9h0M545.3 85.1h0M508 32.1h0M561 97.4h0M555.5 98.3h0M550.3 92.6h0M559.9 100.3h0M523.3 55.3h0M510 38.1h0M527 63.1h0M561.7 97.9h0M541.2 84h0M511 34.1h0M547.6 87.8h0M550.2 93.9h0M530.1 65.4h0M542.5 79.5h0M556.3 97.5h0M526.7 61.7h0M549 92h0M535.9 74h0M549.9 90.2h0M554.4 96.8h0M511.7 38.2h0M512.9 42.8h0M534.9 76.9h0M522.2 56.3h0M518.8 52.2h0M504.2 25.7h0M528.2 63h0M567.3 104.6h0M526.1 60.8h0M517.1 43.5h0M523.5 58.6h0M534.3 77.2h0M505.3 28.2h0M511.8 40.7h0M533.5 70.5h0M520.7 58.2h0M541.6 85.1h0M508.8 36.9h0M505 32.7h0M557.4 101.4h0M545.4 90.9h0" stroke="#22b33c" stroke-width="1.5" stroke-linecap="round" fill="none"/>
<path d="M511.3 34.1h0M508.8 26.1h0M506 25.3h0M507.1 32.3h0M504.8 24.8h0M504 26.4h0M514.3 41.3h0M507.8 29.8h0M508.9 30h0M513.7 41.5h0M509.4 34.6h0M510.1 34.6h0M509.7 27.1h0M509.5 38.1h0M507.5 30.9h0M507.7 32h0M510.7 35.1h0M506.5 26.2h0M509.4 31.6h0M510.2 33h0M508.4 29.2h0M510.6 33.4h0M511.4 40.1h0M507.2 28.6h0M506.3 29.1h0M513.1 41.3h0M513.5 39.7h0M507.8 25.1h0M512.6 35h0M504.2 27.4h0M509.7 34.4h0M505.7 27.6h0M508.3 25.7h0M510.1 36.5h0M505.7 29.9h0M509.7 35.4h0M511 38h0M511.1 42h0M510 31.7h0M509 29.9h0M511 38.4h0M506 28.6h0M509.9 31.8h0M514.4 41.3h0M503.8 28.3h0M512 37.6h0M514.4 38.4h0M507.5 29.6h0M507.7 30h0M513.7 41.3h0M510.6 36.6h0M510.7 32.4h0M512.3 36.1h0M508 28h0M508.5 36.3h0M505.5 31.8h0M513.4 35.5h0M506.2 28.2h0M509.4 32.1h0M507.5 28.6h0M515.9 41.2h0M509.2 29.9h0M506.7 28.2h0M507.2 26.1h0M508.5 27h0M505.5 27.2h0M514 43h0M510.5 39.4h0M510.5 35.6h0M510.2 38.3h0M505.7 26.8h0M508.2 27.4h0M502.8 26.5h0M506.4 27.7h0M510.8 32.9h0M509.9 30.7h0M506.8 28.1h0M514.3 42.8h0M509.5 29.1h0M509 30h0M511.5 40.4h0M511.3 40.7h0M511.9 37.1h0M507.7 31.9h0M512.4 41.6h0M506.4 31.5h0M512.2 36.3h0M506.6 27.6h0M505.2 27.2h0M505.4 29.8h0M507.2 31h0M504.3 26.6h0M512.3 34.6h0" stroke="#6d9cf2" stroke-width="1.8" stroke-linecap="round" fill="none"/>
<path d="M598 105.1h0M601 104h0M624 92h0M634.4 84.1h0M584.5 107.4h0M628.3 89.2h0M609.1 99.8h0M653.4 68.7h0M673.8 46.5h0M628.9 87h0M588.8 108.5h0M642.1 75.3h0M645.4 77.6h0M628.7 91.1h0M641.3 78.4h0M664.2 54.6h0M607.9 99.7h0M623.1 94.1h0M658.8 63.6h0M589.8 109.2h0M653.5 70.3h0M601.3 103.1h0M613.4 98h0M664 59.4h0M660.7 61.8h0M628.3 90.3h0M658.4 64.2h0M601.7 102.1h0M646 75.6h0M640.8 77.1h0M672.6 45.8h0M666 51.4h0M639.1 83h0M609.8 101h0M601.1 101.2h0M673 42.5h0M593.7 106.9h0M612.6 98.8h0M641.1 78.8h0M586 104.9h0M674.8 46.6h0M654.5 68.7h0M668.9 54.1h0M629.6 85.1h0M649.9 67.3h0M583.3 105.9h0M663.8 56.2h0M666.6 52h0M636.4 85.4h0M649 69.6h0M606.2 99.3h0M612.9 94h0M625.3 90.3h0M659.3 62.2h0M676.4 43.3h0M602.6 102.5h0M675.2 45.6h0M651.3 69.8h0M597.6 105.4h0M660.8 58.9h0M615.3 98h0M587 110h0M626.2 89.6h0M593.3 105.2h0M668 48.4h0M603.9 101.5h0M608.4 99.5h0M588.7 106.7h0M635.8 86.3h0M636 81.1h0M608.3 101h0M654.2 65.5h0M671.5 45.7h0M600.1 103.4h0M613.3 100.5h0M603.9 101.8h0M626.3 87.7h0M629.1 88.4h0M620.8 92.6h0M640.4 78.9h0M670.1 46.9h0M643.3 79.5h0M595.4 105.7h0M636.4 83.7h0M639.6 80.9h0M634.6 81.2h0M609.4 98h0M625.9 93.5h0M618.2 95.3h0M643.7 75.8h0M677.5 40.7h0M631.3 88.2h0M621.2 94.9h0M589.5 108.8h0M597.2 102.1h0M609.8 100.5h0M641.1 78.4h0M650.1 74h0M625.4 92.8h0M665.8 56.8h0M677.6 42.1h0M620.3 92h0M665.3 53.5h0M637 80.5h0M608.7 99.4h0M595.7 101.9h0M634.8 82.7h0M651.4 70.7h0M624.5 92.2h0M650.1 69.3h0M654.3 63.8h0M585.7 109.7h0M621.9 90.8h0M649.3 72.1h0M663.6 58h0M596.4 104.5h0M650.5 70.5h0M618.7 95h0M674.2 43.4h0M640.2 79.7h0M675.2 40.8h0M661.4 57.7h0M640.7 82.1h0M617.3 95.9h0M611.6 98.4h0M613.7 101.1h0M592 103.6h0M676.4 39.5h0M666 55.4h0M649.5 71.4h0M598 104.9h0M674 43.3h0M637.8 81.3h0M648.3 75.5h0M607.2 101.6h0M671.8 47.5h0M585.2 106.6h0M628.8 91.6h0M627.2 86.3h0M675.8 45.4h0M640.9 76.3h0M638.3 78.1h0M629 88.4h0M650.3 70.2h0M584.9 109.6h0M668.5 51.8h0M669.7 47.7h0M631.3 84.7h0M631 86.9h0M636.9 80.3h0M643.2 78.4h0M662.7 58.4h0M660.5 62.2h0M621.5 94.8h0M605.5 101.1h0M674.4 46.6h0M600.8 104.4h0M658.2 61.4h0M638.5 82h0M611.6 100.1h0M610.3 100.3h0M597.3 102.5h0M645 77.6h0M637.3 75.8h0M592.6 104.8h0M639.9 78.9h0M595.8 105.7h0M673.3 44h0M666.1 52.4h0M608.2 99.2h0M648.3 70h0M627 86.9h0M596.4 102.1h0M649.4 75.3h0M675 44.3h0M654.1 67.2h0M676.8 47.7h0M646.6 74.9h0M659.7 59.7h0M594.5 104.5h0M590.1 107.4h0M597.6 103.2h0M660 63.6h0M669.7 49h0M601.6 103h0M631.1 86.3h0M665 50.8h0M653.4 70.2h0M627.4 90.4h0M673.3 45.8h0M660 59.6h0M588.4 108h0M644.6 77.8h0M636.9 79.7h0M646.1 78.7h0M643 81.5h0M662.1 59.4h0M659.3 58.3h0M592.9 106.7h0M669.7 47.5h0M633 83.7h0M659.9 60.2h0M607.1 102.6h0M622.9 92.4h0M630.3 87.9h0M679.7 42.1h0M673.8 44.1h0M657 67.1h0M616.4 95.2h0M627.3 89.5h0M605.8 101.4h0M664.4 58.7h0M648.5 74.5h0M659.6 62h0M627.4 90.6h0M583.3 109.5h0M621.1 94.2h0M612.7 97.7h0M625.8 92.4h0M618.1 95.4h0M620.4 94.9h0M668.7 51.8h0M586.2 110.3h0M618.4 93.7h0M640.8 78.2h0M616.1 96.1h0M650.5 69.8h0M657.6 63h0M622.1 94.7h0M655.2 68.3h0M617.1 97h0M628.7 87.4h0M662.4 57.1h0M594.3 105.8h0M639.8 79h0M637.2 84.7h0M659.4 60.5h0M607.3 100.3h0M651.2 71.2h0M640.2 81.1h0M668.6 52.7h0M670.2 52.1h0M665.8 58.9h0M639.3 80.4h0M615 98.9h0M664.2 56h0M628.4 92.3h0M617.8 97.2h0M620.5 96.5h0M670.6 50.4h0M596.8 102.6h0M668.6 54.1h0M653.5 70.2h0M662 61.7h0M647.2 71h0M664.7 53.4h0M585.3 109.2h0M637.3 81.4h0M653.1 64.7h0M616.1 98.2h0M671.2 48.1h0M595.8 105.1h0M626.3 85.9h0M600.8 103.4h0M650.4 72.1h0M660.2 56.5h0M601.4 104.9h0M669 50.9h0M631.6 86.2h0M666.3 49.8h0M641.7 79.6h0M655.5 62.4h0M617.6 98.2h0M626.4 90.5h0M624.9 92.2h0M669.5 45.1h0M609.2 97.4h0M660.8 64.3h0M653.9 69.7h0M672.1 45.5h0M665.3 52.7h0M644.4 78.5h0M582.9 105.7h0M672.5 41.9h0M666.8 50.2h0M649.7 69.2h0M619.5 94.5h0M584.4 108.4h0M644.6 73.9h0M671.6 46.2h0M604 101h0M597.8 106h0M614.3 97.5h0M669.5 51.3h0M666.6 53.6h0M673.1 44.2h0M651.6 70.5h0M643.8 76.9h0M641.3 77.5h0M638.7 80.6h0M632.7 84.2h0M667.8 52.2h0M596.7 104h0M664.4 57h0M633.7 85.5h0M662.8 60.9h0M669.5 49.8h0M604.8 102h0M588.8 107.7h0M664.5 56.3h0M582.3 108h0M642.9 77.4h0M596.5 103.8h0M626.9 91.3h0M653.2 71.3h0M671.8 55.7h0M657.4 61.9h0M627.3 92.4h0M667.6 52.2h0M650.3 74.9h0M662.1 56.4h0M648.8 75.3h0M582.8 107.1h0M668.7 52.6h0M636.4 84.2h0M638.4 78.5h0M659 62.6h0M673.8 44.8h0M631.4 87h0M638.6 82.8h0M642.1 79.3h0M622.5 91.9h0M593.4 103.4h0M666.4 56.2h0M603.7 100.4h0M593.3 106.6h0M586.1 109.7h0M655.7 59.8h0M633.6 85h0M654.9 67.5h0M644.6 77.2h0M654 71.2h0M665.2 57.9h0M581.5 107.5h0M612.3 98.1h0M612.1 99.9h0M625.1 91h0M588.5 106.4h0M671.1 50.3h0M618.3 98.1h0M648.3 72.5h0M590.5 106.4h0M644.7 76.2h0M651.4 71.8h0M586.4 108.9h0M592.8 108.5h0M628.7 89.1h0M659 62.7h0M597.9 103.6h0M636.8 83.6h0M582.9 108.7h0M638.9 81h0M674.4 44.7h0M599 102.4h0M637.3 83.2h0M629.1 88.4h0M591.8 105.2h0M595.5 104.5h0M648.4 73.3h0M623.8 92.1h0M645.3 76h0M611.2 99.3h0M620.3 95.3h0M601.4 102.2h0M656.2 64.2h0M671.8 48.6h0M672.2 49.2h0M615.4 96h0M594.9 105.3h0M676.3 42.7h0M676.4 43.5h0M624.3 89.3h0M656 62.1h0M649.5 72.2h0M675.5 45.3h0M654 68.8h0M588.4 105.4h0M627.8 86.9h0M584 107.4h0M664.1 54.2h0M659 64h0M594.9 105.8h0M630.7 86h0M663.4 59.3h0M620.6 91.8h0M638.9 79.5h0M585.4 106.4h0M638.7 79.7h0M583.7 107h0M672.1 46.6h0M669.7 51.2h0M633 86.7h0M674.8 38.5h0M604.1 98.2h0M678.5 40.7h0M650 71.5h0M629.4 87.6h0M672.8 44h0M668.1 50.3h0M660.8 64.9h0M611.3 98.5h0M590.9 105.7h0M667.6 52.2h0M638.3 79.6h0M644 77.1h0M623.5 93.7h0M648.7 72.3h0M611 98.8h0M660.8 61h0M645.7 74.3h0" stroke="#f27d72" stroke-width="1.5" stroke-linecap="round" fill="none"/>
<path d="M586.6 108.4h0M591.1 107.5h0M595.8 106.1h0M635.9 82.7h0M596.3 103.6h0M614.6 95.3h0M627.5 87.9h0M615 99.4h0M619.4 98.1h0M584.2 107.5h0M587.8 109.6h0M593.5 105.6h0M597.7 100.5h0M592.4 108h0M633.6 83.5h0M635.7 82.7h0M637.6 79.7h0M615.8 98.1h0M611.7 101.2h0M624.5 95.2h0M608.5 99h0M637.4 83.3h0M596.9 103.9h0M611.5 97h0M601.7 103.4h0M583.2 104h0M609.2 99.6h0M594.9 105h0M611.1 99.6h0M640 81.4h0M586.2 111.6h0M625.3 90.6h0M588.5 107.8h0M585 106.6h0M629.8 85.8h0M606.5 100.8h0M585.3 106.2h0M602.8 102h0M588.8 106h0M609.5 100.4h0M590.1 106.9h0M604.5 101.7h0M604.2 102.6h0M627.6 92.9h0M602.7 105.3h0M639.4 77.7h0M600.8 100.6h0M592.8 104.8h0M592.2 105.2h0M586.5 108.7h0" stroke="#22b33c" stroke-width="1" stroke-linecap="round" fill="none"/>
<path d="M564.7 115.2h0M564.4 113.8h0M562.6 124.6h0M566.5 108.7h0M562.5 126.1h0M566.4 111.7h0M565.7 111h0M567.5 104.5h0M567.7 104.4h0M566.8 103.8h0M565.7 115.2h0M562.2 122h0M562.6 124.1h0M561.1 125.3h0M563.6 117.2h0M565.8 110.8h0M563.2 122.5h0M564.3 112.9h0M563.8 117.9h0M566.1 106.7h0M564.5 115.8h0M565.9 119.2h0M566.9 103.5h0M566 116.4h0M563.1 120.7h0M566.2 104h0M562.4 119.7h0M561.2 120.7h0M565.6 109.6h0M565.7 108.6h0M565.1 118.5h0M562.8 126h0M565.8 109.4h0M563.8 121.9h0M568.3 105h0M562.2 117.6h0M566.6 111.8h0M563.2 124.2h0M563.2 121.9h0M565.5 109.6h0" stroke="#f27d72" stroke-width="1.2" stroke-linecap="round" fill="none"/>
<path d="M565.7 118.8h0M566.8 107.7h0M564.9 118.6h0M564.3 112.2h0M567.7 112.8h0M565.9 107.8h0M566.5 105.6h0M564.3 121.5h0M562.4 124h0M560.4 124.8h0M568 108h0M561.9 125.8h0M566.9 106.3h0M563.5 117.6h0M561.5 125.7h0" stroke="#22b33c" stroke-width="1.2" stroke-linecap="round" fill="none"/>
<path d="M557.5 124 l4 -1.5 l2 3 l-1 4 l-4 1 l-2 -3 z" fill="#22b33c"/>
<line x1="567.4" y1="103.4" x2="581.6" y2="106.9" stroke="#222" stroke-width="0.6"/>
<circle cx="567.4" cy="103.4" r="3" fill="#111"/>
<text x="567.4" y="105.4" text-anchor="middle" font-weight="bold" fill="#fff" font-size="5.5">1</text>
<circle cx="581.6" cy="106.9" r="3" fill="#111"/>
<text x="581.6" y="108.9" text-anchor="middle" font-weight="bold" fill="#fff" font-size="5.5">2</text>
<circle cx="591.9" cy="20.6" r="2" fill="#f27d72"/>
<text x="596.8" y="23.6" font-size="8.6">0-1</text>
<circle cx="618.8" cy="20.6" r="2" fill="#22b33c"/>
<text x="623.8" y="23.6" font-size="8.6">0-2</text>
<circle cx="648" cy="20.6" r="2" fill="#6d9cf2"/>
<text x="652.3" y="23.6" font-size="8.6">6</text>
<text x="220" y="188" text-anchor="middle" font-weight="bold" fill="#111" font-size="8.1">GSEA of all cells (Reactome)</text>
<text x="141" y="211.4" text-anchor="end" fill="#333" font-size="8.15">ECM proteoglycans</text>
<text x="141" y="221.2" text-anchor="end" fill="#333" font-size="8.15">assembly of collagen fibrils and</text>
<text x="141" y="226.3" text-anchor="end" fill="#333" font-size="8.15">other multimeric structures</text>
<text x="141" y="235.8" text-anchor="end" fill="#333" font-size="8.15">keratinization</text>
<text x="141" y="247.9" text-anchor="end" fill="#333" font-size="8.15">MET activates PTK2 signaling</text>
<text x="141" y="260.1" text-anchor="end" fill="#333" font-size="8.15">formation of the cornified envelope</text>
<text x="141" y="272.3" text-anchor="end" fill="#333" font-size="8.15">collagen degradation</text>
<text x="141" y="284.5" text-anchor="end" fill="#333" font-size="8.15">integrin cell surface interactions</text>
<text x="141" y="296.7" text-anchor="end" fill="#333" font-size="8.15">degradation of the extracellular matrix</text>
<text x="141" y="308.8" text-anchor="end" fill="#333" font-size="8.15">collagen formation</text>
<text x="141" y="321" text-anchor="end" fill="#333" font-size="8.15">extracellular matrix organization</text>
<text x="141" y="333.2" text-anchor="end" fill="#333" font-size="8.15">mitotic G1 phase and G1 s transiion</text>
<text x="141" y="345.4" text-anchor="end" fill="#333" font-size="8.15">Rho gtpases activate formins</text>
<text x="141" y="357.6" text-anchor="end" fill="#333" font-size="8.15">M phase</text>
<text x="141" y="369.7" text-anchor="end" fill="#333" font-size="8.15">mitotic prometaphase</text>
<text x="141" y="381.9" text-anchor="end" fill="#333" font-size="8.15">DNA replication</text>
<text x="141" y="394.1" text-anchor="end" fill="#333" font-size="8.15">G2M checkpoints</text>
<text x="141" y="406.3" text-anchor="end" fill="#333" font-size="8.15">mitotic metaphase and anaphase</text>
<text x="141" y="418.5" text-anchor="end" fill="#333" font-size="8.15">resolution of sister chromatid cohesion</text>
<text x="141" y="430.6" text-anchor="end" fill="#333" font-size="8.15">cell cycle mitotic</text>
<text x="141" y="442.8" text-anchor="end" fill="#333" font-size="8.15">cell cycle checkpoints</text>
<rect x="143.5" y="194.5" width="73.5" height="252.5" fill="#fff"/>
<line x1="145.3" y1="201.7" x2="145.3" y2="447" stroke="#f4f4f4" stroke-width="0.5"/>
<line x1="170.5" y1="201.7" x2="170.5" y2="447" stroke="#f4f4f4" stroke-width="0.5"/>
<line x1="195.8" y1="201.7" x2="195.8" y2="447" stroke="#f4f4f4" stroke-width="0.5"/>
<line x1="157.9" y1="201.7" x2="157.9" y2="447" stroke="#ebebeb" stroke-width="0.6"/>
<line x1="183.1" y1="201.7" x2="183.1" y2="447" stroke="#ebebeb" stroke-width="0.6"/>
<line x1="208.4" y1="201.7" x2="208.4" y2="447" stroke="#ebebeb" stroke-width="0.6"/>
<line x1="143.5" y1="208.5" x2="217" y2="208.5" stroke="#ebebeb" stroke-width="0.6"/>
<line x1="143.5" y1="220.7" x2="217" y2="220.7" stroke="#ebebeb" stroke-width="0.6"/>
<line x1="143.5" y1="232.9" x2="217" y2="232.9" stroke="#ebebeb" stroke-width="0.6"/>
<line x1="143.5" y1="245" x2="217" y2="245" stroke="#ebebeb" stroke-width="0.6"/>
<line x1="143.5" y1="257.2" x2="217" y2="257.2" stroke="#ebebeb" stroke-width="0.6"/>
<line x1="143.5" y1="269.4" x2="217" y2="269.4" stroke="#ebebeb" stroke-width="0.6"/>
<line x1="143.5" y1="281.6" x2="217" y2="281.6" stroke="#ebebeb" stroke-width="0.6"/>
<line x1="143.5" y1="293.8" x2="217" y2="293.8" stroke="#ebebeb" stroke-width="0.6"/>
<line x1="143.5" y1="305.9" x2="217" y2="305.9" stroke="#ebebeb" stroke-width="0.6"/>
<line x1="143.5" y1="318.1" x2="217" y2="318.1" stroke="#ebebeb" stroke-width="0.6"/>
<line x1="143.5" y1="330.3" x2="217" y2="330.3" stroke="#ebebeb" stroke-width="0.6"/>
<line x1="143.5" y1="342.5" x2="217" y2="342.5" stroke="#ebebeb" stroke-width="0.6"/>
<line x1="143.5" y1="354.7" x2="217" y2="354.7" stroke="#ebebeb" stroke-width="0.6"/>
<line x1="143.5" y1="366.8" x2="217" y2="366.8" stroke="#ebebeb" stroke-width="0.6"/>
<line x1="143.5" y1="379" x2="217" y2="379" stroke="#ebebeb" stroke-width="0.6"/>
<line x1="143.5" y1="391.2" x2="217" y2="391.2" stroke="#ebebeb" stroke-width="0.6"/>
<line x1="143.5" y1="403.4" x2="217" y2="403.4" stroke="#ebebeb" stroke-width="0.6"/>
<line x1="143.5" y1="415.6" x2="217" y2="415.6" stroke="#ebebeb" stroke-width="0.6"/>
<line x1="143.5" y1="427.7" x2="217" y2="427.7" stroke="#ebebeb" stroke-width="0.6"/>
<line x1="143.5" y1="439.9" x2="217" y2="439.9" stroke="#ebebeb" stroke-width="0.6"/>
<rect x="143.5" y="194.5" width="73.5" height="7.2" fill="#d9d9d9"/>
<rect x="143.5" y="194.5" width="73.5" height="252.5" fill="none" stroke="#555" stroke-width="0.9"/>
<line x1="143.5" y1="201.7" x2="217" y2="201.7" stroke="#555" stroke-width="0.7"/>
<line x1="157.9" y1="447" x2="157.9" y2="448.8" stroke="#555" stroke-width="0.6"/>
<text x="157.9" y="455.2" text-anchor="middle" fill="#333" font-size="7.6">1.90</text>
<line x1="183.1" y1="447" x2="183.1" y2="448.8" stroke="#555" stroke-width="0.6"/>
<text x="183.1" y="455.2" text-anchor="middle" fill="#333" font-size="7.6">2.00</text>
<line x1="208.4" y1="447" x2="208.4" y2="448.8" stroke="#555" stroke-width="0.6"/>
<text x="208.4" y="455.2" text-anchor="middle" fill="#333" font-size="7.6">2.10</text>
<rect x="219.5" y="194.5" width="72.9" height="252.5" fill="#fff"/>
<line x1="234.8" y1="201.7" x2="234.8" y2="447" stroke="#f4f4f4" stroke-width="0.5"/>
<line x1="256.4" y1="201.7" x2="256.4" y2="447" stroke="#f4f4f4" stroke-width="0.5"/>
<line x1="278" y1="201.7" x2="278" y2="447" stroke="#f4f4f4" stroke-width="0.5"/>
<line x1="224" y1="201.7" x2="224" y2="447" stroke="#ebebeb" stroke-width="0.6"/>
<line x1="245.6" y1="201.7" x2="245.6" y2="447" stroke="#ebebeb" stroke-width="0.6"/>
<line x1="267.2" y1="201.7" x2="267.2" y2="447" stroke="#ebebeb" stroke-width="0.6"/>
<line x1="288.8" y1="201.7" x2="288.8" y2="447" stroke="#ebebeb" stroke-width="0.6"/>
<line x1="219.5" y1="208.5" x2="292.4" y2="208.5" stroke="#ebebeb" stroke-width="0.6"/>
<line x1="219.5" y1="220.7" x2="292.4" y2="220.7" stroke="#ebebeb" stroke-width="0.6"/>
<line x1="219.5" y1="232.9" x2="292.4" y2="232.9" stroke="#ebebeb" stroke-width="0.6"/>
<line x1="219.5" y1="245" x2="292.4" y2="245" stroke="#ebebeb" stroke-width="0.6"/>
<line x1="219.5" y1="257.2" x2="292.4" y2="257.2" stroke="#ebebeb" stroke-width="0.6"/>
<line x1="219.5" y1="269.4" x2="292.4" y2="269.4" stroke="#ebebeb" stroke-width="0.6"/>
<line x1="219.5" y1="281.6" x2="292.4" y2="281.6" stroke="#ebebeb" stroke-width="0.6"/>
<line x1="219.5" y1="293.8" x2="292.4" y2="293.8" stroke="#ebebeb" stroke-width="0.6"/>
<line x1="219.5" y1="305.9" x2="292.4" y2="305.9" stroke="#ebebeb" stroke-width="0.6"/>
<line x1="219.5" y1="318.1" x2="292.4" y2="318.1" stroke="#ebebeb" stroke-width="0.6"/>
<line x1="219.5" y1="330.3" x2="292.4" y2="330.3" stroke="#ebebeb" stroke-width="0.6"/>
<line x1="219.5" y1="342.5" x2="292.4" y2="342.5" stroke="#ebebeb" stroke-width="0.6"/>
<line x1="219.5" y1="354.7" x2="292.4" y2="354.7" stroke="#ebebeb" stroke-width="0.6"/>
<line x1="219.5" y1="366.8" x2="292.4" y2="366.8" stroke="#ebebeb" stroke-width="0.6"/>
<line x1="219.5" y1="379" x2="292.4" y2="379" stroke="#ebebeb" stroke-width="0.6"/>
<line x1="219.5" y1="391.2" x2="292.4" y2="391.2" stroke="#ebebeb" stroke-width="0.6"/>
<line x1="219.5" y1="403.4" x2="292.4" y2="403.4" stroke="#ebebeb" stroke-width="0.6"/>
<line x1="219.5" y1="415.6" x2="292.4" y2="415.6" stroke="#ebebeb" stroke-width="0.6"/>
<line x1="219.5" y1="427.7" x2="292.4" y2="427.7" stroke="#ebebeb" stroke-width="0.6"/>
<line x1="219.5" y1="439.9" x2="292.4" y2="439.9" stroke="#ebebeb" stroke-width="0.6"/>
<rect x="219.5" y="194.5" width="72.9" height="7.2" fill="#d9d9d9"/>
<rect x="219.5" y="194.5" width="72.9" height="252.5" fill="none" stroke="#555" stroke-width="0.9"/>
<line x1="219.5" y1="201.7" x2="292.4" y2="201.7" stroke="#555" stroke-width="0.7"/>
<line x1="245.6" y1="447" x2="245.6" y2="448.8" stroke="#555" stroke-width="0.6"/>
<text x="245.6" y="455.2" text-anchor="middle" fill="#333" font-size="7.6">−1.88</text>
<line x1="267.2" y1="447" x2="267.2" y2="448.8" stroke="#555" stroke-width="0.6"/>
<text x="267.2" y="455.2" text-anchor="middle" fill="#333" font-size="7.6">−1.84</text>
<line x1="288.8" y1="447" x2="288.8" y2="448.8" stroke="#555" stroke-width="0.6"/>
<text x="288.8" y="455.2" text-anchor="middle" fill="#333" font-size="7.6">−1.80</text>
<rect x="217.4" y="194.5" width="1.6" height="252.5" fill="#c4c4c4"/>
<text x="180.2" y="200.5" text-anchor="middle" fill="#333" font-size="6.9">activated</text>
<text x="255.9" y="200.5" text-anchor="middle" fill="#333" font-size="6.9">suppressed</text>
<line x1="141.7" y1="208.5" x2="143.5" y2="208.5" stroke="#555" stroke-width="0.6"/>
<line x1="141.7" y1="220.7" x2="143.5" y2="220.7" stroke="#555" stroke-width="0.6"/>
<line x1="141.7" y1="232.9" x2="143.5" y2="232.9" stroke="#555" stroke-width="0.6"/>
<line x1="141.7" y1="245" x2="143.5" y2="245" stroke="#555" stroke-width="0.6"/>
<line x1="141.7" y1="257.2" x2="143.5" y2="257.2" stroke="#555" stroke-width="0.6"/>
<line x1="141.7" y1="269.4" x2="143.5" y2="269.4" stroke="#555" stroke-width="0.6"/>
<line x1="141.7" y1="281.6" x2="143.5" y2="281.6" stroke="#555" stroke-width="0.6"/>
<line x1="141.7" y1="293.8" x2="143.5" y2="293.8" stroke="#555" stroke-width="0.6"/>
<line x1="141.7" y1="305.9" x2="143.5" y2="305.9" stroke="#555" stroke-width="0.6"/>
<line x1="141.7" y1="318.1" x2="143.5" y2="318.1" stroke="#555" stroke-width="0.6"/>
<line x1="141.7" y1="330.3" x2="143.5" y2="330.3" stroke="#555" stroke-width="0.6"/>
<line x1="141.7" y1="342.5" x2="143.5" y2="342.5" stroke="#555" stroke-width="0.6"/>
<line x1="141.7" y1="354.7" x2="143.5" y2="354.7" stroke="#555" stroke-width="0.6"/>
<line x1="141.7" y1="366.8" x2="143.5" y2="366.8" stroke="#555" stroke-width="0.6"/>
<line x1="141.7" y1="379" x2="143.5" y2="379" stroke="#555" stroke-width="0.6"/>
<line x1="141.7" y1="391.2" x2="143.5" y2="391.2" stroke="#555" stroke-width="0.6"/>
<line x1="141.7" y1="403.4" x2="143.5" y2="403.4" stroke="#555" stroke-width="0.6"/>
<line x1="141.7" y1="415.6" x2="143.5" y2="415.6" stroke="#555" stroke-width="0.6"/>
<line x1="141.7" y1="427.7" x2="143.5" y2="427.7" stroke="#555" stroke-width="0.6"/>
<line x1="141.7" y1="439.9" x2="143.5" y2="439.9" stroke="#555" stroke-width="0.6"/>
<text x="223" y="462.5" text-anchor="middle" fill="#333" font-size="7.6">NES</text>
<circle cx="214" cy="208.5" r="2.45" fill="#da4740"/>
<circle cx="201.8" cy="220.7" r="2.45" fill="#da4740"/>
<circle cx="184.4" cy="232.9" r="1.55" fill="#da4740"/>
<circle cx="183" cy="245" r="2.85" fill="#b36078"/>
<circle cx="165.3" cy="257.2" r="1.85" fill="#5b87d6"/>
<circle cx="163.2" cy="269.4" r="2.35" fill="#5a82d0"/>
<circle cx="160.9" cy="281.6" r="2.05" fill="#3b8fe2"/>
<circle cx="159.4" cy="293.8" r="2.15" fill="#d04a4c"/>
<circle cx="154.5" cy="305.9" r="2.35" fill="#9273b2"/>
<circle cx="146.4" cy="318.1" r="2.05" fill="#da4740"/>
<circle cx="288.8" cy="330.3" r="2.85" fill="#da4740"/>
<circle cx="278.3" cy="342.5" r="2.85" fill="#da4740"/>
<circle cx="264" cy="354.7" r="2.85" fill="#da4740"/>
<circle cx="257.5" cy="366.8" r="2.75" fill="#da4740"/>
<circle cx="252.5" cy="379" r="2.75" fill="#da4740"/>
<circle cx="251.6" cy="391.2" r="2.75" fill="#da4740"/>
<circle cx="246.2" cy="403.4" r="2.75" fill="#da4740"/>
<circle cx="239.7" cy="415.6" r="2.75" fill="#da4740"/>
<circle cx="232.5" cy="427.7" r="2.65" fill="#da4740"/>
<circle cx="221.8" cy="439.9" r="2.65" fill="#da4740"/>
<text x="573.7" y="188" text-anchor="middle" font-weight="bold" fill="#111" font-size="8.1">GSEA of all cells (KEGG)</text>
<text x="496.7" y="211.4" text-anchor="end" fill="#333" font-size="8.15">ECM receptor interaction</text>
<text x="496.7" y="223.6" text-anchor="end" fill="#333" font-size="8.15">focal adhesion</text>
<text x="496.7" y="235.8" text-anchor="end" fill="#333" font-size="8.15">arrhythmogenic right ventricular cardiomyopathy ARVC</text>
<text x="496.7" y="247.9" text-anchor="end" fill="#333" font-size="8.15">hypertrophic cardiomyopathy HCM</text>
<text x="496.7" y="260.1" text-anchor="end" fill="#333" font-size="8.15">adherens junction</text>
<text x="496.7" y="272.3" text-anchor="end" fill="#333" font-size="8.15">dilated cardiomyopathy</text>
<text x="496.7" y="284.5" text-anchor="end" fill="#333" font-size="8.15">complement and coagulation cascades</text>
<text x="496.7" y="296.7" text-anchor="end" fill="#333" font-size="8.15">TGF beta signaling pathway</text>
<text x="496.7" y="308.8" text-anchor="end" fill="#333" font-size="8.15">ABC transporters</text>
<text x="496.7" y="321" text-anchor="end" fill="#333" font-size="8.15">axon guidance</text>
<text x="496.7" y="333.2" text-anchor="end" fill="#333" font-size="8.15">purine metabolism</text>
<text x="496.7" y="345.4" text-anchor="end" fill="#333" font-size="8.15">progesterone mediated oocyte maturation</text>
<text x="496.7" y="357.6" text-anchor="end" fill="#333" font-size="8.15">spliceosome</text>
<text x="496.7" y="369.7" text-anchor="end" fill="#333" font-size="8.15">gap junction</text>
<text x="496.7" y="381.9" text-anchor="end" fill="#333" font-size="8.15">nucleotide excision repair</text>
<text x="496.7" y="394.1" text-anchor="end" fill="#333" font-size="8.15">oocyte meiosis</text>
<text x="496.7" y="406.3" text-anchor="end" fill="#333" font-size="8.15">pyrimidine metabolism</text>
<text x="496.7" y="418.5" text-anchor="end" fill="#333" font-size="8.15">mismatch repair</text>
<text x="496.7" y="430.6" text-anchor="end" fill="#333" font-size="8.15">cell cycle</text>
<text x="496.7" y="442.8" text-anchor="end" fill="#333" font-size="8.15">DNA replication</text>
<rect x="499.2" y="194.5" width="70.2" height="252" fill="#fff"/>
<line x1="509.9" y1="201.7" x2="509.9" y2="446.5" stroke="#f4f4f4" stroke-width="0.5"/>
<line x1="529.8" y1="201.7" x2="529.8" y2="446.5" stroke="#f4f4f4" stroke-width="0.5"/>
<line x1="549.5" y1="201.7" x2="549.5" y2="446.5" stroke="#f4f4f4" stroke-width="0.5"/>
<line x1="500.1" y1="201.7" x2="500.1" y2="446.5" stroke="#ebebeb" stroke-width="0.6"/>
<line x1="519.8" y1="201.7" x2="519.8" y2="446.5" stroke="#ebebeb" stroke-width="0.6"/>
<line x1="539.7" y1="201.7" x2="539.7" y2="446.5" stroke="#ebebeb" stroke-width="0.6"/>
<line x1="559.3" y1="201.7" x2="559.3" y2="446.5" stroke="#ebebeb" stroke-width="0.6"/>
<line x1="499.2" y1="208.5" x2="569.4" y2="208.5" stroke="#ebebeb" stroke-width="0.6"/>
<line x1="499.2" y1="220.7" x2="569.4" y2="220.7" stroke="#ebebeb" stroke-width="0.6"/>
<line x1="499.2" y1="232.9" x2="569.4" y2="232.9" stroke="#ebebeb" stroke-width="0.6"/>
<line x1="499.2" y1="245" x2="569.4" y2="245" stroke="#ebebeb" stroke-width="0.6"/>
<line x1="499.2" y1="257.2" x2="569.4" y2="257.2" stroke="#ebebeb" stroke-width="0.6"/>
<line x1="499.2" y1="269.4" x2="569.4" y2="269.4" stroke="#ebebeb" stroke-width="0.6"/>
<line x1="499.2" y1="281.6" x2="569.4" y2="281.6" stroke="#ebebeb" stroke-width="0.6"/>
<line x1="499.2" y1="293.8" x2="569.4" y2="293.8" stroke="#ebebeb" stroke-width="0.6"/>
<line x1="499.2" y1="305.9" x2="569.4" y2="305.9" stroke="#ebebeb" stroke-width="0.6"/>
<line x1="499.2" y1="318.1" x2="569.4" y2="318.1" stroke="#ebebeb" stroke-width="0.6"/>
<line x1="499.2" y1="330.3" x2="569.4" y2="330.3" stroke="#ebebeb" stroke-width="0.6"/>
<line x1="499.2" y1="342.5" x2="569.4" y2="342.5" stroke="#ebebeb" stroke-width="0.6"/>
<line x1="499.2" y1="354.7" x2="569.4" y2="354.7" stroke="#ebebeb" stroke-width="0.6"/>
<line x1="499.2" y1="366.8" x2="569.4" y2="366.8" stroke="#ebebeb" stroke-width="0.6"/>
<line x1="499.2" y1="379" x2="569.4" y2="379" stroke="#ebebeb" stroke-width="0.6"/>
<line x1="499.2" y1="391.2" x2="569.4" y2="391.2" stroke="#ebebeb" stroke-width="0.6"/>
<line x1="499.2" y1="403.4" x2="569.4" y2="403.4" stroke="#ebebeb" stroke-width="0.6"/>
<line x1="499.2" y1="415.6" x2="569.4" y2="415.6" stroke="#ebebeb" stroke-width="0.6"/>
<line x1="499.2" y1="427.7" x2="569.4" y2="427.7" stroke="#ebebeb" stroke-width="0.6"/>
<line x1="499.2" y1="439.9" x2="569.4" y2="439.9" stroke="#ebebeb" stroke-width="0.6"/>
<rect x="499.2" y="194.5" width="70.2" height="7.2" fill="#d9d9d9"/>
<rect x="499.2" y="194.5" width="70.2" height="252" fill="none" stroke="#555" stroke-width="0.9"/>
<line x1="499.2" y1="201.7" x2="569.4" y2="201.7" stroke="#555" stroke-width="0.7"/>
<line x1="519.8" y1="446.5" x2="519.8" y2="448.3" stroke="#555" stroke-width="0.6"/>
<text x="519.8" y="454.7" text-anchor="middle" fill="#333" font-size="7.6">1.4</text>
<line x1="539.7" y1="446.5" x2="539.7" y2="448.3" stroke="#555" stroke-width="0.6"/>
<text x="539.7" y="454.7" text-anchor="middle" fill="#333" font-size="7.6">1.6</text>
<line x1="559.3" y1="446.5" x2="559.3" y2="448.3" stroke="#555" stroke-width="0.6"/>
<text x="559.3" y="454.7" text-anchor="middle" fill="#333" font-size="7.6">1.8</text>
<rect x="572.3" y="194.5" width="69.9" height="252" fill="#fff"/>
<line x1="590.3" y1="201.7" x2="590.3" y2="446.5" stroke="#f4f4f4" stroke-width="0.5"/>
<line x1="612" y1="201.7" x2="612" y2="446.5" stroke="#f4f4f4" stroke-width="0.5"/>
<line x1="633.7" y1="201.7" x2="633.7" y2="446.5" stroke="#f4f4f4" stroke-width="0.5"/>
<line x1="579.5" y1="201.7" x2="579.5" y2="446.5" stroke="#ebebeb" stroke-width="0.6"/>
<line x1="601.2" y1="201.7" x2="601.2" y2="446.5" stroke="#ebebeb" stroke-width="0.6"/>
<line x1="622.9" y1="201.7" x2="622.9" y2="446.5" stroke="#ebebeb" stroke-width="0.6"/>
<line x1="572.3" y1="208.5" x2="642.2" y2="208.5" stroke="#ebebeb" stroke-width="0.6"/>
<line x1="572.3" y1="220.7" x2="642.2" y2="220.7" stroke="#ebebeb" stroke-width="0.6"/>
<line x1="572.3" y1="232.9" x2="642.2" y2="232.9" stroke="#ebebeb" stroke-width="0.6"/>
<line x1="572.3" y1="245" x2="642.2" y2="245" stroke="#ebebeb" stroke-width="0.6"/>
<line x1="572.3" y1="257.2" x2="642.2" y2="257.2" stroke="#ebebeb" stroke-width="0.6"/>
<line x1="572.3" y1="269.4" x2="642.2" y2="269.4" stroke="#ebebeb" stroke-width="0.6"/>
<line x1="572.3" y1="281.6" x2="642.2" y2="281.6" stroke="#ebebeb" stroke-width="0.6"/>
<line x1="572.3" y1="293.8" x2="642.2" y2="293.8" stroke="#ebebeb" stroke-width="0.6"/>
<line x1="572.3" y1="305.9" x2="642.2" y2="305.9" stroke="#ebebeb" stroke-width="0.6"/>
<line x1="572.3" y1="318.1" x2="642.2" y2="318.1" stroke="#ebebeb" stroke-width="0.6"/>
<line x1="572.3" y1="330.3" x2="642.2" y2="330.3" stroke="#ebebeb" stroke-width="0.6"/>
<line x1="572.3" y1="342.5" x2="642.2" y2="342.5" stroke="#ebebeb" stroke-width="0.6"/>
<line x1="572.3" y1="354.7" x2="642.2" y2="354.7" stroke="#ebebeb" stroke-width="0.6"/>
<line x1="572.3" y1="366.8" x2="642.2" y2="366.8" stroke="#ebebeb" stroke-width="0.6"/>
<line x1="572.3" y1="379" x2="642.2" y2="379" stroke="#ebebeb" stroke-width="0.6"/>
<line x1="572.3" y1="391.2" x2="642.2" y2="391.2" stroke="#ebebeb" stroke-width="0.6"/>
<line x1="572.3" y1="403.4" x2="642.2" y2="403.4" stroke="#ebebeb" stroke-width="0.6"/>
<line x1="572.3" y1="415.6" x2="642.2" y2="415.6" stroke="#ebebeb" stroke-width="0.6"/>
<line x1="572.3" y1="427.7" x2="642.2" y2="427.7" stroke="#ebebeb" stroke-width="0.6"/>
<line x1="572.3" y1="439.9" x2="642.2" y2="439.9" stroke="#ebebeb" stroke-width="0.6"/>
<rect x="572.3" y="194.5" width="69.9" height="7.2" fill="#d9d9d9"/>
<rect x="572.3" y="194.5" width="69.9" height="252" fill="none" stroke="#555" stroke-width="0.9"/>
<line x1="572.3" y1="201.7" x2="642.2" y2="201.7" stroke="#555" stroke-width="0.7"/>
<line x1="579.5" y1="446.5" x2="579.5" y2="448.3" stroke="#555" stroke-width="0.6"/>
<text x="579.5" y="454.7" text-anchor="middle" fill="#333" font-size="7.6">−1.8</text>
<line x1="601.2" y1="446.5" x2="601.2" y2="448.3" stroke="#555" stroke-width="0.6"/>
<text x="601.2" y="454.7" text-anchor="middle" fill="#333" font-size="7.6">−1.7</text>
<line x1="622.9" y1="446.5" x2="622.9" y2="448.3" stroke="#555" stroke-width="0.6"/>
<text x="622.9" y="454.7" text-anchor="middle" fill="#333" font-size="7.6">−1.6</text>
<rect x="569.9" y="194.5" width="2" height="252" fill="#c4c4c4"/>
<text x="534.3" y="200.5" text-anchor="middle" fill="#333" font-size="6.9">activated</text>
<text x="607.2" y="200.5" text-anchor="middle" fill="#333" font-size="6.9">suppressed</text>
<line x1="497.4" y1="208.5" x2="499.2" y2="208.5" stroke="#555" stroke-width="0.6"/>
<line x1="497.4" y1="220.7" x2="499.2" y2="220.7" stroke="#555" stroke-width="0.6"/>
<line x1="497.4" y1="232.9" x2="499.2" y2="232.9" stroke="#555" stroke-width="0.6"/>
<line x1="497.4" y1="245" x2="499.2" y2="245" stroke="#555" stroke-width="0.6"/>
<line x1="497.4" y1="257.2" x2="499.2" y2="257.2" stroke="#555" stroke-width="0.6"/>
<line x1="497.4" y1="269.4" x2="499.2" y2="269.4" stroke="#555" stroke-width="0.6"/>
<line x1="497.4" y1="281.6" x2="499.2" y2="281.6" stroke="#555" stroke-width="0.6"/>
<line x1="497.4" y1="293.8" x2="499.2" y2="293.8" stroke="#555" stroke-width="0.6"/>
<line x1="497.4" y1="305.9" x2="499.2" y2="305.9" stroke="#555" stroke-width="0.6"/>
<line x1="497.4" y1="318.1" x2="499.2" y2="318.1" stroke="#555" stroke-width="0.6"/>
<line x1="497.4" y1="330.3" x2="499.2" y2="330.3" stroke="#555" stroke-width="0.6"/>
<line x1="497.4" y1="342.5" x2="499.2" y2="342.5" stroke="#555" stroke-width="0.6"/>
<line x1="497.4" y1="354.7" x2="499.2" y2="354.7" stroke="#555" stroke-width="0.6"/>
<line x1="497.4" y1="366.8" x2="499.2" y2="366.8" stroke="#555" stroke-width="0.6"/>
<line x1="497.4" y1="379" x2="499.2" y2="379" stroke="#555" stroke-width="0.6"/>
<line x1="497.4" y1="391.2" x2="499.2" y2="391.2" stroke="#555" stroke-width="0.6"/>
<line x1="497.4" y1="403.4" x2="499.2" y2="403.4" stroke="#555" stroke-width="0.6"/>
<line x1="497.4" y1="415.6" x2="499.2" y2="415.6" stroke="#555" stroke-width="0.6"/>
<line x1="497.4" y1="427.7" x2="499.2" y2="427.7" stroke="#555" stroke-width="0.6"/>
<line x1="497.4" y1="439.9" x2="499.2" y2="439.9" stroke="#555" stroke-width="0.6"/>
<text x="572" y="462" text-anchor="middle" fill="#333" font-size="7.6">NES</text>
<circle cx="566.5" cy="208.5" r="1.85" fill="#da4740"/>
<circle cx="545.7" cy="220.7" r="2.45" fill="#da4740"/>
<circle cx="544" cy="232.9" r="2.55" fill="#da4740"/>
<circle cx="521.8" cy="245" r="2.25" fill="#c9505a"/>
<circle cx="515" cy="257.2" r="2.65" fill="#a56ca4"/>
<circle cx="514" cy="269.4" r="2.25" fill="#c25262"/>
<circle cx="509.6" cy="281.6" r="1.75" fill="#7b72c2"/>
<circle cx="506.8" cy="293.8" r="2.45" fill="#b96272"/>
<circle cx="502.4" cy="305.9" r="1.25" fill="#3a90e0"/>
<circle cx="501.6" cy="318.1" r="2.05" fill="#c25664"/>
<circle cx="639.3" cy="330.3" r="2.05" fill="#da4740"/>
<circle cx="629.8" cy="342.5" r="2.45" fill="#da4740"/>
<circle cx="628.6" cy="354.7" r="2.45" fill="#da4740"/>
<circle cx="625.2" cy="366.8" r="2.05" fill="#da4740"/>
<circle cx="619.4" cy="379" r="2.45" fill="#da4740"/>
<circle cx="614.2" cy="391.2" r="2.25" fill="#da4740"/>
<circle cx="611.9" cy="403.4" r="2.25" fill="#da4740"/>
<circle cx="599.8" cy="415.6" r="2.85" fill="#da4740"/>
<circle cx="583.9" cy="427.7" r="2.45" fill="#da4740"/>
<circle cx="574.6" cy="439.9" r="2.95" fill="#da4740"/>
<text x="298" y="284.3" font-size="8.2">GeneRatio</text>
<circle cx="301.7" cy="289.6" r="1.5" fill="#111"/>
<text x="306.6" y="292.4" fill="#333" font-size="8.2">0.2</text>
<circle cx="301.7" cy="295.9" r="2.0" fill="#111"/>
<text x="306.6" y="298.7" fill="#333" font-size="8.2">0.3</text>
<circle cx="301.7" cy="302.6" r="2.3" fill="#111"/>
<text x="306.6" y="305.4" fill="#333" font-size="8.2">0.4</text>
<circle cx="301.7" cy="309.9" r="2.6" fill="#111"/>
<text x="306.6" y="312.7" fill="#333" font-size="8.2">0.5</text>
<circle cx="301.7" cy="317.6" r="2.9" fill="#111"/>
<text x="306.6" y="320.4" fill="#333" font-size="8.2">0.6</text>
<text x="297.7" y="336.5" font-size="8.2">p.adjust</text>
<rect x="297.7" y="339" width="6" height="32" fill="url(#padj)"/>
<line x1="297.7" y1="347.8" x2="299" y2="347.8" stroke="#fff" stroke-width="0.5"/>
<line x1="302.3" y1="347.8" x2="303.7" y2="347.8" stroke="#fff" stroke-width="0.5"/>
<text x="306.8" y="350.6" fill="#333" font-size="8.2">1e−04</text>
<line x1="297.7" y1="357" x2="299" y2="357" stroke="#fff" stroke-width="0.5"/>
<line x1="302.3" y1="357" x2="303.7" y2="357" stroke="#fff" stroke-width="0.5"/>
<text x="306.8" y="359.8" fill="#333" font-size="8.2">2e−04</text>
<line x1="297.7" y1="366.5" x2="299" y2="366.5" stroke="#fff" stroke-width="0.5"/>
<line x1="302.3" y1="366.5" x2="303.7" y2="366.5" stroke="#fff" stroke-width="0.5"/>
<text x="306.8" y="369.3" fill="#333" font-size="8.2">3e−04</text>
<text x="648.2" y="296.3" font-size="8.2">GeneRatio</text>
<circle cx="652.4" cy="302" r="1.45" fill="#111"/>
<text x="657.6" y="304.8" fill="#333" font-size="8.2">0.25</text>
<circle cx="652.4" cy="309.6" r="1.9" fill="#111"/>
<text x="657.6" y="312.4" fill="#333" font-size="8.2">0.50</text>
<circle cx="652.4" cy="317.4" r="2.5" fill="#111"/>
<text x="657.6" y="320.2" fill="#333" font-size="8.2">0.75</text>
<text x="647.2" y="334" font-size="8.2">p.adjust</text>
<rect x="648.3" y="336.9" width="6.3" height="34" fill="url(#padj)"/>
<line x1="648.3" y1="342.4" x2="649.6" y2="342.4" stroke="#fff" stroke-width="0.5"/>
<line x1="653.3" y1="342.4" x2="654.6" y2="342.4" stroke="#fff" stroke-width="0.5"/>
<text x="657.6" y="345.2" fill="#333" font-size="8.2">0.1</text>
<line x1="648.3" y1="350.4" x2="649.6" y2="350.4" stroke="#fff" stroke-width="0.5"/>
<line x1="653.3" y1="350.4" x2="654.6" y2="350.4" stroke="#fff" stroke-width="0.5"/>
<text x="657.6" y="353.2" fill="#333" font-size="8.2">0.2</text>
<line x1="648.3" y1="358" x2="649.6" y2="358" stroke="#fff" stroke-width="0.5"/>
<line x1="653.3" y1="358" x2="654.6" y2="358" stroke="#fff" stroke-width="0.5"/>
<text x="657.6" y="360.8" fill="#333" font-size="8.2">0.3</text>
<line x1="648.3" y1="365.5" x2="649.6" y2="365.5" stroke="#fff" stroke-width="0.5"/>
<line x1="653.3" y1="365.5" x2="654.6" y2="365.5" stroke="#fff" stroke-width="0.5"/>
<text x="657.6" y="368.3" fill="#333" font-size="8.2">0.4</text>
<line x1="55" y1="488.4" x2="55" y2="605.9" stroke="#ececec" stroke-width="0.5"/>
<line x1="96.8" y1="488.4" x2="96.8" y2="605.9" stroke="#ececec" stroke-width="0.5"/>
<line x1="137" y1="488.4" x2="137" y2="605.9" stroke="#ececec" stroke-width="0.5"/>
<line x1="180" y1="488.4" x2="180" y2="605.9" stroke="#ececec" stroke-width="0.5"/>
<line x1="35.7" y1="493.4" x2="222" y2="493.4" stroke="#ececec" stroke-width="0.5"/>
<line x1="35.7" y1="526.1" x2="222" y2="526.1" stroke="#ececec" stroke-width="0.5"/>
<line x1="35.7" y1="558.5" x2="222" y2="558.5" stroke="#ececec" stroke-width="0.5"/>
<line x1="35.7" y1="590.9" x2="222" y2="590.9" stroke="#ececec" stroke-width="0.5"/>
<line x1="35.7" y1="509.8" x2="222" y2="509.8" stroke="#f5f5f5" stroke-width="0.4"/>
<line x1="35.7" y1="542.3" x2="222" y2="542.3" stroke="#f5f5f5" stroke-width="0.4"/>
<line x1="35.7" y1="574.7" x2="222" y2="574.7" stroke="#f5f5f5" stroke-width="0.4"/>
<path d="M37.1 521.5V590.9M38.4 510.9V590.9M39 507.7V590.9M40.8 500V590.9M41.5 498.5V590.9M43 496.6V590.9M44.1 495.8V590.9M45.2 495V590.9M47.2 494.4V590.9M48.4 494.1V590.9M49.1 494V590.9M50.6 493.7V590.9M51.7 493.5V590.9M53 493.5V590.9M54.7 493.6V590.9M55.7 493.7V590.9M58.4 494.3V590.9M59.8 494.6V590.9M62.2 495.6V590.9M64 496.3V590.9M66.9 497.9V590.9M68.2 498.8V590.9M70.4 500.2V590.9M72.5 501.5V590.9M73.7 502.3V590.9M77 505V590.9M78.6 506.4V590.9M81 508.7V590.9M82.9 510.7V590.9M84.5 512.4V590.9M87.1 515.2V590.9M89.3 517.5V590.9M91.2 519.2V590.9M93.5 521.3V590.9M94.5 522.2V590.9M96.3 523.9V590.9M99.4 526.9V590.9M103 530.5V590.9M106.3 533.7V590.9M110.3 537.5V590.9M113.7 540.9V590.9M115.3 542.4V590.9M120.9 547.8V590.9M123.4 550V590.9M128.1 554.3V590.9M130.2 556.1V590.9M134.3 559V590.9M138.3 562.1V590.9M141 564.5V590.9M143.8 567V590.9M147.5 570.2V590.9M149.9 572.1V590.9M152.9 574.6V590.9M153.9 575.4V590.9M157.2 577.9V590.9M161.1 580.7V590.9M163.8 582.7V590.9M166.4 584.7V590.9M167.7 585.9V590.9M170.9 588.6V590.9M174.6 591.5V590.9M175.6 592.2V590.9M177.2 593.2V590.9M179.2 594.4V590.9M180.9 595.4V590.9M181.8 595.8V590.9M183.5 596.6V590.9M184.7 597.2V590.9M186.9 598.2V590.9M188.5 598.6V590.9M189.9 599V590.9M191.8 599.5V590.9M192.9 599.8V590.9M195.1 600.1V590.9M196.2 600.2V590.9M197.2 600.3V590.9M199.1 600.3V590.9M200.2 600.2V590.9M201.5 600.2V590.9M202.3 600.2V590.9M203.4 600.1V590.9M204.9 599.7V590.9M206 599.5V590.9M206.7 599.3V590.9M208.2 599V590.9M208.9 598.7V590.9M209.8 598.4V590.9M211 598V590.9M212.3 597.6V590.9M212.8 597.5V590.9M214.5 596.7V590.9M214.9 596.5V590.9M216.1 595.9V590.9M217.1 595.4V590.9M218.7 594.5V590.9M219.4 594.1V590.9M220.5 593.5V590.9" stroke="url(#g1)" stroke-width="1.15" fill="none"/>
<line x1="35.7" y1="590.9" x2="222" y2="590.9" stroke="#444" stroke-width="0.8" stroke-dasharray="2.2 1.6"/>
<polyline points="35.7,590.9 36.2,542.1 37,522.6 38,512.9 39.5,504.8 41,499.1 43,496.6 45,495 48,494.2 52,493.4 56,493.7 60,494.7 65,496.6 70,499.9 75,503.1 82,509.6 88.5,516.8 95,522.6 100,527.5 110,537.3 120,547 130,556 137,560.8 145,568.1 155,576.3 165,583.6 173.6,590.9 180,595 187,598.2 193,599.8 197,600.3 203,600.2 208,599 213,597.4 218,595 222,592.5" fill="none" stroke="url(#g1)" stroke-width="1.5" stroke-linejoin="round"/>
<rect x="35.7" y="488.4" width="186.3" height="117.5" fill="none" stroke="#555" stroke-width="0.9"/>
<rect x="35.7" y="605.3" width="186.3" height="1.8" fill="#8c8c8c"/>
<rect x="35.7" y="607.5" width="26" height="12.8" fill="#c994c8"/>
<rect x="61.7" y="607.5" width="21.7" height="12.8" fill="#e3c7e2"/>
<rect x="83.4" y="607.5" width="25.1" height="12.8" fill="#f5e9f3"/>
<rect x="108.5" y="607.5" width="30" height="12.8" fill="#e9edf3"/>
<rect x="138.5" y="607.5" width="36.7" height="12.8" fill="#c7d2e3"/>
<rect x="175.2" y="607.5" width="25.1" height="12.8" fill="#a6b7d3"/>
<rect x="200.3" y="607.5" width="16.7" height="12.8" fill="#8ba1c7"/>
<rect x="217" y="607.5" width="5" height="12.8" fill="#6d88b7"/>
<rect x="35.7" y="607.5" width="186.3" height="12.8" fill="none" stroke="#666" stroke-width="0.7"/>
<line x1="33.7" y1="493.4" x2="35.7" y2="493.4" stroke="#555" stroke-width="0.7"/>
<text x="32.5" y="496.6" text-anchor="end" fill="#333" font-size="9">0.6</text>
<line x1="33.7" y1="526.1" x2="35.7" y2="526.1" stroke="#555" stroke-width="0.7"/>
<text x="32.5" y="529.3" text-anchor="end" fill="#333" font-size="9">0.4</text>
<line x1="33.7" y1="558.5" x2="35.7" y2="558.5" stroke="#555" stroke-width="0.7"/>
<text x="32.5" y="561.7" text-anchor="end" fill="#333" font-size="9">0.2</text>
<line x1="33.7" y1="590.9" x2="35.7" y2="590.9" stroke="#555" stroke-width="0.7"/>
<text x="32.5" y="594.1" text-anchor="end" fill="#333" font-size="9">0.0</text>
<text x="13.6" y="550.8" text-anchor="middle" font-size="9.3" transform="rotate(-90 13.6 550.8)">Running Enrichment Score</text>
<text x="140.9" y="477.4" text-anchor="middle" fill="#111" font-size="9.2">Extracellular Matrix</text>
<text x="136.6" y="485" text-anchor="middle" fill="#111" font-size="9.2">Organization</text>
<text x="185" y="502" text-anchor="middle" fill="#111" font-size="9.2">NES: 1.87</text>
<text x="185" y="509.5" text-anchor="middle" fill="#111" font-size="9.2">Pvalue: 0</text>
<text x="185" y="517" text-anchor="middle" fill="#111" font-size="9.2">Ajusted Pvalue: 0</text>
<line x1="284" y1="488.3" x2="284" y2="605.7" stroke="#ececec" stroke-width="0.5"/>
<line x1="325" y1="488.3" x2="325" y2="605.7" stroke="#ececec" stroke-width="0.5"/>
<line x1="367" y1="488.3" x2="367" y2="605.7" stroke="#ececec" stroke-width="0.5"/>
<line x1="408" y1="488.3" x2="408" y2="605.7" stroke="#ececec" stroke-width="0.5"/>
<line x1="262.5" y1="493.5" x2="449.9" y2="493.5" stroke="#ececec" stroke-width="0.5"/>
<line x1="262.5" y1="520.4" x2="449.9" y2="520.4" stroke="#ececec" stroke-width="0.5"/>
<line x1="262.5" y1="546.8" x2="449.9" y2="546.8" stroke="#ececec" stroke-width="0.5"/>
<line x1="262.5" y1="573.6" x2="449.9" y2="573.6" stroke="#ececec" stroke-width="0.5"/>
<line x1="262.5" y1="600.8" x2="449.9" y2="600.8" stroke="#ececec" stroke-width="0.5"/>
<line x1="262.5" y1="506.9" x2="449.9" y2="506.9" stroke="#f5f5f5" stroke-width="0.4"/>
<line x1="262.5" y1="533.6" x2="449.9" y2="533.6" stroke="#f5f5f5" stroke-width="0.4"/>
<line x1="262.5" y1="560.2" x2="449.9" y2="560.2" stroke="#f5f5f5" stroke-width="0.4"/>
<line x1="262.5" y1="587.2" x2="449.9" y2="587.2" stroke="#f5f5f5" stroke-width="0.4"/>
<path d="M263.6 493.7V493.5M264.6 493.8V493.5M265 493.9V493.5M266 494V493.5M266.9 494.1V493.5M267.7 494.2V493.5M268.8 494.4V493.5M269.5 494.5V493.5M270.3 494.7V493.5M270.8 494.8V493.5M271.8 495V493.5M272.5 495.1V493.5M273.3 495.3V493.5M274.4 495.5V493.5M275.5 495.7V493.5M276.4 495.9V493.5M277.2 496.1V493.5M277.5 496.2V493.5M278.9 497V493.5M279.8 497.5V493.5M280.2 497.7V493.5M281.2 498.3V493.5M282 498.8V493.5M282.7 499.2V493.5M283.5 499.7V493.5M284.4 500.1V493.5M287.5 502.3V493.5M290.3 504.4V493.5M294.6 507.6V493.5M298.6 511.5V493.5M301.2 514.2V493.5M304.6 517.6V493.5M307.6 520.6V493.5M310.4 523.4V493.5M314.1 527.1V493.5M319.9 532.5V493.5M321.6 533.9V493.5M325.2 536.7V493.5M331.2 541.2V493.5M340.1 546.9V493.5M346 550.7V493.5M352.5 554.3V493.5M356.8 556.7V493.5M362.5 559.7V493.5M365.9 561.2V493.5M368.1 562.2V493.5M370.1 563.1V493.5M375.5 565.6V493.5M377.4 566.6V493.5M381 568.5V493.5M383.7 570V493.5M387.8 572.3V493.5M390.7 573.9V493.5M392.7 575V493.5M396.2 576.9V493.5M400.5 579.3V493.5M402.9 580.6V493.5M407.2 583.2V493.5M408.1 583.8V493.5M408.7 584.2V493.5M409 584.4V493.5M409.4 584.7V493.5M409.9 585V493.5M410.2 585.3V493.5M410.8 585.6V493.5M411.2 585.9V493.5M411.6 586.2V493.5M411.9 586.4V493.5M412.3 586.7V493.5M412.6 586.9V493.5M413.1 587.2V493.5M413.7 587.6V493.5M414.1 587.8V493.5M414.5 588.1V493.5M414.8 588.4V493.5M415.3 588.7V493.5M415.5 588.8V493.5M416 589.1V493.5M416.6 589.5V493.5M416.9 589.8V493.5M417.2 590V493.5M417.7 590.3V493.5M418.2 590.6V493.5M418.6 590.9V493.5M419.1 591.2V493.5M419.3 591.4V493.5M419.9 591.8V493.5M420.2 592V493.5M420.6 592.3V493.5M421.2 592.7V493.5M421.5 592.9V493.5M422 593.2V493.5M422.3 593.5V493.5M422.8 593.8V493.5M423.1 594V493.5M423.6 594.4V493.5M423.9 594.6V493.5M424.3 594.8V493.5M424.7 595.1V493.5M425.2 595.5V493.5M425.6 595.8V493.5M425.9 596V493.5M426.6 596.4V493.5M426.9 596.7V493.5M427.2 596.9V493.5M427.8 597.3V493.5M428 597.5V493.5M428.6 597.8V493.5M429 598V493.5M429.5 598.2V493.5M429.8 598.4V493.5M430.2 598.6V493.5M430.8 598.9V493.5M430.9 598.9V493.5M431.3 599.2V493.5M431.8 599.4V493.5M432.2 599.6V493.5M432.7 599.9V493.5M433.1 600.1V493.5M433.6 600.3V493.5M433.8 600.4V493.5M434.3 600.6V493.5M434.9 600.5V493.5M435.2 600.4V493.5M435.5 600.4V493.5M436 600.3V493.5M436.3 600.2V493.5M436.7 600.1V493.5M437.2 600V493.5M437.6 600V493.5M438.1 599.9V493.5M438.6 599.8V493.5M439 599.7V493.5M439.4 599.6V493.5M439.9 599.5V493.5M440.2 599.4V493.5M440.6 599V493.5M441.1 598.6V493.5M441.4 598.4V493.5M441.7 598.1V493.5M442.2 597.7V493.5M442.7 597.4V493.5M443 597.1V493.5M443.6 596.6V493.5M443.9 596.4V493.5M444.4 596V493.5M444.6 595.8V493.5M445.1 595.2V493.5M445.5 594.2V493.5M445.9 593.2V493.5M446.3 592V493.5M446.8 590.7V493.5M447.2 589.8V493.5M447.8 586.2V493.5M448.1 582.6V493.5M448.4 579.6V493.5M448.8 575V493.5M449.4 533.7V493.5" stroke="url(#g2)" stroke-width="1.0" fill="none"/>
<line x1="262.5" y1="493.5" x2="449.9" y2="493.5" stroke="#444" stroke-width="0.8" stroke-dasharray="2.2 1.6"/>
<polyline points="262.5,493.5 266,494 270,494.6 277.4,496.1 285,500.5 294.8,507.7 305,518 318,531 330,540.5 347,551.3 360,558.5 376,565.8 390,573.5 405.1,581.8 418,590.5 428.4,597.7 434.2,600.6 440,599.5 445,595.5 447.5,589 448.8,575 449.3,545 449.6,505 449.8,494" fill="none" stroke="url(#g2)" stroke-width="1.5" stroke-linejoin="round"/>
<rect x="262.5" y="488.3" width="187.4" height="117.4" fill="none" stroke="#555" stroke-width="0.9"/>
<rect x="262.5" y="605.1" width="187.4" height="1.8" fill="#8c8c8c"/>
<rect x="262.5" y="607.3" width="6.3" height="12.8" fill="#c28ec4"/>
<rect x="268.8" y="607.3" width="5.2" height="12.8" fill="#dcc0dc"/>
<rect x="274" y="607.3" width="17.4" height="12.8" fill="#f2ecf3"/>
<rect x="291.4" y="607.3" width="27.9" height="12.8" fill="#d4dcea"/>
<rect x="319.3" y="607.3" width="104.5" height="12.8" fill="#a9b8d4"/>
<rect x="423.8" y="607.3" width="26.1" height="12.8" fill="#8398c1"/>
<rect x="262.5" y="607.3" width="187.4" height="12.8" fill="none" stroke="#666" stroke-width="0.7"/>
<line x1="260.5" y1="493.5" x2="262.5" y2="493.5" stroke="#555" stroke-width="0.7"/>
<text x="259.3" y="496.7" text-anchor="end" fill="#333" font-size="9">0.0</text>
<line x1="260.5" y1="520.4" x2="262.5" y2="520.4" stroke="#555" stroke-width="0.7"/>
<text x="259.3" y="523.6" text-anchor="end" fill="#333" font-size="9">−0.2</text>
<line x1="260.5" y1="546.8" x2="262.5" y2="546.8" stroke="#555" stroke-width="0.7"/>
<text x="259.3" y="550" text-anchor="end" fill="#333" font-size="9">−0.4</text>
<line x1="260.5" y1="573.6" x2="262.5" y2="573.6" stroke="#555" stroke-width="0.7"/>
<text x="259.3" y="576.8" text-anchor="end" fill="#333" font-size="9">−0.6</text>
<line x1="260.5" y1="600.8" x2="262.5" y2="600.8" stroke="#555" stroke-width="0.7"/>
<text x="259.3" y="604" text-anchor="end" fill="#333" font-size="9">−0.8</text>
<text x="237.2" y="550.8" text-anchor="middle" font-size="9.3" transform="rotate(-90 237.2 550.8)">Running Enrichment Score</text>
<text x="365.8" y="484" text-anchor="middle" fill="#111" font-size="9.2">Cell Cycle Mitotic</text>
<text x="308.8" y="579.5" text-anchor="middle" fill="#111" font-size="9.2">NES: −1.89</text>
<text x="308.8" y="587" text-anchor="middle" fill="#111" font-size="9.2">Pvalue: 0</text>
<text x="308.8" y="594.5" text-anchor="middle" fill="#111" font-size="9.2">Ajusted Pvalue: 0</text>
<line x1="512" y1="488.8" x2="512" y2="606" stroke="#ececec" stroke-width="0.5"/>
<line x1="553" y1="488.8" x2="553" y2="606" stroke="#ececec" stroke-width="0.5"/>
<line x1="594" y1="488.8" x2="594" y2="606" stroke="#ececec" stroke-width="0.5"/>
<line x1="635" y1="488.8" x2="635" y2="606" stroke="#ececec" stroke-width="0.5"/>
<line x1="490.6" y1="494" x2="677.2" y2="494" stroke="#ececec" stroke-width="0.5"/>
<line x1="490.6" y1="519.4" x2="677.2" y2="519.4" stroke="#ececec" stroke-width="0.5"/>
<line x1="490.6" y1="544.7" x2="677.2" y2="544.7" stroke="#ececec" stroke-width="0.5"/>
<line x1="490.6" y1="570.7" x2="677.2" y2="570.7" stroke="#ececec" stroke-width="0.5"/>
<line x1="490.6" y1="596.4" x2="677.2" y2="596.4" stroke="#ececec" stroke-width="0.5"/>
<line x1="490.6" y1="506.7" x2="677.2" y2="506.7" stroke="#f5f5f5" stroke-width="0.4"/>
<line x1="490.6" y1="532" x2="677.2" y2="532" stroke="#f5f5f5" stroke-width="0.4"/>
<line x1="490.6" y1="557.7" x2="677.2" y2="557.7" stroke="#f5f5f5" stroke-width="0.4"/>
<line x1="490.6" y1="583.5" x2="677.2" y2="583.5" stroke="#f5f5f5" stroke-width="0.4"/>
<path d="M509.8 500.4V494M513.3 503V494M514.6 504V494M516.7 505.5V494M519.8 507.7V494M522.4 509.6V494M525 511.5V494M526.4 512.5V494M529.5 514.7V494M532.1 516.6V494M563.7 538.5V494M578.3 548.1V494M596.8 559.9V494M604.1 564.3V494M605.9 565.4V494M613.5 570V494M616.2 571.6V494M622.3 575.3V494M627.8 578.4V494M632.5 581.2V494M637.7 584.2V494M639.5 585.2V494M640.3 585.7V494M641 586.1V494M641.6 586.5V494M642.7 587V494M643.3 587.4V494M643.9 587.7V494M644.5 588.1V494M645.7 588.8V494M646.6 589.3V494M647.2 589.6V494M648 590.1V494M648.8 590.5V494M649.6 591V494M650.2 591.3V494M651.1 591.9V494M651.7 592.3V494M652.4 592.8V494M653.4 593.4V494M654.2 594V494M655 594.7V494M655.5 595.2V494M656.5 596.1V494M657.3 596.9V494M658 597.5V494M658.4 597.8V494M659.1 598.3V494M659.7 598.7V494M660 599V494M660.3 599.2V494M660.9 599.6V494M661.1 599.8V494M661.5 600V494M662 600.4V494M662.4 600.2V494M663 600V494M663.2 599.9V494M663.7 599.7V494M664.2 599.5V494M664.3 599.5V494M664.8 599.3V494M665.3 598.8V494M665.8 598.3V494M666 598.1V494M666.6 597.4V494M666.9 597.1V494M667.3 596.6V494M667.6 596.3V494M668.2 595.6V494M668.5 595V494M668.8 594.5V494M669.2 593.8V494M669.6 593V494M670.1 592.2V494M670.4 591.6V494M670.9 590.5V494M671.4 588.8V494M671.8 587.6V494M672.2 586.3V494M672.6 585.3V494M673 581.2V494M673.3 578.3V494M673.9 567.8V494M674.3 553.6V494M674.6 538.4V494M675 520.1V494M675.3 506.5V494M675.7 494.3V494" stroke="url(#g3)" stroke-width="1.0" fill="none"/>
<line x1="490.6" y1="494" x2="677.2" y2="494" stroke="#444" stroke-width="0.8" stroke-dasharray="2.2 1.6"/>
<polyline points="490.6,494.3 495,495 500,495.8 503,496.4 505,497 510,500.6 515,504.3 520,507.9 525,511.5 530,515.1 535,518.6 540,522.2 545,525.7 550,529.1 555,532.6 560,536 565,539.4 570,542.7 575,546 580,549.2 585,552.5 590,555.6 595,558.8 600,561.8 605,564.9 610,567.9 615,570.9 620,573.9 625,576.8 630,579.7 635,582.6 640,585.5 645,588.4 650,591.2 654,593.8 658,597.5 662,600.4 665,599.2 668,595.9 670.5,591.5 672.6,585.3 673.6,575 674.1,561 674.8,530 675.3,505 675.6,494.3" fill="none" stroke="url(#g3)" stroke-width="1.5" stroke-linejoin="round"/>
<rect x="490.6" y="488.8" width="186.6" height="117.2" fill="none" stroke="#555" stroke-width="0.9"/>
<rect x="490.6" y="605.4" width="186.6" height="1.8" fill="#8c8c8c"/>
<rect x="490.6" y="607.6" width="6.2" height="12.8" fill="#c08ac2"/>
<rect x="496.8" y="607.6" width="5.2" height="12.8" fill="#dcc0dc"/>
<rect x="502" y="607.6" width="5.2" height="12.8" fill="#f2eaf2"/>
<rect x="507.2" y="607.6" width="16.3" height="12.8" fill="#cad4e6"/>
<rect x="523.5" y="607.6" width="115.5" height="12.8" fill="#a7b6d3"/>
<rect x="639" y="607.6" width="38.2" height="12.8" fill="#8499c2"/>
<rect x="490.6" y="607.6" width="186.6" height="12.8" fill="none" stroke="#666" stroke-width="0.7"/>
<line x1="488.6" y1="494" x2="490.6" y2="494" stroke="#555" stroke-width="0.7"/>
<text x="487.4" y="497.2" text-anchor="end" fill="#333" font-size="9">0.0</text>
<line x1="488.6" y1="519.4" x2="490.6" y2="519.4" stroke="#555" stroke-width="0.7"/>
<text x="487.4" y="522.6" text-anchor="end" fill="#333" font-size="9">−0.2</text>
<line x1="488.6" y1="544.7" x2="490.6" y2="544.7" stroke="#555" stroke-width="0.7"/>
<text x="487.4" y="547.9" text-anchor="end" fill="#333" font-size="9">−0.4</text>
<line x1="488.6" y1="570.7" x2="490.6" y2="570.7" stroke="#555" stroke-width="0.7"/>
<text x="487.4" y="573.9" text-anchor="end" fill="#333" font-size="9">−0.6</text>
<line x1="488.6" y1="596.4" x2="490.6" y2="596.4" stroke="#555" stroke-width="0.7"/>
<text x="487.4" y="599.6" text-anchor="end" fill="#333" font-size="9">−0.8</text>
<text x="463.4" y="550.8" text-anchor="middle" font-size="9.3" transform="rotate(-90 463.4 550.8)">Running Enrichment Score</text>
<text x="592.2" y="484.5" text-anchor="middle" fill="#111" font-size="9.2">DNA Replication</text>
<text x="533.2" y="582.5" text-anchor="middle" fill="#111" font-size="9.2">NES: −1.86</text>
<text x="533.2" y="590" text-anchor="middle" fill="#111" font-size="9.2">Pvalue: 0</text>
<text x="533.2" y="597.5" text-anchor="middle" fill="#111" font-size="9.2">Ajusted Pvalue: 0</text>
<text x="36.6" y="654.1" text-anchor="end" fill="#333" font-size="7.2">IFIT1</text>
<text x="36.6" y="659.8" text-anchor="end" fill="#333" font-size="7.2">COL1A1</text>
<text x="36.6" y="665.6" text-anchor="end" fill="#333" font-size="7.2">BST2</text>
<text x="36.6" y="671.3" text-anchor="end" fill="#333" font-size="7.2">ITM2C</text>
<text x="36.6" y="677.1" text-anchor="end" fill="#333" font-size="7.2">CREG1</text>
<text x="36.6" y="682.8" text-anchor="end" fill="#333" font-size="7.2">ACTC1</text>
<text x="36.6" y="688.6" text-anchor="end" fill="#333" font-size="7.2">RGS5</text>
<text x="36.6" y="694.3" text-anchor="end" fill="#333" font-size="7.2">TSC22D1</text>
<text x="36.6" y="700.1" text-anchor="end" fill="#333" font-size="7.2">ALDH2</text>
<text x="36.6" y="705.8" text-anchor="end" fill="#333" font-size="7.2">MALAT1</text>
<text x="36.6" y="711.6" text-anchor="end" fill="#333" font-size="7.2">CCBE1</text>
<text x="36.6" y="717.3" text-anchor="end" fill="#333" font-size="7.2">MYL9</text>
<text x="36.6" y="723.1" text-anchor="end" fill="#333" font-size="7.2">COL1A2</text>
<text x="36.6" y="728.8" text-anchor="end" fill="#333" font-size="7.2">COL6A2</text>
<text x="36.6" y="734.6" text-anchor="end" fill="#333" font-size="7.2">NODAL</text>
<text x="36.6" y="740.3" text-anchor="end" fill="#333" font-size="7.2">TGFBI</text>
<text x="36.6" y="746.1" text-anchor="end" fill="#333" font-size="7.2">ID2</text>
<text x="36.6" y="751.8" text-anchor="end" fill="#333" font-size="7.2">EPSTI1</text>
<text x="36.6" y="757.6" text-anchor="end" fill="#333" font-size="7.2">KANK1</text>
<text x="36.6" y="763.3" text-anchor="end" fill="#333" font-size="7.2">COL18A1</text>
<text x="36.6" y="769.1" text-anchor="end" fill="#333" font-size="7.2">ATF7IP2</text>
<text x="36.6" y="774.8" text-anchor="end" fill="#333" font-size="7.2">CSRP2</text>
<text x="36.6" y="780.6" text-anchor="end" fill="#333" font-size="7.2">HAND1</text>
<text x="36.6" y="786.3" text-anchor="end" fill="#333" font-size="7.2">CDK6</text>
<text x="36.6" y="792.1" text-anchor="end" fill="#333" font-size="7.2">MYADM</text>
<text x="36.6" y="797.8" text-anchor="end" fill="#333" font-size="7.2">TUBA1B</text>
<text x="36.6" y="803.6" text-anchor="end" fill="#333" font-size="7.2">H2AFZ</text>
<text x="36.6" y="809.3" text-anchor="end" fill="#333" font-size="7.2">CKS1B</text>
<text x="36.6" y="815.1" text-anchor="end" fill="#333" font-size="7.2">HMGB1</text>
<text x="36.6" y="820.8" text-anchor="end" fill="#333" font-size="7.2">SRSF7</text>
<text x="36.6" y="826.6" text-anchor="end" fill="#333" font-size="7.2">TBX6</text>
<text x="36.6" y="832.3" text-anchor="end" fill="#333" font-size="7.2">MCM4</text>
<text x="36.6" y="838.1" text-anchor="end" fill="#333" font-size="7.2">MCM5</text>
<text x="36.6" y="843.8" text-anchor="end" fill="#333" font-size="7.2">UBE2T</text>
<text x="36.6" y="849.6" text-anchor="end" fill="#333" font-size="7.2">SRSF3</text>
<text x="36.6" y="855.3" text-anchor="end" fill="#333" font-size="7.2">CENPF</text>
<text x="36.6" y="861.1" text-anchor="end" fill="#333" font-size="7.2">CLSPN</text>
<text x="36.6" y="866.8" text-anchor="end" fill="#333" font-size="7.2">UNG</text>
<text x="36.6" y="872.6" text-anchor="end" fill="#333" font-size="7.2">TYMS</text>
<text x="36.6" y="878.3" text-anchor="end" fill="#333" font-size="7.2">STMN1</text>
<text x="36.6" y="884.1" text-anchor="end" fill="#333" font-size="7.2">ENO1</text>
<text x="36.6" y="889.8" text-anchor="end" fill="#333" font-size="7.2">MAD2L1</text>
<text x="36.6" y="895.6" text-anchor="end" fill="#333" font-size="7.2">HIST1H1C</text>
<text x="36.6" y="901.3" text-anchor="end" fill="#333" font-size="7.2">RANBP1</text>
<text x="36.6" y="907.1" text-anchor="end" fill="#333" font-size="7.2">FEN1</text>
<text x="36.6" y="912.8" text-anchor="end" fill="#333" font-size="7.2">PKM</text>
<text x="36.6" y="918.6" text-anchor="end" fill="#333" font-size="7.2">PCNA</text>
<text x="36.6" y="924.3" text-anchor="end" fill="#333" font-size="7.2">GMNN</text>
<text x="36.6" y="930.1" text-anchor="end" fill="#333" font-size="7.2">HSP90AA1</text>
<text x="36.6" y="935.8" text-anchor="end" fill="#333" font-size="7.2">NUCKS1</text>
<rect x="39.7" y="638.3" width="139" height="5.7" fill="#f2766c"/>
<rect x="179.8" y="638.3" width="129" height="5.7" fill="#1fbfc0"/>
<text x="106.6" y="635" text-anchor="middle" font-size="6.5">0-1</text>
<text x="238.3" y="635" text-anchor="middle" font-size="6.5">0-2</text>
<g transform="translate(38.4 648.7) scale(1.2500 5.7500)" stroke-width="1" fill="none" shape-rendering="crispEdges"><path stroke="#d8c8d8" d="M0 0.5h1M3 3.5h1M10 18.5h1M1 21.5h1M187 27.5h1M8 29.5h1M9 36.5h1M1 41.5h1"/><path stroke="#e0d0d0" d="M1 0.5h1M3 15.5h1M6 25.5h1M3 29.5h1M164 44.5h1M9 46.5h1"/><path stroke="#c8c0d8" d="M2 0.5h1m3 0h1M7 3.5h1m1 0h1m48 0h1m2 0h1M7 4.5h1M1 7.5h1M9 8.5h1M1 9.5h1M4 11.5h2M1 12.5h1m4 0h1M5 13.5h1M0 14.5h2m1 0h2m8 0h1M5 15.5h1M3 16.5h1M7 17.5h2M9 18.5h1M0 20.5h1m1 0h1M7 21.5h1m1 0h2M127 32.5h1M203 44.5h1M147 47.5h1"/><path stroke="#e0c8d0" d="M3 0.5h1M30 3.5h1M3 4.5h1M28 24.5h1M0 28.5h1M109 31.5h1M154 37.5h1M0 47.5h1"/><path stroke="#e0d0d8" d="M4 0.5h1M170 10.5h1M112 17.5h1m17 0h1m35 0h1M96 30.5h1m87 0h1m1 0h1m23 0h1M5 41.5h1M5 46.5h2"/><path stroke="#d0c8d8" d="M5 0.5h1m3 0h1M3 2.5h1M10 8.5h1M108 10.5h1M1 11.5h1M3 13.5h1m3 0h1M78 14.5h1M4 15.5h1m2 0h1M3 19.5h1M1 20.5h1M3 23.5h1M6 45.5h1m172 0h1"/><path stroke="#d0c0c8" d="M7 0.5h1m45 0h1M40 2.5h1M83 3.5h1m11 0h1M73 4.5h1M29 5.5h1M105 6.5h1M53 7.5h1M60 8.5h1m18 0h1M21 11.5h1m19 0h1m19 0h1m2 0h1M56 12.5h1m15 0h1M107 13.5h2M70 14.5h1M14 15.5h1M97 16.5h1M81 19.5h1m2 0h1m10 0h1M82 20.5h1M12 21.5h1M40 23.5h1m8 0h1m51 0h1M35 24.5h1m9 0h1M127 25.5h1m79 0h1M175 28.5h1M176 29.5h1M38 32.5h1M160 33.5h1m12 0h1M187 35.5h1m25 0h1M116 36.5h1M187 37.5h1M140 39.5h1m19 0h1m25 0h1M126 40.5h1M9 41.5h2m109 0h1M158 44.5h1M201 46.5h1m12 0h1M211 48.5h1M120 49.5h1m33 0h1m25 0h1m18 0h1"/><path stroke="#c8b8d0" d="M8 0.5h1M1 2.5h1m63 0h1M4 4.5h1m51 0h1M97 5.5h1M107 7.5h1M12 10.5h1m3 0h1M75 14.5h1M108 15.5h1M109 18.5h1M7 19.5h1m32 0h1M4 20.5h1M83 23.5h1M57 24.5h1M170 25.5h1m13 0h1m16 0h1M200 26.5h1M115 27.5h1m35 0h1M130 28.5h1m17 0h1m47 0h1M173 29.5h1M201 34.5h1M118 35.5h1m37 0h1M129 37.5h1M215 39.5h1M212 40.5h1M131 41.5h1m45 0h2m7 0h1m25 0h1M114 42.5h1m26 0h1m5 0h1M127 43.5h1m60 0h1M136 44.5h1m52 0h2M188 45.5h1m22 0h1M199 48.5h1"/><path stroke="#d0c0d0" d="M10 0.5h1M7 2.5h1m62 0h1M18 3.5h1m16 0h1M96 5.5h1M33 7.5h1m42 0h1m6 0h1M4 8.5h1m2 0h1M90 9.5h1M34 13.5h1M7 14.5h1M2 15.5h1M93 16.5h1M2 17.5h1M25 18.5h1m31 0h1M26 19.5h1M61 20.5h1m32 0h1M5 21.5h1m83 0h1M12 23.5h1m78 0h1M73 24.5h1M142 26.5h1m17 0h1M135 27.5h1M118 28.5h1M0 29.5h1m3 0h1m2 0h1m160 0h1M194 33.5h1M0 36.5h1m5 0h1m3 0h1M151 39.5h1M147 40.5h1M182 41.5h1M127 44.5h1M202 45.5h1M113 46.5h1m37 0h1M125 47.5h1M120 48.5h1"/><path stroke="#b0a0c0" d="M11 0.5h1m49 0h1M32 3.5h1m9 0h1m22 0h1M46 4.5h1M11 5.5h1m55 0h1m2 0h1M38 7.5h1m52 0h1m6 0h1M74 9.5h1m4 0h1M45 10.5h1M67 11.5h1m11 0h1m1 0h1M79 12.5h1M46 14.5h1m13 0h1M18 16.5h1m7 0h1m3 0h1m15 0h1M85 18.5h1M38 19.5h1m14 0h1M69 21.5h1m21 0h1m115 0h1M13 22.5h1m23 0h1M52 23.5h1m12 0h1m146 0h1M12 24.5h1m10 0h1m43 0h1M150 25.5h1m1 0h1m45 0h1M117 26.5h1m73 0h1m7 0h1m2 0h1m9 0h1M132 27.5h1m10 0h1m18 0h1m8 0h1m9 0h1m7 0h3m6 0h1M113 28.5h2m1 0h1m14 0h1m2 0h1m17 0h1m13 0h1m44 0h1m3 0h1M129 29.5h1M115 31.5h1m2 0h1m18 0h1m18 0h1m10 0h1m39 0h1M136 32.5h1m6 0h1m3 0h1m21 0h1m3 0h1m2 0h1M132 33.5h1m20 0h1M115 34.5h1m35 0h1m5 0h1m24 0h2m9 0h1m16 0h1M177 36.5h1m4 0h1m25 0h1M115 37.5h1m1 0h1m3 0h1M122 38.5h1m9 0h1m54 0h1m6 0h1m6 0h1M125 39.5h1m35 0h1m20 0h1M153 40.5h1M206 41.5h1M125 42.5h1m36 0h1m27 0h2m9 0h1M122 43.5h1m21 0h1m12 0h1m18 0h1m14 0h1m14 0h1M126 44.5h1m17 0h1m35 0h1m28 0h1M186 45.5h1m19 0h1M112 46.5h1m31 0h1m22 0h1m45 0h1M116 47.5h1m4 0h1m23 0h2m12 0h1m23 0h2m3 0h1m5 0h1m16 0h1M112 48.5h1m55 0h1m26 0h1m8 0h1"/><path stroke="#b8a8c0" d="M12 0.5h1m2 0h1m1 0h1m1 0h1m5 0h1m4 0h1m24 0h1M15 1.5h1m28 0h1m8 0h1m11 0h1m7 0h1M12 2.5h1m24 0h1m8 0h1m7 0h1m1 0h1m20 0h1M13 3.5h1m8 0h1m50 0h2m24 0h1m8 0h1M41 4.5h1m50 0h1m1 0h1m7 0h1M13 5.5h1m57 0h1m9 0h1m9 0h1M12 6.5h1m31 0h1m3 0h1M25 7.5h1m18 0h1m24 0h1m9 0h1m8 0h2m7 0h1M64 8.5h1M32 9.5h1m13 0h1m1 0h1m11 0h1m8 0h1m15 0h1m16 0h1M96 10.5h1M26 11.5h1m5 0h1m23 0h1m1 0h1M20 12.5h1m13 0h1m25 0h1m3 0h1M11 13.5h1m32 0h1m11 0h2m39 0h1M71 14.5h1m13 0h1m7 0h1M39 15.5h1m3 0h1m13 0h1m8 0h1M14 16.5h1m5 0h1m12 0h1m46 0h1m7 0h1m2 0h1m11 0h1M26 18.5h1m3 0h1m33 0h1m28 0h1M23 19.5h1m41 0h1m11 0h1m16 0h1m3 0h1m1 0h1M16 20.5h1m37 0h1m4 0h1m19 0h1m9 0h1M30 21.5h1m4 0h1m64 0h1M35 22.5h1m20 0h1m22 0h1m8 0h1m11 0h1M16 23.5h1m4 0h1m20 0h1m12 0h1m4 0h1m3 0h1m5 0h1m28 0h1m8 0h1M22 24.5h1m10 0h2m14 0h1m26 0h1m2 0h1m5 0h1m10 0h1m1 0h1m8 0h1m2 0h1M122 25.5h1m15 0h1m23 0h1m14 0h1m1 0h1m34 0h1M127 26.5h1m16 0h1m26 0h1m18 0h1m7 0h1M128 27.5h1m4 0h1m8 0h1m6 0h1m36 0h1m5 0h1m19 0h1M112 28.5h1m11 0h2m13 0h1m3 0h2m26 0h1m22 0h1m6 0h1M152 29.5h1M112 31.5h1m20 0h1m24 0h1m16 0h1m9 0h1m3 0h1m15 0h1M130 32.5h2m18 0h2m34 0h1m21 0h1M137 33.5h1m7 0h1m1 0h1m1 0h2m1 0h1m54 0h1m5 0h1M112 34.5h1m6 0h1m11 0h1m12 0h1m17 0h1m7 0h1m41 0h1M158 35.5h1M138 36.5h1m1 0h1m16 0h1m12 0h1m5 0h1m29 0h1m4 0h1M144 37.5h1m17 0h1m30 0h1M114 38.5h1m1 0h1m31 0h1m4 0h1m38 0h1m7 0h1m10 0h1M112 39.5h1m9 0h1m44 0h1m9 0h1m34 0h1M121 40.5h1m13 0h1m4 0h1m18 0h1m3 0h1m11 0h1m5 0h1m21 0h1M156 41.5h1m38 0h1m6 0h2m10 0h1M120 42.5h1m15 0h1m1 0h1m25 0h1m12 0h1m6 0h1m25 0h1m4 0h1M131 43.5h1m5 0h1m10 0h1m45 0h1m1 0h1m3 0h1m10 0h1m1 0h1M122 44.5h1m12 0h1m31 0h1m5 0h1m2 0h1m4 0h1m2 0h2m18 0h1M125 45.5h1m8 0h1m8 0h1m32 0h1m4 0h1M132 46.5h1m5 0h1m2 0h1m41 0h1m22 0h1M119 47.5h1m23 0h1m13 0h1m6 0h1m5 0h1m3 0h1m12 0h1M131 48.5h1m1 0h1m12 0h1m17 0h1m2 0h1m6 0h1m10 0h1m7 0h1m19 0h2M168 49.5h1m8 0h1"/><path stroke="#a8a0c0" d="M13 0.5h1m59 0h1M55 2.5h1M16 3.5h1m17 0h1m9 0h1m19 0h1m4 0h1m23 0h1M105 9.5h1M16 15.5h1M15 16.5h1m29 0h1m12 0h1M19 18.5h1M69 19.5h1M15 23.5h1m10 0h1M11 24.5h1m38 0h1m39 0h1M151 25.5h1m30 0h1m26 0h1M122 26.5h1m25 0h1m1 0h1m42 0h1M207 28.5h1m1 0h1M135 31.5h1m51 0h1m14 0h1M160 32.5h1m30 0h1m7 0h1M122 34.5h1m13 0h1m28 0h1m10 0h1m19 0h1M125 36.5h1M140 38.5h1m41 0h1m7 0h1m2 0h1M112 40.5h1m9 0h1m68 0h1M133 41.5h1M123 42.5h1m19 0h1M185 43.5h1m13 0h1M159 44.5h1M177 46.5h1m37 0h1M131 47.5h1m8 0h1m3 0h1m28 0h1m11 0h1m11 0h1m16 0h1"/><path stroke="#9898c8" d="M14 0.5h1M9 1.5h1M49 3.5h1M5 5.5h1M8 7.5h2M6 9.5h1M6 16.5h1M9 24.5h1M207 27.5h1M160 28.5h1m51 0h1M132 31.5h1M173 40.5h1M212 48.5h1"/><path stroke="#c0b0c8" d="M16 0.5h1m51 0h1m3 0h1M20 1.5h1m2 0h1m22 0h1m25 0h1m4 0h1M27 2.5h1m22 0h1m25 0h1m23 0h1M20 3.5h1m12 0h1m29 0h1m7 0h1m4 0h1m8 0h1m12 0h1m108 0h1M0 4.5h1m11 0h1m34 0h1m55 0h1M40 5.5h1m4 0h1m3 0h1m6 0h1m19 0h1m12 0h1M16 6.5h1m5 0h1m14 0h1m16 0h1m16 0h1M45 7.5h1m14 0h1m45 0h1M33 9.5h1m33 0h1m16 0h1m18 0h1m4 0h1M13 10.5h1m53 0h1m30 0h1M60 11.5h1m5 0h1m32 0h1M14 12.5h1m31 0h2m7 0h1m50 0h1M13 13.5h1m25 0h1m25 0h1m3 0h1m18 0h1M63 14.5h1m15 0h1m1 0h1M23 15.5h1m60 0h1M100 16.5h1M45 17.5h1m1 0h1M27 18.5h1m19 0h1m32 0h1m25 0h1M11 19.5h1m36 0h1m6 0h1M45 20.5h1m10 0h1m8 0h1m14 0h1M16 21.5h1m5 0h1m3 0h1m11 0h1m8 0h1m7 0h1m47 0h2M29 22.5h1m8 0h2m3 0h1m22 0h1m28 0h1m9 0h1M25 23.5h1m15 0h1m5 0h1m2 0h1m5 0h1m9 0h1m21 0h1M20 24.5h1m35 0h1m11 0h1m9 0h1M154 25.5h1m5 0h1M112 26.5h1m5 0h1m1 0h1m3 0h1m30 0h1m20 0h1m2 0h1m2 0h1m2 0h1m11 0h1M120 27.5h1m35 0h1m1 0h1m2 0h1m31 0h1m10 0h2M126 28.5h1m9 0h3m6 0h1m5 0h1m7 0h1m16 0h1m12 0h1m14 0h1M115 29.5h1m49 0h1M123 31.5h1m22 0h1m16 0h1m40 0h1m6 0h1M138 32.5h1m2 0h1m39 0h1m13 0h1m7 0h1M167 33.5h1m32 0h1M120 34.5h1m3 0h1m27 0h1m25 0h1m21 0h1M145 35.5h1m16 0h1m6 0h1m16 0h1M112 36.5h1m2 0h1m36 0h1m10 0h1m2 0h1m6 0h1m5 0h1m3 0h1m10 0h1m10 0h1M113 37.5h1m8 0h1m11 0h1m7 0h1M124 38.5h1m9 0h1m8 0h1m7 0h1m10 0h1m8 0h1m9 0h1m3 0h1m28 0h1M120 39.5h1m32 0h1m1 0h1m53 0h1m1 0h1M132 40.5h1m3 0h1m8 0h1m33 0h1m3 0h1m16 0h1m5 0h1M121 41.5h1m16 0h1m11 0h1m7 0h1m8 0h1m12 0h1m7 0h1m24 0h1M113 42.5h1m21 0h1m1 0h1m6 0h1m6 0h1m4 0h1m19 0h1m1 0h1m2 0h1m32 0h1M112 43.5h1m12 0h1m2 0h1m7 0h1m13 0h1m16 0h1m5 0h1m8 0h1m12 0h1M117 44.5h1m5 0h1m5 0h2m3 0h1m14 0h1m12 0h1m33 0h1m15 0h1M138 45.5h1m32 0h1m26 0h1m10 0h1M126 46.5h1m7 0h1m18 0h1m18 0h1m5 0h1m14 0h1M138 47.5h1m19 0h1m1 0h1m28 0h1m20 0h1M127 48.5h1m11 0h2m12 0h1m1 0h1m3 0h1m2 0h1m13 0h1m29 0h2M158 49.5h1"/><path stroke="#b8a0b8" d="M18 0.5h1m8 0h1m42 0h1M17 1.5h1m3 0h1M179 2.5h1M53 3.5h1M33 5.5h1M56 6.5h1M31 9.5h1m6 0h1m29 0h1m11 0h1M19 10.5h1m32 0h1m38 0h1m15 0h1M63 12.5h1M99 13.5h1M106 14.5h1M13 16.5h1M13 18.5h1M33 19.5h1M25 20.5h1m20 0h1m44 0h1M17 21.5h1m3 0h1m15 0h1m28 0h1m15 0h1M19 22.5h1m44 0h1m58 0h1M75 23.5h1M13 24.5h1m4 0h1m81 0h1M146 25.5h1m68 0h1M126 27.5h1m11 0h1m2 0h1m26 0h1M174 28.5h1m5 0h1M194 32.5h1m10 0h1M170 33.5h1M123 34.5h1m4 0h2m9 0h1m15 0h1m39 0h1M130 35.5h1m1 0h1m17 0h1m3 0h1m29 0h1m4 0h1M126 37.5h1m10 0h1m74 0h1M164 38.5h1m4 0h1M136 39.5h1m15 0h1M120 40.5h1m3 0h1m37 0h1m4 0h1m47 0h1M134 41.5h1M155 42.5h1M118 43.5h1m46 0h1m27 0h1m4 0h1m15 0h1M147 44.5h1m8 0h1m42 0h2m12 0h1M130 46.5h1m14 0h1m6 0h1m49 0h1M130 47.5h1m34 0h1m20 0h1M135 48.5h1m16 0h1m17 0h1m44 0h1"/><path stroke="#b0a0b8" d="M20 0.5h1m10 0h1m42 0h1M37 1.5h1m16 0h1M94 3.5h1M65 4.5h1m22 0h1M47 7.5h1m25 0h1M50 9.5h1m6 0h1M60 10.5h1m18 0h1m9 0h1m13 0h1M15 11.5h1M37 13.5h1m16 0h1m3 0h1m46 0h1M67 14.5h1m21 0h1M49 15.5h1m46 0h1M19 16.5h1m69 0h1m14 0h1M48 17.5h1M61 18.5h1m9 0h1M58 19.5h1m9 0h1m28 0h1M75 20.5h1M60 21.5h1m31 0h1M55 24.5h1M114 25.5h1m57 0h1m2 0h1m7 0h1m2 0h1M173 26.5h1m3 0h1M113 27.5h1m22 0h1m58 0h1M140 28.5h1m6 0h1m8 0h1M128 31.5h1m9 0h1m23 0h1m37 0h1M112 32.5h1m69 0h1m10 0h1M156 34.5h1m34 0h1m11 0h1M165 35.5h1M132 36.5h1m65 0h1m1 0h1M138 38.5h1m41 0h1m2 0h1m5 0h1m12 0h1M206 39.5h1M139 40.5h1m16 0h2M137 41.5h1m72 0h1M152 42.5h1M133 43.5h1m18 0h1m3 0h1m52 0h1M124 44.5h1m25 0h1m60 0h1M182 45.5h1M171 46.5h1M117 47.5h1m9 0h1m79 0h1M113 48.5h1m9 0h1m14 0h1m51 0h1M147 49.5h1"/><path stroke="#b8b0c8" d="M21 0.5h1m1 0h1m9 0h1M22 1.5h1m26 0h1m11 0h1m38 0h1M86 2.5h1M1 3.5h1M48 4.5h1M19 5.5h1M33 6.5h1m66 0h1M39 9.5h1m5 0h1M107 11.5h1M13 12.5h1M36 13.5h1m170 0h1M20 14.5h1m23 0h1M0 15.5h1m90 0h1M55 16.5h1m22 0h1M33 18.5h1m5 0h1m5 0h1M14 19.5h1m49 0h1m14 0h1M26 20.5h1m6 0h1M18 21.5h2m88 0h1M70 22.5h1M32 23.5h1m4 0h1m29 0h1m6 0h1M15 24.5h1m23 0h1m4 0h1m46 0h1m3 0h1m10 0h1M113 25.5h1m11 0h1m23 0h1M158 26.5h1M121 27.5h2m30 0h1m30 0h1M168 28.5h1M130 31.5h1m48 0h1M114 32.5h1m70 0h1m10 0h1M190 33.5h1M126 34.5h1m13 0h1m1 0h1m5 0h1m11 0h1M155 35.5h1M155 36.5h1M210 37.5h1M129 38.5h1m20 0h1m56 0h1M158 39.5h1m54 0h1M116 40.5h1m41 0h1m12 0h1m38 0h1M122 41.5h1m71 0h1M119 42.5h1M124 43.5h1m20 0h1m44 0h1M112 44.5h1m8 0h1m53 0h1m30 0h1M147 45.5h1M184 46.5h1M112 47.5h1m2 0h1m32 0h1m44 0h1m2 0h1m1 0h1m14 0h1M148 48.5h1m35 0h1m1 0h1"/><path stroke="#b8a8c8" d="M22 0.5h1m18 0h1m16 0h1M52 1.5h1M45 2.5h1m1 0h1m16 0h1M0 3.5h1M49 6.5h1M56 9.5h1m42 0h1M62 10.5h1m25 0h1M46 13.5h1m42 0h1M100 14.5h1M5 16.5h1m38 0h1m27 0h1m29 0h1M63 18.5h1M39 19.5h1m20 0h1m5 0h1M107 20.5h1M32 21.5h1m23 0h1M49 22.5h1M16 24.5h1m15 0h1m39 0h1m4 0h1m5 0h1M141 25.5h1m34 0h1m36 0h1M135 26.5h1M154 27.5h1m42 0h1m13 0h1M150 28.5h1m37 0h1m9 0h1M120 31.5h1m26 0h1M132 32.5h2m6 0h1m27 0h1m43 0h1M158 34.5h1M126 36.5h1m29 0h1m23 0h1m3 0h1m6 0h1m20 0h1M131 38.5h1m28 0h2m15 0h1m17 0h1m2 0h1m14 0h1M169 41.5h1m20 0h1M116 42.5h1m9 0h1m23 0h1m52 0h1M192 43.5h1M128 44.5h1m19 0h1m30 0h1m13 0h1M122 45.5h1M188 46.5h1M120 47.5h1m28 0h1m4 0h1m26 0h1M114 48.5h1"/><path stroke="#d0b0b8" d="M24 0.5h1m3 0h1m5 0h1m17 0h1m14 0h1M27 1.5h2m66 0h1m3 0h1m2 0h1m1 0h1m9 0h1m34 0h1m56 0h1M59 2.5h1m22 0h1m24 0h1M24 3.5h1m61 0h1m20 0h1m52 0h1m21 0h1m19 0h1m1 0h2M14 4.5h1m22 0h1m31 0h1m27 0h1m9 0h1M15 5.5h1m83 0h1M20 6.5h1m14 0h1m19 0h1m8 0h1m28 0h1M70 7.5h1m1 0h1m12 0h1m109 0h1M23 8.5h1m9 0h1m4 0h1m5 0h1m1 0h1m1 0h1m18 0h1m23 0h1M53 9.5h1m28 0h1m4 0h1m53 0h1M17 10.5h1m6 0h1m4 0h1m14 0h1m10 0h1m25 0h1m5 0h1M22 11.5h1m49 0h1m14 0h1m55 0h1m58 0h1M21 12.5h1m37 0h1m7 0h1m7 0h1m6 0h2m17 0h1M24 13.5h1m184 0h1M62 14.5h1M21 15.5h1m71 0h1M11 16.5h1m38 0h1m23 0h1m20 0h1m48 0h1m48 0h1m8 0h1M14 17.5h1m2 0h1m15 0h1m19 0h1m15 0h1M28 18.5h1m11 0h1m14 0h1M20 19.5h1m41 0h1m54 0h1m7 0h1m35 0h1M24 20.5h1m9 0h1m23 0h1m18 0h1m60 0h1m17 0h1m22 0h1M20 21.5h1m140 0h1m8 0h1M34 22.5h1m20 0h1m5 0h1m16 0h1m3 0h1m2 0h1m96 0h1M11 23.5h1m23 0h1m100 0h1M143 24.5h1M128 25.5h1m66 0h1M27 26.5h1m19 0h1m99 0h1m57 0h1M19 28.5h1m18 0h1m66 0h1m2 0h1M150 29.5h1m12 0h1m3 0h1m29 0h1m7 0h1M47 31.5h1m5 0h1m30 0h2M29 32.5h1m13 0h1m1 0h1m12 0h1m35 0h1M128 33.5h1m11 0h1m15 0h1m21 0h1m17 0h1M12 34.5h1m32 0h1m51 0h2m5 0h1m44 0h1M170 35.5h1M124 36.5h1m44 0h1m5 0h1m11 0h1m8 0h1M73 37.5h1m53 0h2m26 0h1m8 0h1m12 0h1m24 0h1M137 38.5h1M129 39.5h1m41 0h1m8 0h1m12 0h1m16 0h1M148 40.5h1m50 0h1M144 41.5h1m15 0h1m2 0h1m37 0h1M128 42.5h1M97 43.5h1m7 0h1m53 0h1M71 44.5h1m36 0h1M127 45.5h1m42 0h1m20 0h1m4 0h1M79 46.5h1m3 0h1m35 0h1M12 47.5h2m2 0h2m63 0h1M156 48.5h1M123 49.5h1m7 0h1m21 0h1m29 0h1m3 0h1m5 0h1"/><path stroke="#a090b8" d="M26 0.5h1M38 1.5h1M19 3.5h1M37 16.5h1M132 26.5h1M121 28.5h1m91 0h1M168 31.5h1M161 32.5h1m18 0h1m17 0h1M165 41.5h1M180 47.5h1M147 48.5h1"/><path stroke="#c8a8b8" d="M29 0.5h1m20 0h1M32 1.5h1m25 0h1m123 0h1M23 3.5h1m146 0h1m13 0h1M60 4.5h1M84 5.5h1M15 6.5h1m44 0h1M35 7.5h1M52 8.5h1m27 0h1M41 9.5h1m33 0h1M35 10.5h1m61 0h1M13 11.5h1m76 0h1M18 12.5h1M83 14.5h1m17 0h1m89 0h1M50 15.5h1M28 16.5h1m83 0h1m91 0h1M70 18.5h1m120 0h1M17 19.5h1m19 0h1m25 0h1m99 0h1M18 20.5h1m102 0h1m63 0h1M62 21.5h1M18 22.5h1m4 0h1m9 0h1M44 23.5h1M31 24.5h1m21 0h1M163 25.5h1M168 26.5h1M118 32.5h1m44 0h1M125 33.5h1M83 34.5h1m7 0h1M137 35.5h1m70 0h1M118 36.5h1m53 0h1M160 37.5h1M41 38.5h1M178 39.5h1m15 0h1M131 40.5h1m48 0h1M127 41.5h1m55 0h1M120 44.5h1M203 45.5h1M115 46.5h1m19 0h1m60 0h1M145 48.5h1M201 49.5h1m11 0h1"/><path stroke="#b0a8c8" d="M32 0.5h1m4 0h2m12 0h1M90 2.5h1M26 3.5h1m18 0h1M25 5.5h1m21 0h1M80 6.5h1M49 7.5h1m15 0h1M12 9.5h1m6 0h1m44 0h1m44 0h1M56 10.5h1M50 13.5h1m27 0h1M26 14.5h1m10 0h1M33 15.5h1M25 16.5h1m6 0h1m7 0h2m54 0h1M100 18.5h1M103 19.5h1M69 20.5h1M46 21.5h1m30 0h1M39 23.5h1m6 0h1M47 24.5h1m16 0h1m15 0h1m12 0h1m3 0h1m7 0h1M189 25.5h1m3 0h1m11 0h1M136 26.5h1m15 0h1m14 0h1m16 0h1M142 28.5h1m18 0h1m37 0h1m6 0h1M124 31.5h1m14 0h2m36 0h1m20 0h1m4 0h1m11 0h1M115 32.5h1m9 0h1m18 0h1m7 0h1m1 0h1m1 0h1m1 0h1m5 0h1m18 0h1M121 33.5h1m33 0h1M141 34.5h1m26 0h1m19 0h1m22 0h1M198 35.5h1m10 0h1M171 37.5h1m11 0h1m14 0h1M141 38.5h1m13 0h1m2 0h1m17 0h1M117 39.5h1m17 0h1M198 40.5h1M136 41.5h1M158 42.5h1m12 0h1m17 0h1m22 0h1M121 43.5h1m1 0h1m22 0h1m37 0h1M131 44.5h1m1 0h1m17 0h1M160 46.5h1m48 0h1M133 47.5h1m32 0h1m4 0h1m28 0h1M122 48.5h1m2 0h1m24 0h1m20 0h1m7 0h1m1 0h1m16 0h1"/><path stroke="#c8b8c8" d="M35 0.5h1m3 0h1m23 0h1m2 0h1M12 1.5h1m11 0h1m23 0h1m1 0h2M60 2.5h1m10 0h1m16 0h1M17 3.5h1m30 0h1M5 4.5h1m13 0h1m65 0h1M22 5.5h1m21 0h1m24 0h1m3 0h2m32 0h1M50 6.5h1M16 7.5h1m20 0h1m3 0h1m20 0h1m39 0h1M14 8.5h1M11 9.5h1m1 0h2m10 0h1m51 0h1M38 10.5h1m14 0h1m11 0h1m7 0h1M12 11.5h1m3 0h1m8 0h1m11 0h1m31 0h1m16 0h1M45 12.5h1m3 0h1m8 0h1m10 0h1m18 0h1M14 13.5h1m10 0h1m6 0h1m43 0h1m14 0h1M32 14.5h1m1 0h1m4 0h1m1 0h1m26 0h2m32 0h1M18 15.5h2m6 0h1m5 0h1m7 0h1m6 0h1m25 0h1m1 0h1m7 0h1m4 0h1m9 0h1M68 16.5h1m2 0h1m4 0h1m9 0h1M3 17.5h1m6 0h1m12 0h1m11 0h1M11 18.5h1m11 0h1m22 0h1m11 0h1m38 0h2m2 0h1m1 0h1M4 19.5h1m20 0h1m79 0h1M5 20.5h1m9 0h1m20 0h1m11 0h2m5 0h1m8 0h1m13 0h1m6 0h2m13 0h1m4 0h1M23 21.5h1m55 0h1m27 0h1M25 22.5h1m4 0h1m17 0h1m1 0h1m16 0h1M23 23.5h1m24 0h1m14 0h1m22 0h1M41 24.5h1m47 0h1M119 25.5h1m35 0h2m24 0h1M131 26.5h1m5 0h1m3 0h1m36 0h1m1 0h1m14 0h1M123 27.5h2m19 0h1m7 0h1m16 0h1m15 0h1m14 0h1m9 0h1M158 28.5h1m13 0h1M132 29.5h1m5 0h1m1 0h1m15 0h1m21 0h1m20 0h1m3 0h1m7 0h1M178 31.5h1m14 0h2m4 0h1M55 32.5h1m118 0h1M171 33.5h1m9 0h1m6 0h1m2 0h1M145 34.5h1m26 0h1m32 0h1M152 35.5h1m41 0h1m4 0h1M5 36.5h1m116 0h1m5 0h1m8 0h1m21 0h1m4 0h1m16 0h1m4 0h1m6 0h1m5 0h1M112 37.5h1m5 0h1m24 0h1m6 0h1m10 0h1m5 0h1m21 0h1M157 38.5h1m14 0h1M113 39.5h1m7 0h1m10 0h1m32 0h1m25 0h1m6 0h1m4 0h1m10 0h1M117 40.5h1m1 0h1m18 0h1M128 41.5h1m35 0h1m1 0h1m33 0h1m4 0h1M133 42.5h1m25 0h1m12 0h1m13 0h1m18 0h1m2 0h1M119 43.5h1m9 0h1m13 0h1m22 0h1M118 44.5h1m19 0h1m29 0h1m46 0h1M114 45.5h1m14 0h1m11 0h1m12 0h1m22 0h1m9 0h1m1 0h2m10 0h1M116 46.5h1m40 0h1m22 0h1M139 47.5h1m35 0h1M124 48.5h1m18 0h1m13 0h1m47 0h1M155 49.5h1m15 0h1m9 0h1"/><path stroke="#c8b0c0" d="M36 0.5h1m8 0h1m11 0h1m18 0h1M39 1.5h1m15 0h1m4 0h1m27 0h1m4 0h1M16 2.5h2m8 0h1m2 0h1m28 0h1m28 0h1m9 0h1m3 0h1m1 0h1m1 0h1M40 3.5h1m10 0h1m4 0h1m22 0h1m21 0h1m4 0h1m2 0h1M16 4.5h1m9 0h1m11 0h1m19 0h1m17 0h1m12 0h1m6 0h1M20 5.5h1m72 0h1M24 6.5h1m1 0h1m13 0h1m6 0h1m25 0h1m14 0h1M12 7.5h3m4 0h1m1 0h1m14 0h1m6 0h1m4 0h1m17 0h1m1 0h1m25 0h1m14 0h1m69 0h1M39 8.5h1m21 0h1m46 0h1M30 9.5h1m3 0h1m16 0h1m3 0h1m6 0h1m31 0h1m5 0h1m5 0h1M25 10.5h1m20 0h1m1 0h1m44 0h2M36 11.5h1m11 0h1m4 0h1m1 0h1m12 0h1m23 0h1M24 12.5h1m7 0h1m6 0h1m11 0h1m18 0h1m3 0h1m14 0h1m3 0h1m9 0h1M17 13.5h1m4 0h2m39 0h2m9 0h1m20 0h1m4 0h2M16 14.5h1m32 0h1m3 0h2M12 15.5h1m40 0h1m11 0h1m12 0h1m18 0h1m4 0h1M27 16.5h1m8 0h1m15 0h1m28 0h1m23 0h1M40 17.5h1m1 0h1m11 0h1M14 18.5h1m7 0h1m11 0h2m5 0h1m10 0h1m3 0h1m8 0h1m20 0h1M18 19.5h1m2 0h1m2 0h1m21 0h1m25 0h1m12 0h2m12 0h1m8 0h1m1 0h1M35 20.5h1m6 0h1m27 0h1m22 0h1m3 0h1m70 0h1M25 21.5h1m55 0h1m11 0h1M21 22.5h1m10 0h1m32 0h1m23 0h3m14 0h1M18 23.5h1m1 0h1m10 0h1m39 0h1m12 0h1m11 0h1m1 0h1m6 0h2m3 0h1M29 24.5h1m72 0h1m62 0h1M130 25.5h1m16 0h1m11 0h1m4 0h1m9 0h1m27 0h1m5 0h1M130 26.5h1m32 0h1m19 0h1m4 0h2m14 0h1M127 27.5h1m22 0h1m15 0h1m9 0h1m26 0h1m2 0h1m6 0h1M90 28.5h1m36 0h1m1 0h1m2 0h1m45 0h1m24 0h1m6 0h1M121 29.5h2m2 0h1m58 0h1m4 0h2m10 0h1M45 31.5h1m118 0h1m4 0h1m22 0h1M210 32.5h1M118 33.5h1m25 0h1m17 0h1m5 0h1m11 0h1m8 0h1m13 0h1m1 0h1m4 0h1M164 34.5h1m9 0h1m27 0h1M119 35.5h1m13 0h1m14 0h1m12 0h1m35 0h1m4 0h1m1 0h1M127 36.5h1m64 0h1m4 0h1m4 0h1M138 37.5h1m31 0h1m9 0h1m18 0h1m9 0h1M135 38.5h1m9 0h1m3 0h1m6 0h1m16 0h1m25 0h1M133 39.5h1m12 0h2m18 0h1m18 0h1m1 0h2M174 40.5h1m10 0h1m11 0h1M118 41.5h1m16 0h1m5 0h1m20 0h1m10 0h1m25 0h1m11 0h1M127 42.5h1m3 0h1m16 0h1m8 0h1m10 0h1m14 0h1m8 0h1m1 0h3M138 43.5h1m1 0h1m6 0h1m3 0h1m10 0h1m7 0h1m15 0h1m23 0h1M142 44.5h1m52 0h1m6 0h1M120 45.5h1m9 0h1m1 0h1m35 0h1m4 0h1m10 0h2m27 0h1M124 46.5h1m3 0h1m2 0h1m16 0h1m7 0h1m35 0h1m1 0h1M91 47.5h1m30 0h1m69 0h1m8 0h1M116 48.5h1m19 0h1m21 0h1m10 0h1m2 0h1m19 0h1m1 0h1m1 0h1m4 0h1m1 0h1m6 0h1M114 49.5h1m6 0h1m16 0h1m1 0h1m11 0h1m17 0h1m33 0h1m1 0h1m2 0h1"/><path stroke="#c0b0c0" d="M40 0.5h1m1 0h3m14 0h2M62 1.5h1m12 0h1m2 0h1M25 2.5h1m13 0h1m2 0h1m14 0h1m5 0h1M14 3.5h1m6 0h1m16 0h1m23 0h1m14 0h1m2 0h1m24 0h1M78 4.5h2m20 0h1M38 5.5h1m9 0h1m34 0h1m16 0h1m9 0h1M84 6.5h1M78 7.5h1m14 0h1M49 9.5h1m13 0h1m9 0h1m17 0h1M39 10.5h2M14 11.5h1m12 0h1m3 0h1m6 0h2m3 0h1m21 0h1m4 0h1m7 0h1m12 0h1m16 0h1m1 0h1M65 12.5h1m15 0h1M18 13.5h2m10 0h1m11 0h1m23 0h1m18 0h1M11 14.5h1m7 0h1m54 0h1m22 0h1M38 15.5h1m3 0h1m11 0h1m3 0h1m11 0h1m8 0h1m25 0h1M16 16.5h1m6 0h1m32 0h1m7 0h1m1 0h2m1 0h1m3 0h1m3 0h1m9 0h1m18 0h1M76 17.5h1M78 18.5h1M15 19.5h1m16 0h1m19 0h1m53 0h1M13 20.5h1m6 0h1m46 0h1m3 0h1m24 0h1m11 0h1M13 21.5h1m22 0h1m16 0h2m20 0h2m3 0h1m4 0h1m19 0h1m4 0h1M27 22.5h1m12 0h2m21 0h1m4 0h2m11 0h1m17 0h1m21 0h1M29 23.5h1m6 0h1m63 0h1M37 24.5h1M134 25.5h1m2 0h1m35 0h1m17 0h1m7 0h1m6 0h1M126 26.5h1m18 0h1m3 0h1m1 0h1m9 0h2m1 0h2m15 0h1m32 0h1M114 27.5h1m63 0h1m15 0h1M141 28.5h1M126 29.5h1m34 0h1m15 0h1m3 0h1M127 31.5h1m8 0h1m8 0h1m34 0h1m15 0h1m11 0h1m4 0h1M123 32.5h1m24 0h1m4 0h1m12 0h1m5 0h1m41 0h1M177 33.5h1M85 34.5h1m111 0h2M117 35.5h1m20 0h1m14 0h1m22 0h1m3 0h2m18 0h1m5 0h1M117 36.5h1m2 0h1m32 0h1m41 0h1m5 0h1m7 0h1M114 37.5h1m24 0h2m5 0h1m1 0h1m7 0h1m8 0h1m15 0h1M113 38.5h1m28 0h1m4 0h1m38 0h1M114 39.5h1m11 0h1m46 0h1m16 0h1m10 0h1M125 40.5h1m11 0h1m28 0h1m3 0h1M142 41.5h1m5 0h1m10 0h1m19 0h1m1 0h1m10 0h1m5 0h1m5 0h1M117 42.5h1m27 0h1m29 0h1m33 0h1M113 43.5h1m49 0h1M114 44.5h1m17 0h1m20 0h1m28 0h2m10 0h1m13 0h1M117 45.5h1m34 0h1M122 46.5h1m19 0h1m11 0h1m11 0h1m15 0h1m25 0h1M169 47.5h1m8 0h1M173 48.5h1m6 0h1M144 49.5h1m58 0h1m4 0h1"/><path stroke="#d8b8c0" d="M46 0.5h1M14 2.5h1m20 0h1m72 0h1M31 3.5h1M25 4.5h1m139 0h1M32 5.5h1M17 6.5h1m57 0h1M55 7.5h1m36 0h1m17 0h1M16 8.5h1m15 0h1m50 0h1m21 0h1M17 9.5h1m54 0h1M91 12.5h1M53 13.5h1m49 0h1M18 14.5h1m88 0h1M22 15.5h1m25 0h1m72 0h1M75 17.5h1M48 18.5h1m23 0h1M35 19.5h1M113 21.5h1M185 23.5h1M12 27.5h2M146 29.5h1m27 0h1M33 31.5h1M25 32.5h1M135 33.5h2m22 0h1M100 34.5h1M215 35.5h1M168 36.5h1M157 37.5h1m39 0h1M107 38.5h1M119 39.5h1m63 0h1M140 41.5h1M139 42.5h1M104 44.5h1M146 45.5h1M42 47.5h1M118 48.5h1m59 0h1m9 0h1M150 49.5h1m5 0h1m10 0h1"/><path stroke="#c0a8c0" d="M47 0.5h1M26 1.5h1m39 0h1m3 0h1m34 0h1m2 0h1M93 2.5h1M59 4.5h1M12 5.5h1m95 0h1M77 6.5h1m25 0h1M81 9.5h1m1 0h1m13 0h1M18 10.5h1m7 0h1m4 0h1m18 0h1m6 0h1m13 0h2m26 0h2m8 0h1M47 11.5h1m25 0h1m31 0h1M26 13.5h1m28 0h1M12 14.5h1m67 0h1M25 15.5h1m55 0h1m3 0h1M17 16.5h1m74 0h1m15 0h1m1 0h1M19 17.5h1m10 0h1m40 0h1M44 18.5h1m15 0h1M42 19.5h1m1 0h1m62 0h1M11 20.5h1m80 0h1M65 21.5h1m4 0h1m17 0h1m8 0h1M46 22.5h1m13 0h1m10 0h1m22 0h1M24 23.5h1m9 0h1m26 0h1M27 24.5h1m32 0h1m38 0h1m8 0h1M136 25.5h1m51 0h1M125 26.5h1m27 0h2m14 0h1m43 0h1M131 27.5h1m2 0h1m4 0h1m15 0h1m43 0h1m1 0h1M163 28.5h2m43 0h1M112 29.5h1m42 0h1m53 0h1M131 31.5h1m22 0h1m46 0h1m4 0h1M126 32.5h1m18 0h1M117 33.5h1m54 0h1m3 0h1m15 0h2M105 34.5h1m86 0h1M123 35.5h2m18 0h1m22 0h1M134 36.5h1m19 0h1m19 0h1M145 37.5h1m3 0h1m34 0h1m15 0h1M128 38.5h1m1 0h1m44 0h1m12 0h1M154 39.5h1M128 40.5h1M153 41.5h1M112 42.5h1m16 0h1m43 0h1m23 0h1m2 0h1M126 43.5h1m26 0h1m23 0h1M125 44.5h1m72 0h1m15 0h1M155 45.5h1m4 0h1m38 0h1m12 0h1M146 46.5h1m56 0h1m8 0h1M142 47.5h1m33 0h1M191 48.5h1"/><path stroke="#a098c0" d="M48 0.5h1M61 2.5h1M15 13.5h1m29 0h1m33 0h1M49 16.5h1m29 0h1M61 19.5h1M33 21.5h1M19 23.5h1m34 0h1M86 24.5h1m7 0h1M112 25.5h1m31 0h1m26 0h1M134 26.5h1M145 27.5h1m27 0h1M128 28.5h1M161 31.5h1m22 0h1m24 0h1M113 32.5h1m25 0h1m19 0h1m15 0h1m11 0h1m4 0h1m14 0h1m1 0h1M132 34.5h1m10 0h1m23 0h1m26 0h1m14 0h1m5 0h1M165 38.5h2M158 43.5h1M160 44.5h1M137 47.5h1m30 0h1m8 0h1m31 0h1"/><path stroke="#c8b0b8" d="M49 0.5h1M67 1.5h1m29 0h1m102 0h1M13 2.5h1m8 0h1m7 0h1m2 0h1m60 0h1m4 0h1m65 0h1m24 0h1M28 3.5h1m46 0h1m114 0h1m18 0h1M29 4.5h1m13 0h1m5 0h1m16 0h1m7 0h1m24 0h1m1 0h1M52 5.5h1m22 0h1M14 6.5h1m19 0h1m4 0h1m1 0h1m28 0h1m15 0h1m7 0h1m1 0h2m1 0h1m6 0h1M17 7.5h1m16 0h1m26 0h1m2 0h1m9 0h1M17 8.5h1m64 0h1m24 0h1M40 9.5h1m20 0h1m151 0h1M15 10.5h1m7 0h1m6 0h1m2 0h1m9 0h1m3 0h1M11 11.5h1m12 0h1m4 0h1m21 0h1m45 0h1M16 12.5h1m10 0h1m2 0h1m22 0h1m14 0h1M27 13.5h1m24 0h1m7 0h2m5 0h1m5 0h1M29 14.5h1m1 0h1m1 0h1m8 0h1m14 0h1m32 0h1M27 15.5h1m9 0h1m3 0h1m9 0h1M43 16.5h1m13 0h1m64 0h1m30 0h1M18 17.5h1m59 0h1M53 18.5h1m27 0h1m20 0h1M41 19.5h1m8 0h1m3 0h1m2 0h1m15 0h1m16 0h1m10 0h1M81 20.5h1m79 0h1m5 0h1M34 21.5h1m6 0h1m10 0h1m21 0h1m26 0h2m3 0h1M101 22.5h1m2 0h1m107 0h1M28 23.5h1m30 0h1m19 0h1m1 0h1m76 0h1m18 0h1m13 0h1M48 24.5h1m21 0h1m116 0h1M210 25.5h1M175 26.5h1m31 0h1M157 27.5h1m1 0h1m36 0h1m18 0h1M65 28.5h1m124 0h1M116 29.5h1m34 0h1m20 0h1m41 0h1M166 31.5h1M15 32.5h1M130 33.5h1m15 0h1m57 0h1M14 34.5h1m12 0h1m158 0h1M121 35.5h1m9 0h1m71 0h1M114 36.5h1m27 0h1m4 0h2M178 37.5h2m34 0h1M203 38.5h1M139 39.5h1m32 0h1m16 0h1M146 40.5h1m13 0h1m43 0h1m8 0h1M116 41.5h1m2 0h1m6 0h1m22 0h1M142 43.5h1m28 0h1m25 0h1M77 44.5h1m62 0h2m21 0h1m6 0h1m26 0h1m12 0h1M131 45.5h1m1 0h1m28 0h1m29 0h1m7 0h1M114 46.5h1m12 0h1m47 0h1m10 0h1m13 0h1M136 47.5h1M115 48.5h1m38 0h1m42 0h1m4 0h1M126 49.5h1m3 0h1m3 0h1m7 0h1m32 0h1m18 0h1"/><path stroke="#a898c0" d="M54 0.5h1M20 2.5h1m17 0h1M69 10.5h1M19 24.5h1M117 25.5h1m2 0h1m24 0h1M167 27.5h1M113 31.5h1m12 0h1m43 0h1m15 0h1M165 32.5h1M138 34.5h1m14 0h1M190 35.5h1M173 37.5h1m22 0h1M133 38.5h1m72 0h1M112 41.5h1M146 42.5h1m32 0h1M191 44.5h1M165 45.5h1M121 46.5h1M132 47.5h1m8 0h1m48 0h1M134 48.5h1m7 0h1"/><path stroke="#b8a8b8" d="M56 0.5h1m18 0h1m2 0h1M43 2.5h1m4 0h1m24 0h1m17 0h1M50 3.5h1M121 4.5h1M18 5.5h1m16 0h1m19 0h1M18 7.5h1m37 0h1M30 8.5h1m16 0h1M15 9.5h2M22 10.5h1m41 0h1m10 0h1M80 12.5h1m9 0h1m17 0h1M38 14.5h1M56 15.5h1m19 0h1M38 16.5h2m22 0h1m60 0h1M58 17.5h1M78 19.5h1M40 20.5h1m6 0h1m25 0h1M83 21.5h1m15 0h1M74 22.5h1m17 0h1M78 23.5h1m18 0h1M26 24.5h1m65 0h1M167 25.5h1m36 0h1M180 27.5h1M195 28.5h1M204 32.5h1M114 33.5h1m97 0h1M154 34.5h1m8 0h1M164 35.5h1m8 0h1m8 0h1m10 0h1M203 36.5h1M210 38.5h1M141 40.5h1m12 0h1m35 0h1M155 41.5h1m20 0h1M187 42.5h1M116 43.5h2m36 0h1m49 0h1M135 45.5h1M181 46.5h1M175 48.5h1"/><path stroke="#c0a8b8" d="M62 0.5h1m6 0h1M33 1.5h1m34 0h1m5 0h1m6 0h1m108 0h1M21 2.5h1m2 0h1m41 0h2m4 0h1m2 0h1m5 0h1m10 0h1m3 0h1m1 0h1M25 3.5h1m10 0h1m51 0h1M20 4.5h1m9 0h1m22 0h1m9 0h2m16 0h1m2 0h1M37 5.5h1m3 0h1M13 6.5h1m5 0h1m10 0h1m1 0h1M26 7.5h1m4 0h1m96 0h1M21 9.5h1m6 0h1m8 0h1m14 0h1m23 0h1m12 0h1m87 0h1M32 10.5h1m21 0h1m25 0h1m4 0h2m19 0h1M19 11.5h1m10 0h1m13 0h1m32 0h1m5 0h2m21 0h1m69 0h1M12 12.5h1m18 0h1m9 0h1m6 0h1m22 0h1m20 0h1m1 0h1M12 13.5h1m8 0h1m7 0h1m18 0h1m10 0h1m17 0h1m3 0h1m1 0h1m25 0h1M40 14.5h1m11 0h1m5 0h1m2 0h1m32 0h1m3 0h1M20 15.5h1m24 0h2m17 0h1m25 0h1m1 0h1M47 16.5h1m5 0h1m29 0h2m9 0h1m41 0h1M39 17.5h1m28 0h1m5 0h1M20 18.5h1m10 0h1m5 0h1m5 0h1m66 0h1M16 19.5h1m26 0h1m15 0h1m14 0h1m14 0h1M21 20.5h1m1 0h1m33 0h1m4 0h1m20 0h1m25 0h1M24 21.5h1m6 0h1m8 0h1m3 0h1M44 22.5h1m9 0h1m20 0h1m17 0h1m2 0h1M17 23.5h1m25 0h1m33 0h1m14 0h1m1 0h1m114 0h1M21 24.5h1m18 0h1m10 0h1m29 0h1M143 25.5h1m22 0h1m18 0h1m14 0h1M116 26.5h1m40 0h1m1 0h1m27 0h1m8 0h1M172 27.5h1M119 28.5h1m35 0h1m26 0h1m17 0h1m4 0h1M134 29.5h1m1 0h1m17 0h1m2 0h2m11 0h2m8 0h1m13 0h1M210 31.5h1M19 32.5h1m117 0h1M112 33.5h1m9 0h2m17 0h1m56 0h1m2 0h1m7 0h1M37 34.5h1m95 0h1m32 0h1M112 35.5h1m3 0h1m10 0h1m7 0h2m2 0h2m5 0h2m19 0h1m10 0h1m12 0h1m19 0h1M113 36.5h1m31 0h1m5 0h1m33 0h1m29 0h1M175 37.5h1m25 0h1m5 0h1M91 38.5h1m27 0h1m85 0h1M127 39.5h1m6 0h1m2 0h1m32 0h1m3 0h1m29 0h1m2 0h1M152 40.5h1m15 0h2m2 0h1m13 0h1M130 41.5h1m1 0h1m13 0h1m21 0h1m16 0h1m1 0h1m1 0h1m3 0h1M115 42.5h1m6 0h1m30 0h1m7 0h1m5 0h1m2 0h1m17 0h1M114 43.5h2m14 0h1m37 0h1m10 0h1m22 0h1M115 44.5h1M148 45.5h1m2 0h1m9 0h1m13 0h1m18 0h2M129 46.5h1m13 0h1m5 0h1m8 0h2m25 0h1m18 0h1m6 0h1M129 47.5h1M141 48.5h1m41 0h1m16 0h1m7 0h1M127 49.5h1m4 0h1m26 0h1m2 0h1"/><path stroke="#b8b0d0" d="M64 0.5h1M5 1.5h1m58 0h1m14 0h1M44 2.5h1m29 0h1M8 4.5h2M46 7.5h1M9 9.5h1m32 0h1m4 0h1m44 0h1M2 11.5h1M8 12.5h1M0 13.5h1m92 0h1M21 16.5h1M5 18.5h1M2 19.5h1m6 0h1m9 0h1M48 21.5h1M8 23.5h1M2 24.5h1M123 25.5h1m56 0h1m13 0h1M164 27.5h1M120 28.5h1m36 0h1m21 0h1M171 31.5h1M120 32.5h1m79 0h1m1 0h1M190 36.5h1M129 40.5h1m57 0h1M123 41.5h1m28 0h1m4 0h1M134 42.5h1m25 0h1M149 43.5h1M188 44.5h1m16 0h1M198 46.5h1M179 47.5h1m15 0h1m6 0h1m2 0h1M132 48.5h1m16 0h1"/><path stroke="#d0b8c0" d="M65 0.5h1M30 1.5h1m55 0h1m2 0h1m4 0h1m3 0h1m4 0h1m5 0h1M18 2.5h1m9 0h1m2 0h2m1 0h1m1 0h1m72 0h1M15 3.5h1m65 0h1m2 0h1m5 0h1m78 0h1m30 0h1M13 4.5h1m17 0h1m10 0h1m11 0h1m6 0h1m33 0h1m2 0h1m5 0h1m3 0h1M24 5.5h1m2 0h1m14 0h1m42 0h1m16 0h1m1 0h1m56 0h1M66 6.5h1m2 0h1m11 0h1M63 7.5h1M56 8.5h1m8 0h2m4 0h1m5 0h1m17 0h2m13 0h1M24 9.5h1m2 0h1m8 0h1m6 0h1m10 0h1m11 0h1m37 0h1m26 0h1M58 10.5h1m42 0h1M40 11.5h1m11 0h1m23 0h1m23 0h1m1 0h1m6 0h1M19 12.5h1m2 0h1m6 0h1m27 0h1m15 0h1m36 0h1M41 13.5h1m1 0h1m7 0h1m16 0h1m2 0h2m2 0h1m10 0h1m15 0h1m1 0h1M17 14.5h1m27 0h1m53 0h1m85 0h1M11 15.5h1m17 0h1m25 0h1m21 0h1m22 0h1m8 0h1m101 0h1M35 16.5h1m24 0h1m38 0h1m1 0h1m7 0h1m97 0h1M38 17.5h1m5 0h1m11 0h1M17 18.5h2m13 0h1m21 0h1m19 0h1m9 0h1m9 0h1M22 19.5h1m33 0h1m34 0h1m20 0h1M38 20.5h1m13 0h1m13 0h1m5 0h1m15 0h1M27 21.5h1m1 0h1m9 0h1m54 0h1M42 22.5h1m19 0h1M30 23.5h1m20 0h1m52 0h1m54 0h1m30 0h1M24 24.5h1m5 0h1m53 0h1m2 0h2M64 25.5h1m132 0h1M113 26.5h1m29 0h1m2 0h1m45 0h1M117 27.5h2m6 0h1M186 28.5h1M113 29.5h1m9 0h1m18 0h1m16 0h1m9 0h1m16 0h1m4 0h1m3 0h1m2 0h1M96 31.5h1m75 0h1M86 32.5h1M119 33.5h2m8 0h1m3 0h2m23 0h1m7 0h1m30 0h1m4 0h1m5 0h1m6 0h1M38 34.5h1m69 0h1M128 35.5h1m22 0h1m5 0h1m1 0h1m54 0h1M94 36.5h1m40 0h2m6 0h1M124 37.5h1m61 0h1m4 0h1m3 0h1m9 0h1M38 38.5h1m16 0h1m67 0h1m3 0h1m35 0h1m33 0h1M131 39.5h1m27 0h1m37 0h1M115 40.5h1m7 0h1m6 0h1m2 0h1M7 41.5h1m131 0h1m5 0h1m15 0h1m12 0h1M142 42.5h1m55 0h1m14 0h1M205 43.5h1M139 44.5h1m26 0h1m4 0h1M112 45.5h1m10 0h1m2 0h1m9 0h1m16 0h1m53 0h1M118 46.5h1m36 0h1m13 0h1m6 0h1m13 0h1m14 0h1M60 47.5h1m8 0h1M113 49.5h1m23 0h1m5 0h1m44 0h1"/><path stroke="#b0a8d0" d="M71 0.5h1M6 2.5h1m1 0h1M0 6.5h2m3 0h1M10 9.5h1M10 16.5h1M5 24.5h1M114 26.5h1m91 0h1M182 31.5h1M189 32.5h1M134 34.5h1m46 0h1M200 39.5h1M212 43.5h1M157 44.5h1m49 0h1M193 45.5h1M113 47.5h1m4 0h1m31 0h1M160 48.5h1"/><path stroke="#a8a8c8" d="M77 0.5h1M19 2.5h1M3 6.5h1M115 25.5h1m49 0h1M165 28.5h1M153 31.5h1m6 0h1M170 32.5h1M177 34.5h1m36 0h1M131 36.5h1M117 38.5h1m8 0h1M193 42.5h1M152 47.5h1"/><path stroke="#b098b0" d="M79 0.5h1M47 1.5h1M37 3.5h1m9 0h1m39 0h1M20 9.5h1m44 0h1M12 16.5h1M44 20.5h1M90 21.5h1M22 22.5h1M118 25.5h1M121 26.5h1M154 28.5h1m26 0h1M116 34.5h1m54 0h1M171 35.5h1M144 36.5h1M196 40.5h1M175 41.5h1M175 43.5h1M149 45.5h1M187 46.5h1"/><path stroke="#e09880" d="M80 0.5h1m7 0h1m7 0h1M128 5.5h1m30 0h1m2 0h1m11 0h1m24 0h1M137 6.5h1m45 0h1m8 0h1M125 7.5h1m37 0h1m8 0h1M124 8.5h1m13 0h1m1 0h1m18 0h1m9 0h1m15 0h1m19 0h1M189 9.5h1M145 10.5h1M119 12.5h1m60 0h1m33 0h1M135 14.5h1M113 15.5h1M80 17.5h1m8 0h1m12 0h1m66 0h1m1 0h1m16 0h1m7 0h1m3 0h1m4 0h1m2 0h1m4 0h1M143 22.5h1M28 25.5h1M28 27.5h1m53 0h1M11 29.5h1m4 0h1m44 0h1m11 0h2m4 0h1m27 0h1M61 33.5h1m10 0h1M82 35.5h1M53 37.5h1M51 39.5h1m11 0h1M57 40.5h1m25 0h1M57 45.5h1M24 46.5h1m6 0h1m76 0h1m1 0h1M35 48.5h1m19 0h1M15 49.5h1m32 0h1m14 0h1m4 0h1m3 0h1m20 0h1m7 0h1"/><path stroke="#e0b0a0" d="M81 0.5h1m89 0h1m18 0h1m9 0h1M140 1.5h1m5 0h1M180 2.5h1m24 0h1M147 3.5h1m62 0h1M186 4.5h1m2 0h1m24 0h1M135 5.5h1m2 0h1m32 0h1M128 6.5h1m19 0h1m26 0h1m9 0h1m9 0h1m12 0h1m1 0h1m4 0h1M157 7.5h1m1 0h1m45 0h1M29 8.5h1m67 0h1m52 0h1m22 0h1m3 0h1m33 0h1M133 9.5h1M137 11.5h1m41 0h1m8 0h1M123 12.5h1m3 0h1m2 0h1m3 0h1m2 0h1m13 0h1m10 0h1m9 0h1M170 13.5h1m12 0h1M133 14.5h1m27 0h1M158 15.5h1m25 0h1M114 18.5h2m40 0h1m4 0h1m35 0h1m2 0h1M215 19.5h1M135 21.5h1M113 22.5h1m58 0h1m10 0h2m4 0h1M127 23.5h1m66 0h2M164 24.5h1m45 0h1m4 0h1M20 25.5h1m2 0h1m15 0h1m3 0h1m14 0h1m8 0h1m9 0h1m2 0h1m3 0h1m11 0h1m1 0h1M12 26.5h1m2 0h1m9 0h1m3 0h1m20 0h1m9 0h2m17 0h1m27 0h1M34 27.5h1m8 0h1m23 0h1m5 0h1m14 0h1M42 28.5h1m26 0h1m31 0h1M13 29.5h1m73 0h1m3 0h1M21 31.5h1m10 0h1m17 0h1m12 0h1m23 0h1m4 0h1M3 32.5h1m9 0h1m40 0h1m33 0h1M4 33.5h1m8 0h1m18 0h1m44 0h1m1 0h2m12 0h2m1 0h1m1 0h1m1 0h1M33 34.5h1M14 35.5h1m1 0h1m21 0h1m22 0h1m8 0h1m24 0h1m8 0h1M13 36.5h1m12 0h1m5 0h1m63 0h1m6 0h1M21 37.5h1m6 0h1m8 0h1m20 0h1m4 0h1m2 0h1m1 0h1m7 0h1m4 0h1m10 0h1m11 0h1M1 38.5h1m19 0h1m1 0h1m8 0h1m24 0h1m9 0h1m35 0h1M28 39.5h1m8 0h1m8 0h1m10 0h1m2 0h1m1 0h1m17 0h1m26 0h1M15 40.5h1m14 0h1m8 0h1m1 0h1m16 0h1m11 0h2m3 0h1m26 0h1m5 0h1M14 41.5h1m3 0h1m19 0h1m21 0h1m15 0h2m3 0h1m20 0h1M14 42.5h1m5 0h1m15 0h1m2 0h1m3 0h1m4 0h1m9 0h1m1 0h1m15 0h1m24 0h1M36 43.5h2m8 0h1m4 0h1m47 0h1M15 44.5h1m33 0h3m11 0h2m2 0h1m1 0h1m16 0h1m7 0h1m10 0h2M19 45.5h1m6 0h1m5 0h1m7 0h1m6 0h1m40 0h1M19 46.5h1m15 0h1m6 0h1m7 0h1m5 0h1m1 0h2m1 0h1m16 0h1m11 0h1m7 0h1m4 0h1M21 47.5h1m13 0h1m25 0h1m3 0h2m5 0h1m13 0h1m14 0h1M13 48.5h1m51 0h1m13 0h1m6 0h1m14 0h1m3 0h1M13 49.5h1m18 0h1m1 0h1m56 0h1m30 0h1"/><path stroke="#e8b098" d="M82 0.5h1m86 0h1m10 0h1m5 0h1M116 4.5h1m74 0h1M113 8.5h1M155 14.5h1M97 17.5h1M114 22.5h1M154 24.5h1M36 25.5h1m38 0h1m31 0h1M75 26.5h1M72 27.5h1m2 0h1m21 0h1m7 0h1M7 28.5h1m19 0h1m27 0h1M21 29.5h1m38 0h1M3 31.5h1M3 33.5h1m46 0h1m22 0h1M22 35.5h2m36 0h1m4 0h1m6 0h1M28 36.5h1m48 0h2M40 37.5h1M21 39.5h1m33 0h1M65 40.5h1M95 41.5h1m10 0h1M11 43.5h1m2 0h1M30 44.5h1m35 0h1m23 0h1m4 0h1M14 45.5h1m27 0h1m49 0h1m10 0h1m4 0h1M24 48.5h1m44 0h1m34 0h1M1 49.5h1"/><path stroke="#e0a090" d="M83 0.5h1m13 0h1m3 0h2m111 0h1M129 1.5h1m20 0h1M149 2.5h1M170 4.5h1m3 0h2M123 5.5h1m65 0h1M188 6.5h1m9 0h1m14 0h1M116 7.5h1m86 0h1M143 8.5h1M144 9.5h1M154 10.5h1M136 11.5h1m59 0h1M139 12.5h1m43 0h1m3 0h1M127 15.5h1m11 0h1M124 16.5h1M99 17.5h1m10 0h1m88 0h1M131 18.5h1M192 19.5h1M133 22.5h1m67 0h1m11 0h1M199 23.5h1M123 24.5h1m18 0h1m32 0h1M29 25.5h1m32 0h1m37 0h1m3 0h1M99 26.5h1M84 27.5h1m16 0h1M56 28.5h1M20 29.5h1m14 0h1m15 0h1m2 0h1M62 32.5h1M29 33.5h1m6 0h1m16 0h1m2 0h1m3 0h1m1 0h1m12 0h1m11 0h1M28 35.5h2m11 0h1m15 0h1m33 0h1M15 36.5h1m11 0h1m5 0h1m4 0h1M27 37.5h1m16 0h1m40 0h1m3 0h1m11 0h1M45 39.5h1m30 0h1M11 40.5h1m40 0h1M41 41.5h1m19 0h1M24 42.5h1m2 0h2M107 43.5h1M60 44.5h1m14 0h1m23 0h1M13 45.5h1m4 0h1m27 0h1M95 46.5h1M93 47.5h1M28 48.5h1m23 0h1M57 49.5h1m1 0h1m30 0h1"/><path stroke="#d8a088" d="M84 0.5h1M153 4.5h1M195 5.5h1M125 6.5h1m12 0h1M209 7.5h1M187 8.5h1m11 0h1M151 9.5h1M144 12.5h1m10 0h1M129 14.5h1M186 17.5h1M135 19.5h1M151 23.5h1M172 24.5h1M87 27.5h1M24 29.5h1m44 0h1M18 35.5h1M51 36.5h1m14 0h1M18 37.5h1m63 0h1M66 38.5h1M27 41.5h1M59 43.5h1M28 44.5h1M34 45.5h1m36 0h1m3 0h1M30 46.5h1"/><path stroke="#e0b0a8" d="M85 0.5h1M145 1.5h1M162 2.5h1m21 0h1M149 3.5h1m5 0h1m23 0h1m12 0h1M151 4.5h1m3 0h1m17 0h1M134 5.5h1m38 0h1m5 0h1M144 6.5h1M133 7.5h1m14 0h2m36 0h1m19 0h1M93 8.5h1m97 0h1m1 0h1M156 10.5h1M203 11.5h1m8 0h1M95 12.5h1m54 0h1m18 0h1m18 0h1M146 14.5h1m17 0h1m2 0h1m31 0h1M101 15.5h1m55 0h1m22 0h1m28 0h1M190 16.5h1M130 18.5h1m53 0h1M122 19.5h1m28 0h1m1 0h1m4 0h1m34 0h1m11 0h1M175 21.5h1m15 0h1M140 22.5h1m11 0h1m3 0h1m50 0h1M173 23.5h1M121 24.5h1M3 25.5h1m36 0h1m1 0h1M19 26.5h1m8 0h1m9 0h1m32 0h1m14 0h1m15 0h1M19 27.5h1m24 0h1m3 0h1m29 0h1M82 28.5h1m3 0h1M94 29.5h1m7 0h1M5 31.5h1m24 0h1m5 0h1m41 0h1m14 0h1m7 0h1m4 0h1M46 32.5h1m10 0h1m14 0h1m26 0h1M55 33.5h1m52 0h1M36 34.5h1m42 0h1m14 0h1M42 35.5h1m37 0h1m26 0h1M25 36.5h1m43 0h1m9 0h1m12 0h1m15 0h1M54 37.5h1m10 0h1m4 0h1m26 0h1m10 0h2M35 38.5h1m28 0h1M26 39.5h1m11 0h1m59 0h1M29 40.5h1m59 0h1m2 0h1M34 41.5h1m39 0h1m8 0h1m17 0h1M55 42.5h2m17 0h1m24 0h1M57 43.5h1m15 0h1M55 44.5h1m51 0h1m2 0h1M76 45.5h1m28 0h1M15 46.5h1m36 0h1m40 0h1m11 0h2M11 47.5h1m85 0h1m12 0h1M22 48.5h1m20 0h3m7 0h1m4 0h1m26 0h1m5 0h1m11 0h1m5 0h1M26 49.5h1m78 0h1"/><path stroke="#e8b8a8" d="M86 0.5h1m3 0h1M210 2.5h1M126 5.5h1M184 6.5h1M178 7.5h1M130 9.5h1m79 0h1M129 11.5h2M134 13.5h1M119 16.5h1M152 20.5h1M124 21.5h1M154 22.5h1M3 26.5h1M1 27.5h1m5 0h1m47 0h1M65 29.5h1M7 32.5h1m95 0h1M5 33.5h1m9 0h1m79 0h1M3 34.5h2m2 0h1m2 0h1M1 35.5h1m46 0h1M73 36.5h1m19 0h1m4 0h1m3 0h1M51 37.5h1m8 0h1m18 0h1m15 0h1M3 38.5h1m1 0h1M67 39.5h1M5 40.5h1m4 0h1m98 0h1M59 41.5h1M39 43.5h1m64 0h1M1 44.5h1m44 0h1m26 0h1M91 45.5h1M96 46.5h1m3 0h1M74 47.5h1M61 48.5h1m12 0h1M4 49.5h1m44 0h1"/><path stroke="#e8a088" d="M87 0.5h1M127 1.5h1M163 5.5h1M84 17.5h2M17 27.5h1M57 33.5h1m10 0h1M34 36.5h1m28 0h1M103 37.5h1M41 39.5h1m31 0h1M24 41.5h1m29 0h1m7 0h1M29 46.5h1M22 49.5h1m1 0h1"/><path stroke="#e0a8a0" d="M89 0.5h1m2 0h1M133 4.5h1M126 6.5h1m6 0h1m7 0h2m29 0h1M145 7.5h1m46 0h1M206 8.5h1M141 10.5h1M144 11.5h1M148 12.5h1M123 14.5h1m50 0h1M132 16.5h1m78 0h1M169 18.5h1M124 19.5h1M120 22.5h1m34 0h1M128 24.5h1M53 25.5h1m9 0h1m26 0h1M44 26.5h1m32 0h1m28 0h1M35 27.5h1m11 0h1M30 29.5h1m26 0h1M110 31.5h1M44 33.5h1M11 34.5h1m22 0h1m15 0h1m23 0h1m2 0h1m28 0h1M60 36.5h1M77 37.5h1m21 0h1M80 38.5h1M20 39.5h1m4 0h1m64 0h1M17 40.5h1m16 0h1m28 0h1m12 0h1M98 41.5h1M46 42.5h1m45 0h1M79 43.5h1M20 44.5h1m16 0h1m7 0h1M39 46.5h1m3 0h1m26 0h1M15 48.5h1m61 0h1m16 0h1m2 0h1"/><path stroke="#e0a898" d="M91 0.5h1m7 0h1M163 1.5h1m21 0h1m22 0h1M114 2.5h1M143 3.5h1m30 0h1m11 0h2M118 4.5h1m50 0h1m27 0h1m6 0h1m5 0h1M120 5.5h1m8 0h1m16 0h1m3 0h1m2 0h1m1 0h1m25 0h1m1 0h1m18 0h1M122 6.5h1m74 0h1M115 7.5h1m3 0h1m6 0h1m29 0h1M103 8.5h1m75 0h2m22 0h1m3 0h1M128 9.5h1M122 10.5h1m10 0h1m12 0h1m11 0h1M140 11.5h1m4 0h1m5 0h1m4 0h1m1 0h1m52 0h1M133 12.5h1m1 0h1m6 0h1m16 0h1m37 0h1M113 13.5h1m3 0h1m27 0h1M147 14.5h1m14 0h2M116 16.5h1m23 0h1m5 0h1m27 0h1M190 17.5h1M112 18.5h1m20 0h1m11 0h1m14 0h1m3 0h1m6 0h1M195 19.5h1m1 0h1m5 0h1M118 20.5h1m5 0h1m9 0h1m6 0h1m55 0h1m9 0h1M130 21.5h1m16 0h1m37 0h1M135 22.5h1m31 0h1m1 0h1m15 0h1m19 0h1M116 23.5h1m7 0h1m3 0h1m43 0h1m19 0h1m8 0h1M116 24.5h1m57 0h1M34 25.5h1m13 0h1m10 0h1m41 0h1M36 26.5h1m36 0h1m8 0h2m25 0h1M16 27.5h1m4 0h1m2 0h1m4 0h1m30 0h1m1 0h1m1 0h1m14 0h1M11 28.5h1m17 0h1m53 0h1M33 29.5h1m4 0h1m25 0h1m2 0h1m22 0h1m9 0h1M40 31.5h1m33 0h1m1 0h1m22 0h1M102 32.5h1M17 33.5h1m13 0h1m5 0h1m11 0h1m1 0h1m15 0h1m35 0h1M29 34.5h1m1 0h1m27 0h1M35 35.5h1m4 0h1m22 0h1m2 0h1m2 0h1m22 0h1m13 0h1M14 36.5h1m5 0h1m1 0h1m23 0h1m20 0h1m2 0h1m3 0h1m14 0h2m10 0h1m2 0h1m2 0h1M57 37.5h1m48 0h2M14 38.5h1m14 0h2m41 0h1m9 0h1m7 0h1M16 39.5h1m2 0h1m11 0h1m8 0h1m20 0h1m13 0h1m10 0h1m13 0h1M31 40.5h1m4 0h1m5 0h1m42 0h1m4 0h1m15 0h1M11 41.5h1m10 0h1m19 0h1m2 0h2m4 0h1m16 0h1m4 0h1m5 0h1m2 0h1m4 0h1m2 0h1m8 0h1M30 42.5h1m11 0h1m8 0h1m11 0h1m21 0h1m1 0h1m6 0h2M25 43.5h1m9 0h1m9 0h1m36 0h1m3 0h2m15 0h1M58 44.5h1m11 0h1m18 0h1M29 45.5h2m13 0h1m3 0h1m3 0h1m3 0h1m6 0h2m8 0h1m10 0h1m2 0h1m2 0h1m4 0h1m1 0h1m3 0h1m7 0h1M12 46.5h1m21 0h1m2 0h1m3 0h1m11 0h2m12 0h2m6 0h1M20 47.5h1m22 0h1m36 0h1m6 0h1m21 0h1M30 48.5h1m17 0h1m19 0h1m1 0h1m7 0h1m16 0h1m10 0h2m2 0h1M19 49.5h1m7 0h1m2 0h1m13 0h2m7 0h1m23 0h1m25 0h1"/><path stroke="#e8a890" d="M93 0.5h1m12 0h1m1 0h1M162 6.5h1m26 0h1M158 7.5h1M162 8.5h1M129 12.5h1m34 0h1M197 14.5h1M214 15.5h1M87 17.5h1m8 0h1m6 0h1m69 0h1M118 18.5h1M146 22.5h1M32 25.5h1M94 26.5h1M27 27.5h1m22 0h1m17 0h1M14 29.5h1m8 0h1m1 0h1m14 0h1m14 0h1m39 0h1M72 31.5h1M16 33.5h1m4 0h1m8 0h1m27 0h1m50 0h1M50 35.5h1m27 0h1M36 37.5h1m11 0h1m38 0h1M15 39.5h1m1 0h1m85 0h1M30 41.5h1m55 0h1M23 43.5h1M16 45.5h1m53 0h1m1 0h1m9 0h1M36 46.5h1M23 48.5h1m22 0h1M29 49.5h1m7 0h1m41 0h1m1 0h1"/><path stroke="#e0b8a8" d="M94 0.5h1m9 0h1M119 3.5h1M158 4.5h1m41 0h1M173 6.5h1M41 8.5h1M183 9.5h1m23 0h1M113 11.5h1M28 12.5h1M117 14.5h1M191 15.5h1M175 18.5h1m4 0h1m4 0h1M186 20.5h1M157 22.5h1M113 23.5h1m56 0h1M26 25.5h1m59 0h1M20 26.5h1m22 0h1m46 0h1M1 28.5h1m11 0h1m17 0h1M62 31.5h1M22 32.5h1m11 0h1M47 33.5h1m43 0h1M25 34.5h1m50 0h1m30 0h1M12 35.5h1m19 0h1m13 0h1m15 0h1m22 0h1m8 0h1M49 36.5h1m6 0h1m5 0h1M3 37.5h1m94 0h1M7 38.5h1m20 0h1m2 0h1m47 0h1m20 0h1M49 39.5h1M55 40.5h1m13 0h1M31 41.5h1m17 0h1m15 0h1M33 42.5h1m1 0h1m21 0h1M19 43.5h1m11 0h1m21 0h1m9 0h1m30 0h1M8 44.5h1m30 0h1m8 0h1m7 0h1M62 45.5h1m30 0h1M55 46.5h1m16 0h1m66 0h1M7 47.5h1M12 48.5h1m1 0h1m35 0h1"/><path stroke="#e0b098" d="M95 0.5h1m107 0h1M134 2.5h1M145 4.5h1M172 8.5h1m21 0h1M171 12.5h1M116 15.5h1M160 22.5h1M147 23.5h1M118 24.5h1M41 25.5h1M76 26.5h1m4 0h1M76 27.5h1M63 28.5h1M53 29.5h1M28 31.5h1M11 33.5h1m31 0h1m42 0h1m23 0h1M67 35.5h1m16 0h1m17 0h1M37 36.5h1M20 37.5h1m1 0h1M13 39.5h1m81 0h1M32 42.5h1m8 0h1M68 44.5h1M77 45.5h1M74 46.5h1M37 48.5h1"/><path stroke="#e89878" d="M98 0.5h1M200 6.5h1M118 8.5h1M58 29.5h1M29 36.5h1M72 37.5h1M4 42.5h1m4 0h2M25 49.5h1m44 0h1"/><path stroke="#d8b0b0" d="M100 0.5h1M43 1.5h1m123 0h1m2 0h1m2 0h1m5 0h1m17 0h1m17 0h1M104 2.5h1m34 0h1M121 3.5h1m89 0h1M28 4.5h1m165 0h1M31 5.5h1M28 6.5h1m53 0h1M30 7.5h1m69 0h1m80 0h1M20 8.5h2m52 0h1m1 0h1m4 0h1m3 0h1m1 0h1m126 0h1M29 9.5h1m99 0h1m32 0h1m17 0h1m15 0h1m2 0h1m1 0h1M68 10.5h1m41 0h1M28 11.5h1m30 0h1m111 0h1m10 0h1m8 0h1m23 0h1M99 12.5h1m70 0h1m6 0h1M84 13.5h1m130 0h1M25 14.5h1m66 0h1m101 0h1M126 15.5h1m6 0h1m16 0h1M161 16.5h1m23 0h1m20 0h1M22 17.5h1m28 0h1m5 0h1m15 0h1m5 0h1M15 18.5h1m20 0h1m50 0h1m20 0h1m23 0h1m5 0h1m37 0h1m32 0h1m5 0h1M67 19.5h1m14 0h1m45 0h1m26 0h1m9 0h1m42 0h1m2 0h2M17 20.5h1m1 0h1m75 0h1m86 0h1M122 21.5h1m5 0h1m33 0h1m20 0h1m6 0h1m21 0h1M72 22.5h1m136 0h1M82 23.5h1m37 0h1m19 0h1m7 0h1m5 0h1m34 0h1m16 0h1M155 24.5h1m1 0h1m11 0h1m1 0h1m23 0h1M15 25.5h1m14 0h1m75 0h1M18 26.5h1m18 0h1m7 0h1m3 0h1m20 0h1m18 0h1M38 27.5h1m3 0h1m55 0h1m9 0h1M18 28.5h1m6 0h2m3 0h1m1 0h1m16 0h1m3 0h1m4 0h1m9 0h1m23 0h1m5 0h1M70 29.5h1m59 0h1m10 0h1m18 0h1M25 31.5h1m65 0h1m6 0h1M11 32.5h1m19 0h1m3 0h1m12 0h1m17 0h1m15 0h1m10 0h1M39 33.5h1m42 0h1M22 34.5h1m31 0h1m3 0h1m9 0h1m27 0h1M39 35.5h1m16 0h1m148 0h1m4 0h1M30 36.5h1m14 0h1m6 0h1m33 0h1m18 0h1M11 37.5h1m1 0h1m31 0h1m45 0h1m24 0h1m19 0h1M43 38.5h1m2 0h1m4 0h1m37 0h1m5 0h1m10 0h1M14 39.5h1m32 0h1M23 40.5h1m26 0h1m13 0h1m40 0h1M69 41.5h1M12 42.5h1m2 0h1m1 0h1m29 0h1m6 0h1m7 0h1M61 43.5h1m2 0h1m31 0h1m12 0h1M10 44.5h1m41 0h1m43 0h2M80 45.5h1m37 0h1m55 0h1m35 0h1M44 46.5h2M33 47.5h1m22 0h1m5 0h1m8 0h1m7 0h1m5 0h1m6 0h1m5 0h1M16 48.5h1m22 0h1m60 0h1M119 49.5h1m72 0h1"/><path stroke="#e0a088" d="M103 0.5h1m5 0h1m64 0h1m12 0h1m13 0h1m5 0h1M172 1.5h1M137 4.5h1m1 0h1m38 0h1m3 0h1M131 5.5h1m46 0h1M119 6.5h1m9 0h1M135 7.5h2m17 0h1m15 0h1m42 0h1M115 8.5h2m9 0h1m2 0h4m12 0h1m6 0h1m47 0h1M120 10.5h1m10 0h1m6 0h2m7 0h1M112 11.5h1M146 12.5h1m7 0h1m2 0h1m42 0h1m9 0h1M164 13.5h1m38 0h1M211 14.5h1M154 15.5h1M88 17.5h1m4 0h1m4 0h1m5 0h1m2 0h1m71 0h1m12 0h1M199 18.5h1M137 19.5h1m8 0h1M119 21.5h1M116 22.5h1m1 0h1m19 0h1m31 0h1m15 0h1m1 0h1m11 0h1m14 0h1M174 23.5h1M114 24.5h1m31 0h1m36 0h1M51 25.5h1M51 26.5h2m5 0h1M20 27.5h1m82 0h1M62 29.5h2m4 0h1m13 0h1M52 31.5h1M23 32.5h1M24 33.5h2m7 0h2m7 0h1m16 0h1m24 0h1m5 0h1m13 0h1M24 35.5h1m26 0h1m1 0h1m21 0h3m8 0h1m3 0h1m7 0h1M23 36.5h1m11 0h1m7 0h1m6 0h1M15 37.5h1m15 0h1m1 0h1M59 38.5h1M12 39.5h1m9 0h1m13 0h1m34 0h1m30 0h1M66 40.5h1m11 0h1M13 41.5h1m6 0h1m51 0h1m5 0h1M67 42.5h1m5 0h1M24 43.5h1m3 0h1m26 0h1m45 0h1M27 44.5h1m75 0h1M20 45.5h1m16 0h1m28 0h1m11 0h1m17 0h1M20 46.5h1m6 0h1m45 0h1m2 0h1M17 48.5h1m33 0h1M14 49.5h1m8 0h1m15 0h1m12 0h1m1 0h1m6 0h2m2 0h1m3 0h1m5 0h1m8 0h2m3 0h1m14 0h1m1 0h2"/><path stroke="#d8b0a8" d="M105 0.5h1m78 0h1m27 0h1M137 1.5h1m28 0h1m34 0h1m9 0h1M150 2.5h1m22 0h1M162 3.5h1m3 0h1m24 0h1M87 4.5h1m66 0h1M59 5.5h1m45 0h1m16 0h1m4 0h1m41 0h1M108 6.5h1m1 0h1m6 0h1m34 0h1m14 0h1m8 0h2M143 7.5h1m33 0h1m33 0h1M15 8.5h1m35 0h1m5 0h1m43 0h1m32 0h1m26 0h1m24 0h1M115 9.5h1m10 0h1m27 0h1m10 0h1m12 0h1m7 0h1M127 10.5h1M150 11.5h1m11 0h1m17 0h1m19 0h1M76 12.5h1m36 0h1m33 0h1m4 0h1m40 0h1M128 13.5h1m11 0h1m14 0h1m4 0h1m8 0h1m12 0h1m29 0h1M126 14.5h1m16 0h2m7 0h1m42 0h1m12 0h1M128 15.5h1m32 0h1m6 0h1m10 0h1m13 0h1M142 16.5h1m25 0h1m3 0h1m22 0h2m6 0h1m6 0h1m2 0h1M29 17.5h1m13 0h1M124 18.5h2m2 0h1m21 0h1m38 0h2M120 19.5h1m38 0h2m52 0h1M112 20.5h1m6 0h1m27 0h1m25 0h1M115 21.5h1m22 0h1m34 0h1m3 0h1m30 0h1M122 22.5h1m5 0h1m22 0h1m12 0h1m12 0h2m32 0h1M129 23.5h1m3 0h1m34 0h1m2 0h1m24 0h1m14 0h1m3 0h1M132 24.5h1m12 0h1m4 0h1m22 0h1m11 0h1m8 0h1m3 0h1M37 25.5h1m9 0h1m8 0h1m4 0h1m3 0h1m4 0h1m8 0h1M53 26.5h1m26 0h1m11 0h1M14 27.5h1m3 0h1m37 0h1m13 0h1m6 0h1m2 0h1m2 0h1m20 0h1M51 28.5h1M15 29.5h1m10 0h1m21 0h1m126 0h1M20 31.5h1m28 0h1m14 0h1m3 0h1m1 0h1m11 0h1m20 0h1M14 32.5h1m13 0h1m30 0h1m1 0h1m22 0h1m5 0h1m13 0h1M19 33.5h1m61 0h1M15 34.5h1m35 0h1m5 0h1m3 0h1m25 0h1m15 0h1M64 35.5h1M39 36.5h1m25 0h1m44 0h1m93 0h1M25 37.5h2m25 0h1m3 0h1m31 0h1m4 0h1M62 38.5h1m13 0h1m1 0h1m7 0h2m8 0h1m13 0h1M44 39.5h1m19 0h1m18 0h1m13 0h1m10 0h1m1 0h1M33 40.5h1m26 0h1m20 0h1M26 41.5h1m57 0h1m22 0h1m1 0h1M18 42.5h1m61 0h1m8 0h2m11 0h1m2 0h1M27 43.5h1m10 0h1m10 0h1m39 0h1M18 44.5h1m14 0h1m19 0h1m25 0h1m5 0h1m12 0h1M39 45.5h1m39 0h1m5 0h1m54 0h1m4 0h1m26 0h1M14 46.5h1m65 0h1m3 0h1M36 47.5h1m11 0h1m2 0h1m5 0h1m12 0h1m11 0h1M66 48.5h1m4 0h1m8 0h1m2 0h1M86 49.5h1m42 0h1m9 0h1m6 0h1m68 0h1"/><path stroke="#d89080" d="M107 0.5h1M119 4.5h1M156 5.5h1M142 8.5h1M148 10.5h1M185 12.5h1M118 15.5h1M63 33.5h1M75 37.5h1M28 40.5h1M87 49.5h1"/><path stroke="#e09878" d="M110 0.5h1m81 0h1m5 0h2M119 1.5h1M139 6.5h1m71 0h1M163 8.5h1m19 0h1M162 10.5h1M122 12.5h1m17 0h1M143 15.5h1M101 17.5h1M130 22.5h1M124 24.5h1M29 29.5h1m26 0h1M36 35.5h1M17 36.5h1M40 38.5h1M29 39.5h1m3 0h1m20 0h1m11 0h1m1 0h1m3 0h1M78 42.5h1M24 45.5h1m25 0h1m2 0h1M27 48.5h1M51 49.5h1m3 0h1m32 0h1m7 0h1m13 0h1"/><path stroke="#ffffff" d="M111 0.5h1M111 1.5h1M111 2.5h1M111 3.5h1M111 4.5h1M111 5.5h1M111 6.5h1M111 7.5h1M111 8.5h1M111 9.5h1M111 10.5h1M111 11.5h1M111 12.5h1M111 13.5h1M111 14.5h1M111 15.5h1M111 16.5h1M111 17.5h1M111 18.5h1M111 19.5h1M111 20.5h1M111 21.5h1M111 22.5h1M111 23.5h1M111 24.5h1M111 25.5h1M111 26.5h1M111 27.5h1M111 28.5h1M111 29.5h1M111 30.5h1M111 31.5h1M111 32.5h1M111 33.5h1M111 34.5h1M111 35.5h1M111 36.5h1M111 37.5h1M111 38.5h1M111 39.5h1M111 40.5h1M111 41.5h1M111 42.5h1M111 43.5h1M111 44.5h1M111 45.5h1M111 46.5h1M111 47.5h1M111 48.5h1M111 49.5h1"/><path stroke="#e0d8e0" d="M112 0.5h1m4 0h1m2 0h1m1 0h2m8 0h2m10 0h3m3 0h1m1 0h1m3 0h1m5 0h1m2 0h2M6 10.5h1m3 0h1m162 0h1m2 0h1m5 0h3m4 0h1m10 0h1m7 0h1m3 0h1M119 17.5h1m1 0h3m10 0h1m6 0h1m8 0h1m1 0h1m1 0h1m3 0h1m1 0h1m3 0h1M0 22.5h1m5 0h1M42 30.5h1m2 0h1m1 0h2m22 0h1m7 0h1m18 0h1m15 0h1m6 0h3m1 0h1m7 0h1m2 0h1m1 0h2m1 0h2m1 0h1m5 0h1m1 0h2m1 0h1m3 0h1m1 0h1m3 0h2m1 0h1m4 0h1m3 0h1m2 0h2m7 0h2m3 0h1m6 0h1m1 0h2m4 0h1"/><path stroke="#e0d8d8" d="M113 0.5h1m20 0h1m3 0h1M198 10.5h1M129 17.5h1m32 0h1M46 30.5h1m77 0h1m46 0h1m3 0h1m12 0h1"/><path stroke="#e8d8e0" d="M114 0.5h1m1 0h1m1 0h2m4 0h1m1 0h1m2 0h1m5 0h3m1 0h4m6 0h1m3 0h3m3 0h2M2 10.5h1m5 0h1m168 0h3m1 0h1m8 0h2m1 0h2m1 0h1m5 0h2m1 0h3m2 0h1m2 0h1m1 0h1M113 17.5h2m2 0h2m1 0h1m6 0h2m2 0h3m1 0h3m2 0h1m1 0h2m1 0h3m1 0h1m6 0h2m3 0h1m1 0h1m1 0h1m1 0h2M1 22.5h1m5 0h2M13 30.5h2m1 0h1m1 0h1m1 0h2m13 0h1m4 0h1m11 0h1m3 0h1m4 0h2m2 0h1m2 0h2m18 0h2m1 0h1m5 0h1m17 0h1m1 0h1m1 0h2m5 0h1m3 0h3m1 0h1m2 0h1m2 0h1m2 0h1m5 0h1m1 0h1m4 0h1m1 0h1m1 0h1m8 0h1m2 0h1m3 0h1m1 0h1m4 0h1m7 0h2m4 0h4m1 0h1m5 0h1m2 0h2m2 0h1M5 43.5h2"/><path stroke="#e8d8d8" d="M115 0.5h1m11 0h2m1 0h1m12 0h1m3 0h2m8 0h2m4 0h1m3 0h1M169 10.5h1m2 0h1m1 0h2m9 0h2m8 0h1m3 0h1m1 0h1m2 0h1M115 17.5h2m22 0h1m8 0h1m2 0h1m1 0h1m5 0h1M11 30.5h1m7 0h1m2 0h3m2 0h5m2 0h1m1 0h4m1 0h1m1 0h1m5 0h3m2 0h2m1 0h2m4 0h2m1 0h2m2 0h1m1 0h1m1 0h4m3 0h1m1 0h1m1 0h1m1 0h1m4 0h1m6 0h2m2 0h2m3 0h3m1 0h2m4 0h1m8 0h1m17 0h3m14 0h3m2 0h1m11 0h1m5 0h1m9 0h1m9 0h1M0 43.5h1m6 0h1m2 0h1"/><path stroke="#e0d0e0" d="M121 0.5h1M32 30.5h1m137 0h1m35 0h2"/><path stroke="#e8e0e0" d="M125 0.5h1m5 0h1m29 0h1m2 0h1m3 0h1M0 10.5h2m2 0h2m3 0h1m170 0h1m6 0h2m8 0h1m11 0h1M124 17.5h1m1 0h1M3 22.5h1m6 0h1M15 30.5h1m10 0h1m6 0h1m10 0h1m8 0h1m19 0h1m6 0h1m5 0h1m6 0h3m32 0h1m6 0h1m21 0h1m16 0h1m21 0h1m16 0h2M2 43.5h1m6 0h1"/><path stroke="#e8d0d8" d="M151 0.5h1M214 10.5h1M138 17.5h1M82 30.5h1"/><path stroke="#e09078" d="M170 0.5h1M187 17.5h1M174 22.5h1M101 39.5h1M28 41.5h1M78 44.5h1"/><path stroke="#d8a090" d="M172 0.5h1m2 0h1m1 0h1m1 0h1m33 0h1m1 0h1M169 1.5h1m4 0h1M147 2.5h1M118 3.5h1m16 0h1m39 0h1M135 4.5h1m48 0h1m23 0h1M113 5.5h2m32 0h1m3 0h1m18 0h1m11 0h1m5 0h1m14 0h1M136 6.5h1m3 0h1m14 0h2m2 0h1m11 0h1m18 0h1m23 0h1M120 7.5h1m40 0h1m5 0h1m29 0h1M123 8.5h1m12 0h1m7 0h1m11 0h1m3 0h1m5 0h1m15 0h1m9 0h1m3 0h1m16 0h1M149 9.5h1m24 0h1M117 10.5h2m7 0h1m30 0h1m10 0h1M114 11.5h1m9 0h1m50 0h1M117 12.5h1m8 0h1m41 0h1m21 0h1M131 13.5h1m46 0h1m32 0h1M118 14.5h2m11 0h1m16 0h1m4 0h1m25 0h1M131 15.5h1m2 0h1m11 0h1m8 0h1m7 0h1m11 0h1m5 0h1m6 0h2m7 0h1m4 0h1M141 16.5h1M181 17.5h1m24 0h1m2 0h1M122 18.5h1m17 0h1m61 0h1M119 19.5h1m19 0h1m14 0h1m32 0h1m13 0h1M126 20.5h1m13 0h1m10 0h1m2 0h1m10 0h1m17 0h1m10 0h2m14 0h1M139 21.5h2m4 0h1m42 0h1m10 0h1M112 22.5h1m34 0h1m46 0h1m8 0h1M131 23.5h1m25 0h1m6 0h1M140 24.5h1m26 0h1M13 25.5h2m72 0h1M23 26.5h1m16 0h2M23 27.5h1m2 0h1m3 0h1m9 0h2m11 0h1m46 0h1M46 28.5h1m47 0h1M18 29.5h1m47 0h1m42 0h1M51 31.5h1M107 32.5h1M14 33.5h1m30 0h1m51 0h1m1 0h1M23 34.5h1m38 0h1M99 35.5h1M64 36.5h1m22 0h1m12 0h1M49 37.5h1m14 0h1m4 0h1m16 0h1m15 0h1M99 38.5h1m4 0h1M30 39.5h1m3 0h2m17 0h1m40 0h1M18 40.5h1m30 0h1m18 0h1m17 0h1M63 41.5h2m35 0h1m4 0h1M29 42.5h1m1 0h1m6 0h1m43 0h1M42 43.5h1m35 0h1m1 0h1m29 0h1M12 44.5h1m9 0h1m12 0h1M11 45.5h1m31 0h1m14 0h1m2 0h1M17 46.5h1m5 0h1m61 0h1m3 0h1m12 0h1M15 47.5h1m14 0h1m13 0h1M21 48.5h1m12 0h1m7 0h1m20 0h1m18 0h1m4 0h1M60 49.5h1m33 0h1m13 0h1"/><path stroke="#d09888" d="M173 0.5h1m7 0h1M129 4.5h1M142 5.5h1m1 0h1m66 0h1M135 6.5h1m51 0h1M142 7.5h1m32 0h1M146 9.5h1M114 10.5h1m4 0h1M174 11.5h1M166 12.5h1M151 13.5h1M81 17.5h1m119 0h1m12 0h1M165 18.5h1m37 0h1M164 19.5h1M118 21.5h1M168 22.5h1m21 0h1M180 23.5h1M151 24.5h1M50 25.5h1M22 33.5h1M78 37.5h1M110 45.5h1"/><path stroke="#d0a8a8" d="M176 0.5h1M90 1.5h1m30 0h1m22 0h1m8 0h1m7 0h1m9 0h1m5 0h1m14 0h2m9 0h1m5 0h1M121 2.5h1m6 0h1m32 0h1m8 0h3m9 0h2m4 0h1m10 0h1m7 0h1m6 0h1M82 3.5h1m45 0h1m21 0h1m2 0h1m39 0h1M106 4.5h1m5 0h1m12 0h1m10 0h1m13 0h1m8 0h1m11 0h1m15 0h1M34 5.5h1m125 0h1m31 0h1m21 0h1M29 6.5h1m48 0h1m70 0h1m10 0h1M104 7.5h1m12 0h1m62 0h1m4 0h1m7 0h1M42 8.5h1m141 0h1M22 9.5h1m91 0h1m8 0h1m34 0h1m1 0h2m1 0h1m20 0h1M21 10.5h1m60 0h1M115 11.5h1m4 0h1m1 0h1m18 0h1m28 0h1m36 0h1M40 12.5h1m137 0h1m7 0h1m4 0h1m9 0h1m9 0h1M122 13.5h2m8 0h1m2 0h1m14 0h1m55 0h1m1 0h1M59 14.5h1m52 0h1m36 0h1m42 0h1m11 0h1m4 0h1M24 15.5h1m10 0h1m86 0h1m50 0h1m3 0h1m4 0h1m16 0h1M126 16.5h1m7 0h1m15 0h1m7 0h2m22 0h1M28 17.5h1m23 0h1m6 0h1m1 0h2m14 0h1M116 18.5h1m45 0h1m5 0h1m1 0h1M115 19.5h1m18 0h1m8 0h1m12 0h2m20 0h1m27 0h1M12 20.5h1m88 0h1m33 0h1m36 0h1m7 0h1m6 0h1m13 0h1m4 0h1M144 21.5h1m5 0h1m13 0h1m1 0h1m12 0h1m18 0h1m3 0h1m7 0h1M20 22.5h1m38 0h1m27 0h1m10 0h1m32 0h1m72 0h1M121 23.5h1m23 0h1m15 0h1m5 0h1m39 0h1M134 24.5h1m1 0h1m4 0h1m11 0h1m30 0h1m26 0h1M18 25.5h1m19 0h1m7 0h1m8 0h1m13 0h1m29 0h1M95 26.5h1m78 0h1M92 27.5h1m47 0h1M39 28.5h1m5 0h1m27 0h1m3 0h1m10 0h1m7 0h1m6 0h1M71 29.5h1m59 0h1M11 31.5h1m65 0h1M16 32.5h1m22 0h1m27 0h1m15 0h1m17 0h1M17 34.5h1m1 0h1m20 0h1m14 0h1m43 0h1m10 0h1M19 38.5h1m6 0h1m6 0h1m11 0h1M69 39.5h1M46 40.5h1m6 0h1m42 0h1m1 0h2M50 41.5h1m62 0h1M109 42.5h1M15 43.5h1m75 0h1M29 44.5h1m83 0h1M45 45.5h1m52 0h1m29 0h1m28 0h1M48 46.5h1M22 47.5h2m1 0h1m69 0h1M92 48.5h1M128 49.5h1m40 0h1"/><path stroke="#d8a098" d="M178 0.5h1m12 0h1m2 0h1m11 0h1M156 1.5h1m1 0h1m21 0h1M143 2.5h1m2 0h1M131 3.5h1m20 0h1m27 0h1m18 0h1M109 4.5h1m5 0h1m8 0h1m7 0h1m27 0h1m1 0h1m35 0h1M124 6.5h1m5 0h1m30 0h1m1 0h1m17 0h1M131 7.5h1m32 0h1M86 8.5h1m30 0h1m4 0h1m52 0h1m2 0h1m16 0h1m1 0h1m17 0h1M155 10.5h1M154 11.5h1m31 0h1M118 12.5h1m24 0h1M149 13.5h1m44 0h1m15 0h1M114 14.5h1m17 0h1m6 0h1m20 0h1m42 0h1M123 15.5h1m11 0h1m9 0h1m1 0h2m2 0h1m10 0h1m27 0h1m1 0h1m20 0h1M127 16.5h1m7 0h1m58 0h1M91 17.5h1M157 18.5h1m36 0h1M116 19.5h1m69 0h1M143 20.5h1m2 0h1m1 0h1m15 0h1m24 0h1M131 21.5h1M132 22.5h1m42 0h1M184 23.5h1M120 24.5h1m35 0h1m1 0h1m27 0h1M35 25.5h1m59 0h1M85 26.5h1m1 0h1M63 27.5h1m2 0h1m42 0h2M21 28.5h1m65 0h1M77 29.5h1m137 0h1M46 31.5h1m13 0h1m14 0h1m28 0h1M28 33.5h1m45 0h1m8 0h1M86 34.5h1M31 35.5h1m1 0h1m55 0h1m19 0h1M18 36.5h1m21 0h1m54 0h1M32 37.5h1M74 38.5h1M11 39.5h1m31 0h1m8 0h1m12 0h1m4 0h1m11 0h1m6 0h1m9 0h1M26 40.5h1m20 0h1M32 41.5h1m10 0h1m26 0h1m18 0h1m6 0h1M30 43.5h1m12 0h1m18 0h1m43 0h1M25 44.5h1m56 0h1M83 45.5h1m10 0h1M21 46.5h1m3 0h1m20 0h1m62 0h1M59 47.5h1M32 48.5h1M16 49.5h1m16 0h1m37 0h1"/><path stroke="#d09078" d="M182 0.5h1M89 45.5h1"/><path stroke="#e09070" d="M183 0.5h1M139 8.5h1M142 10.5h1M72 29.5h1M59 35.5h1M24 36.5h1M110 40.5h1M110 42.5h1M78 49.5h1"/><path stroke="#d89880" d="M185 0.5h1m22 0h1M119 2.5h1m43 0h1M163 3.5h1M211 4.5h1M115 5.5h2m88 0h1m4 0h1M118 6.5h1m49 0h1m34 0h1M151 7.5h1m22 0h1M128 8.5h1m28 0h1m16 0h1m13 0h1m12 0h1M112 10.5h1m10 0h1m8 0h1m2 0h1m13 0h1M139 11.5h1M175 12.5h1m20 0h1m2 0h1M143 13.5h1M82 17.5h1m25 0h1m93 0h1M163 18.5h1M168 19.5h1M123 21.5h1M192 22.5h1M63 26.5h1M36 27.5h1M41 29.5h1m46 0h1M52 35.5h1M82 36.5h1M83 37.5h1M37 41.5h1M21 49.5h1m44 0h1m7 0h1m20 0h1"/><path stroke="#e0a890" d="M188 0.5h1M146 4.5h1m17 0h1M149 5.5h1m14 0h1m7 0h1M114 6.5h2m38 0h1m2 0h1m11 0h1m31 0h1M123 7.5h1m6 0h1m29 0h1m8 0h1m38 0h1M119 8.5h1m47 0h1M121 10.5h1m2 0h1m42 0h1M157 11.5h1M115 12.5h1m37 0h1m19 0h2M181 13.5h1M140 14.5h1M115 15.5h1m4 0h1m28 0h1M83 17.5h1m22 0h1m65 0h1m1 0h1m40 0h1M129 18.5h1m13 0h1m28 0h1M178 20.5h1M119 22.5h1m4 0h1m9 0h1m14 0h1M163 24.5h1m35 0h1M110 25.5h1M35 26.5h1m18 0h1m2 0h1M57 27.5h1m1 0h1m1 0h1m19 0h1m11 0h1M28 28.5h1M17 29.5h1m14 0h1m14 0h1m28 0h1m1 0h1m2 0h1m1 0h1m9 0h1m4 0h1m7 0h1M57 31.5h1M76 33.5h1m25 0h1m2 0h1M54 36.5h1m21 0h1M12 37.5h1m4 0h1m41 0h1m2 0h1m42 0h1M18 39.5h1m8 0h1m30 0h1m19 0h1m2 0h1m2 0h1m21 0h1M40 40.5h1m3 0h1m17 0h1m9 0h1m22 0h1M17 41.5h1m3 0h1m45 0h1m35 0h1M19 42.5h1m3 0h1m10 0h1m24 0h1m15 0h1m12 0h1M50 43.5h1m17 0h1m1 0h1M36 44.5h1m43 0h1m21 0h1M15 45.5h1m12 0h1m4 0h1m1 0h1m18 0h2m3 0h1m42 0h1M11 46.5h1m1 0h1m4 0h1m9 0h1m57 0h1m12 0h1m1 0h1m5 0h1M24 47.5h1m50 0h1M62 48.5h1m4 0h1M12 49.5h1m4 0h1m20 0h1m7 0h2m19 0h1m5 0h1m2 0h1m23 0h1m1 0h1"/><path stroke="#e89880" d="M189 0.5h1"/><path stroke="#e8b8b0" d="M193 0.5h1M59 3.5h1M133 5.5h1M214 9.5h1M196 13.5h1M4 25.5h1M14 26.5h1M4 27.5h1m53 0h1M3 28.5h1M80 29.5h1M10 31.5h1M1 32.5h1M8 33.5h1M2 34.5h1M73 35.5h1M91 36.5h1M96 37.5h1M13 38.5h1M45 40.5h1m48 0h1M108 42.5h1M42 44.5h1M1 45.5h1m98 0h1"/><path stroke="#d09080" d="M195 0.5h1m9 0h1M194 5.5h1m6 0h1M146 6.5h1M196 7.5h1M170 8.5h1M151 10.5h1M176 17.5h1M127 18.5h1m31 0h1M121 19.5h1M163 23.5h1M115 24.5h1m11 0h1M22 29.5h1M51 45.5h1"/><path stroke="#e08860" d="M196 0.5h1M129 10.5h1m34 0h1M3 42.5h1m3 0h1M28 49.5h1"/><path stroke="#d89888" d="M197 0.5h1m12 0h1M130 2.5h1M141 3.5h1m54 0h1M142 4.5h1m34 0h1M119 5.5h1m4 0h1M116 6.5h1m65 0h1M137 7.5h1m2 0h1m46 0h1m22 0h1M127 8.5h1m53 0h1m28 0h1M120 9.5h1M153 10.5h1m11 0h1M119 11.5h1m46 0h1m11 0h1m35 0h1M138 12.5h1m6 0h1m3 0h1M122 14.5h1m63 0h1M125 15.5h1M129 16.5h1M100 17.5h1m82 0h1m23 0h1M137 18.5h1m16 0h1m19 0h1m8 0h1m26 0h2M142 19.5h1m56 0h1M163 20.5h1M154 21.5h1M153 22.5h1M129 24.5h1M31 26.5h1m40 0h1m1 0h1M85 29.5h1m15 0h1M35 33.5h1M43 35.5h1M84 36.5h1M50 37.5h1m33 0h1M75 38.5h1M59 39.5h1m14 0h1m17 0h1M51 40.5h1m4 0h1M52 41.5h1m13 0h1M61 42.5h1m29 0h1M60 43.5h1m11 0h1M41 45.5h1m23 0h1m40 0h1M54 48.5h1M40 49.5h1"/><path stroke="#d8a8a0" d="M202 0.5h1M115 1.5h1m10 0h1m1 0h1m12 0h1m1 0h1m10 0h1m7 0h1m25 0h1m5 0h1m7 0h1m1 0h1m5 0h1m3 0h1M115 2.5h1m2 0h1m5 0h1m1 0h1m2 0h1m3 0h1m21 0h2m7 0h1m1 0h3m20 0h1m2 0h1M115 3.5h1m6 0h1m21 0h1m6 0h1m16 0h1m4 0h1m41 0h1M114 4.5h1m11 0h1m3 0h2m15 0h1m4 0h1m13 0h1m16 0h1m1 0h1M125 5.5h1m6 0h1m8 0h1m1 0h1m8 0h1m1 0h1m54 0h1M104 6.5h1m16 0h1m21 0h1m58 0h1M121 7.5h1m12 0h1m17 0h1m13 0h1m9 0h1m5 0h1m15 0h1m3 0h1m12 0h1M13 8.5h1m39 0h1m94 0h1m5 0h1m49 0h1m4 0h1M139 9.5h1m2 0h1m5 0h1m4 0h1m17 0h1m22 0h1m17 0h1M140 10.5h1M50 11.5h1m84 0h1m11 0h1m19 0h1m29 0h1m15 0h1M112 12.5h1m23 0h1m19 0h1m3 0h2m19 0h1m10 0h1m15 0h1M125 13.5h1m7 0h1m2 0h1m5 0h1m3 0h1m9 0h1m1 0h1m13 0h2m5 0h1m10 0h1M169 14.5h1m18 0h3m22 0h1m1 0h1M124 15.5h1m34 0h1m12 0h1m5 0h1m8 0h1m6 0h1m3 0h1m4 0h1m6 0h1M29 16.5h1m90 0h1m10 0h1m35 0h1m31 0h1m5 0h1M36 17.5h1m138 0h1m22 0h1m13 0h1M135 18.5h1m5 0h1m11 0h1m1 0h1m2 0h1m18 0h3m2 0h1m21 0h1M113 19.5h1m9 0h1m5 0h1m8 0h1m35 0h1m21 0h1M115 20.5h1m26 0h1m14 0h1m17 0h1m24 0h1m11 0h1M141 21.5h1m10 0h1m47 0h1M159 22.5h1m5 0h1m14 0h1m10 0h1m6 0h1m11 0h1m3 0h1M155 23.5h1m19 0h1m7 0h1M117 24.5h1m29 0h1m20 0h1m9 0h1m17 0h1m4 0h1M52 25.5h1m1 0h1m16 0h1m4 0h1m28 0h1m3 0h1M42 26.5h1m25 0h1m9 0h1m12 0h1m11 0h1m1 0h1M22 27.5h1m9 0h1m18 0h2m1 0h1m10 0h1m20 0h1m4 0h1m7 0h1m2 0h1M16 28.5h2m4 0h1m12 0h1m1 0h1m28 0h2m4 0h1m12 0h1m14 0h1m5 0h1M19 29.5h1m7 0h1m18 0h1m49 0h2m102 0h1M16 31.5h1m42 0h1m6 0h2m12 0h1m27 0h1M44 32.5h1m26 0h1m20 0h1m2 0h1m13 0h1M18 33.5h1m4 0h1m2 0h2m26 0h1m30 0h1m15 0h1m22 0h1M66 34.5h1m28 0h1M11 35.5h1m13 0h1m23 0h1m4 0h1m3 0h1m15 0h1m6 0h1m26 0h1M11 36.5h1m19 0h1m9 0h2m5 0h1m34 0h1M19 37.5h1m14 0h1m4 0h1m7 0h1m19 0h1m42 0h1M12 38.5h1m4 0h1m29 0h1m2 0h1m2 0h1m4 0h1m33 0h1M39 39.5h1m64 0h1M14 40.5h1m9 0h1m29 0h1m6 0h1m11 0h1m5 0h2M39 41.5h2m3 0h1m3 0h1m8 0h2m33 0h1m17 0h1M44 42.5h1m7 0h1m13 0h1m4 0h2m11 0h1m12 0h1M40 43.5h1m24 0h3m7 0h1M23 44.5h1m7 0h1m29 0h1m10 0h1m10 0h1M21 45.5h1m27 0h1m10 0h1m8 0h1M71 46.5h1m5 0h1m4 0h1m4 0h1m3 0h1M37 47.5h1m38 0h1m17 0h1m7 0h1m1 0h1M19 48.5h1m52 0h1m8 0h1m2 0h1M92 49.5h1m4 0h1m87 0h1"/><path stroke="#d8a898" d="M204 0.5h1M120 1.5h1m60 0h1m23 0h1M123 2.5h1m18 0h1m9 0h1m1 0h1m3 0h1M129 3.5h2M113 4.5h1m27 0h1m1 0h1m4 0h2m40 0h1m1 0h1m8 0h1M130 5.5h1m59 0h1m9 0h1m3 0h1M113 6.5h1m17 0h1m32 0h1m5 0h1m28 0h1M118 7.5h1m10 0h1m17 0h1m7 0h1m12 0h1m35 0h1M135 8.5h1m13 0h1m21 0h1m30 0h1M147 9.5h1m4 0h1m52 0h1m2 0h1M118 11.5h1m15 0h1m3 0h1m29 0h2M116 12.5h1m24 0h1M87 13.5h1m28 0h1m3 0h1m33 0h1m8 0h1m29 0h1M154 14.5h1m1 0h1m43 0h1M130 15.5h1m6 0h1m15 0h1m29 0h1m1 0h1m10 0h1M137 16.5h1m1 0h1m3 0h1m5 0h1M123 18.5h1m22 0h1m4 0h2m13 0h1M180 19.5h1M159 20.5h1M201 21.5h1M115 22.5h1m77 0h1m3 0h1M115 23.5h1m2 0h1m6 0h1M113 24.5h1m11 0h1m7 0h1m1 0h1m3 0h1M11 25.5h1m9 0h1m11 0h1m58 0h1M21 26.5h2m1 0h1m9 0h1m20 0h1m44 0h1M33 27.5h1M78 28.5h2m1 0h1M31 29.5h1m5 0h1m14 0h1m52 0h1M43 31.5h1M21 32.5h1m5 0h1m40 0h1M38 33.5h1m39 0h1M73 34.5h1m10 0h1M26 35.5h1m10 0h1m17 0h1m23 0h1M16 36.5h1m42 0h1m12 0h1m33 0h1M42 37.5h1m37 0h1m19 0h1M34 38.5h1m1 0h1m23 0h1m8 0h1M105 39.5h1M16 40.5h1m2 0h1m15 0h1m7 0h1M23 41.5h1m5 0h1m6 0h1m16 0h1m1 0h1M16 42.5h1m8 0h1m27 0h1m16 0h1m10 0h1M21 43.5h1m30 0h1m37 0h1m4 0h1M11 44.5h1m31 0h1m32 0h1M67 45.5h1m31 0h1M40 46.5h1m19 0h1m8 0h1m24 0h1M28 47.5h1m44 0h1M11 48.5h1m24 0h1m3 0h1m23 0h1m8 0h1m1 0h1m13 0h2m17 0h1M56 49.5h1m23 0h1m17 0h1"/><path stroke="#d09088" d="M209 0.5h1M208 2.5h1M157 5.5h1M125 8.5h1M142 15.5h1m13 0h1M163 22.5h1M93 38.5h1M22 42.5h1M88 44.5h1"/><path stroke="#e09068" d="M211 0.5h1M195 17.5h1M50 49.5h1"/><path stroke="#9898d0" d="M0 1.5h1M8 6.5h1M2 16.5h1m6 0h1M0 24.5h1"/><path stroke="#c0b8d8" d="M1 1.5h1M2 2.5h1M10 3.5h1M10 4.5h1M4 5.5h1M10 7.5h1M0 8.5h1M2 9.5h1m4 0h1M10 11.5h1M4 12.5h1M80 13.5h1M5 14.5h1M8 15.5h1M0 17.5h1m4 0h1m3 0h1M0 18.5h1M8 20.5h1m1 0h1M1 23.5h1M1 24.5h1M146 44.5h1"/><path stroke="#9090c8" d="M2 1.5h1M6 6.5h1M0 16.5h1"/><path stroke="#a8a8d0" d="M3 1.5h1m3 0h1m2 0h1M2 5.5h2m6 0h1M7 6.5h1m50 0h1M2 7.5h1m2 0h1M4 9.5h2M0 12.5h1M6 13.5h1M9 14.5h1M1 16.5h1m6 0h1M0 23.5h1m3 0h1m4 0h1M4 24.5h1M121 31.5h1m68 0h1M149 35.5h1M114 40.5h1m92 0h1M165 48.5h1"/><path stroke="#c0b8d0" d="M4 1.5h1M4 2.5h1m64 0h1M2 3.5h1m8 0h2M1 4.5h1m69 0h1M45 6.5h1M3 7.5h1m50 0h1M8 8.5h1M18 9.5h1M8 11.5h1m9 0h1M44 12.5h1M8 14.5h1m14 0h1m84 0h1M61 16.5h1M1 19.5h1m47 0h1M11 21.5h1m39 0h1M15 22.5h1M5 23.5h1m67 0h1M10 24.5h1M121 25.5h1m9 0h1m21 0h1m4 0h1M209 26.5h1M179 27.5h1M183 28.5h1M9 29.5h1M174 31.5h1m8 0h1M129 32.5h1m32 0h1m27 0h1m20 0h1M113 34.5h1m36 0h1M114 35.5h1m7 0h1M119 36.5h1m41 0h1M125 37.5h1m7 0h1m1 0h1M139 38.5h1M176 39.5h1M143 40.5h2M130 42.5h1M187 44.5h1M139 45.5h1M136 46.5h1m42 0h1M163 47.5h1m27 0h1m16 0h1"/><path stroke="#a0a0d0" d="M6 1.5h1m1 0h1m16 0h1M2 6.5h1M0 7.5h1M0 11.5h1M8 24.5h1M143 31.5h1M117 32.5h1M114 47.5h1M165 49.5h1"/><path stroke="#d8c0c0" d="M11 1.5h1m147 0h1M68 2.5h1m33 0h1M165 3.5h1M75 4.5h1m17 0h1M82 5.5h1m23 0h1M101 6.5h1M52 7.5h1M45 8.5h1m26 0h1m27 0h1M28 10.5h1m30 0h1M17 11.5h1m67 0h1M98 12.5h1m113 0h1M56 14.5h1m29 0h1M59 15.5h1m8 0h1m3 0h1m21 0h1m120 0h1M171 16.5h1M55 17.5h1M59 18.5h1m13 0h1m14 0h1m1 0h1M51 19.5h1M22 20.5h1M50 21.5h1m164 0h1M12 22.5h1m15 0h1m57 0h1m23 0h1M180 24.5h1M66 25.5h1M69 27.5h1m104 0h1M80 28.5h1M117 29.5h1m26 0h1m8 0h1m53 0h1M73 31.5h1m5 0h1M64 32.5h1M113 33.5h1m69 0h1M185 35.5h1M90 37.5h1m28 0h1m43 0h1M16 38.5h1m27 0h1M118 39.5h1m5 0h1m83 0h1M16 41.5h1M79 42.5h1M183 45.5h1M81 46.5h1m113 0h1M26 47.5h1M124 49.5h1"/><path stroke="#b0a8c0" d="M13 1.5h1m5 0h1M26 9.5h1m66 0h1M45 11.5h1m52 0h1M96 13.5h1M54 16.5h1m30 0h1M49 21.5h1M26 22.5h1M80 23.5h1M63 24.5h1m1 0h1m3 0h1m39 0h1M168 25.5h1M146 28.5h1M206 29.5h1M149 31.5h2m37 0h1M135 32.5h1m61 0h1M179 34.5h1m24 0h1M176 37.5h1M120 38.5h2m48 0h1M150 39.5h1M189 40.5h1M125 41.5h1m58 0h1M165 42.5h1m40 0h1M159 45.5h1M120 46.5h1m2 0h1m44 0h1M177 48.5h1"/><path stroke="#c0a0b0" d="M14 1.5h1m27 0h1m63 0h1m82 0h1M89 2.5h1M68 3.5h1m23 0h1M117 4.5h1M39 5.5h1m18 0h1M18 6.5h1m38 0h1m32 0h1m43 0h1M81 7.5h1m17 0h1M71 9.5h1M41 10.5h1m35 0h1M46 11.5h1m7 0h1m19 0h2m25 0h1m1 0h1m80 0h1M17 12.5h1m60 0h1M106 13.5h1m14 0h1m69 0h1M30 15.5h1M98 16.5h1m85 0h1m2 0h1M32 17.5h1m33 0h1M62 18.5h1M63 20.5h1m149 0h1M42 21.5h1m2 0h1m63 0h1m55 0h1M11 22.5h1m24 0h1M53 23.5h1m68 0h1M14 24.5h1M140 25.5h1M210 26.5h1M166 29.5h1m45 0h1M142 33.5h1M168 35.5h1M185 37.5h1M201 40.5h1M118 42.5h1m50 0h1m29 0h1M141 43.5h1M145 44.5h1m23 0h1M178 45.5h1M117 46.5h1m46 0h1M88 47.5h1M187 48.5h1M212 49.5h1"/><path stroke="#d8b8b8" d="M16 1.5h1m12 0h1m5 0h1m139 0h1M53 2.5h1m52 0h1m31 0h1m14 0h1m37 0h1m6 0h1M113 3.5h1m9 0h1m1 0h1m12 0h1m69 0h1M21 4.5h1m14 0h1m68 0h1M43 5.5h1m13 0h1m4 0h1M21 6.5h1m30 0h1m105 0h1m6 0h1M29 7.5h1m21 0h1m5 0h1m29 0h1m39 0h1m86 0h1M18 8.5h1m12 0h1m18 0h1m3 0h1m23 0h1m5 0h1m5 0h1m3 0h1M138 9.5h1m42 0h1m6 0h1m22 0h1M61 10.5h1m8 0h1m19 0h1m4 0h1m8 0h2m19 0h1m8 0h1M34 11.5h1m59 0h1m69 0h1M15 12.5h1m61 0h1m7 0h1m10 0h1m8 0h1m101 0h1M94 13.5h1m15 0h1m27 0h1m37 0h1m3 0h1m8 0h1M35 14.5h1m29 0h1m6 0h1m30 0h2m29 0h1m15 0h1M36 15.5h1m37 0h1m14 0h1m13 0h1m100 0h1M156 16.5h1m32 0h1m11 0h1M51 18.5h1M27 19.5h1m2 0h2m72 0h1m83 0h1M51 20.5h1m16 0h1m5 0h1M86 21.5h1m45 0h1m34 0h1m38 0h1M31 22.5h1m44 0h1m25 0h1M72 23.5h1m41 0h1m20 0h1m42 0h1M12 25.5h1m72 0h1m5 0h1m16 0h1m24 0h1M123 26.5h1M12 28.5h1m71 0h1m24 0h1m39 0h1M15 31.5h1m19 0h1m2 0h1m19 0h1m2 0h1m9 0h1m30 0h1M12 32.5h1m5 0h1m11 0h1m21 0h2m11 0h1m44 0h1M186 33.5h1M60 34.5h1m29 0h1M129 35.5h1m12 0h1m29 0h1M71 37.5h1m87 0h1m43 0h1M11 38.5h1m3 0h1m47 0h1m9 0h1m7 0h1m3 0h1m2 0h1M123 39.5h1m6 0h1m13 0h1m3 0h1m46 0h1M12 40.5h1m80 0h1m3 0h1M19 41.5h1m36 0h1m14 0h1M26 42.5h1m38 0h1m11 0h1m18 0h1M56 43.5h1m20 0h1m30 0h1m26 0h1M9 44.5h1m9 0h1M169 45.5h1m10 0h1m16 0h1M47 46.5h1m1 0h1m149 0h1m10 0h1M14 47.5h1m14 0h1m2 0h1m19 0h1m11 0h1M60 48.5h1M112 49.5h1m4 0h1m15 0h1m44 0h1m7 0h1m10 0h1"/><path stroke="#b8b0d8" d="M18 1.5h1M8 3.5h1M8 5.5h1M4 6.5h1M9 13.5h1M134 32.5h1"/><path stroke="#d0b8c8" d="M31 1.5h1m9 0h1M45 4.5h1M17 5.5h1m46 0h1m14 0h1M15 7.5h1m4 0h1m6 0h1m47 0h1M3 8.5h1M78 9.5h1m22 0h1M51 10.5h1m11 0h1m10 0h1M82 11.5h1m12 0h1M109 12.5h1M31 13.5h1m6 0h1M51 14.5h1M44 15.5h1m41 0h1M24 16.5h1m50 0h1m6 0h1m7 0h1M26 17.5h1m37 0h1M50 18.5h1m16 0h1m7 0h1M92 19.5h1M28 20.5h1m2 0h1M67 21.5h2m15 0h1m2 0h1m10 0h1M14 22.5h1m2 0h1M58 23.5h1m48 0h1M59 24.5h1m2 0h1m11 0h1M116 25.5h1m40 0h1m20 0h1M170 27.5h1m6 0h1m24 0h1M192 28.5h1M145 29.5h1m41 0h1M151 33.5h1m17 0h1M126 35.5h1M130 36.5h1m2 0h1m7 0h1m47 0h1M174 38.5h1M143 39.5h1m48 0h1m12 0h1M154 41.5h1M163 42.5h1m38 0h1M178 43.5h1M178 44.5h1m13 0h1M115 45.5h1m8 0h1m17 0h1m13 0h1m47 0h1M128 48.5h1m8 0h1m44 0h1M118 49.5h1m63 0h1m1 0h1"/><path stroke="#d0b0b0" d="M34 1.5h1m5 0h1m41 0h1m100 0h1m28 0h1M110 2.5h1m26 0h1m40 0h1m23 0h1m9 0h1M41 3.5h1m70 0h1m44 0h1m3 0h1m14 0h1m20 0h2m2 0h1M11 4.5h1m22 0h1m4 0h1m15 0h1m26 0h2m26 0h1m16 0h1M23 5.5h1m6 0h1m19 0h1m10 0h1m30 0h1m19 0h1m94 0h1M23 6.5h1m3 0h1m181 0h1M77 7.5h1m17 0h1m48 0h1m8 0h1m29 0h1m7 0h1M25 8.5h1m1 0h1m9 0h1m25 0h1m9 0h1m25 0h1M110 9.5h1m14 0h1m9 0h1m1 0h1m7 0h1m63 0h1M92 10.5h1m43 0h1M93 11.5h1m66 0h1m32 0h1M11 12.5h1m24 0h1m6 0h1m17 0h2m21 0h1m1 0h1m15 0h1m1 0h1m71 0h1m26 0h1M35 13.5h1m88 0h1m27 0h1m13 0h1m17 0h1m2 0h1M14 14.5h2m11 0h1m15 0h1m92 0h1m35 0h1m2 0h1m22 0h1m8 0h1M17 15.5h1m62 0h1m51 0h1m68 0h1m5 0h1M117 16.5h1m29 0h1m22 0h1M16 17.5h1m20 0h1m8 0h1M29 18.5h1m104 0h1M87 19.5h1m48 0h1m8 0h1m20 0h1m6 0h1m20 0h1M43 20.5h1m46 0h1m12 0h1m21 0h1m4 0h1m40 0h1M28 21.5h1m87 0h1m12 0h1m42 0h1m9 0h1m1 0h1M52 22.5h1m5 0h1m66 0h1m55 0h1M142 23.5h1m3 0h1m5 0h1m26 0h1m8 0h1m15 0h1m8 0h1M42 24.5h1m83 0h1m49 0h1m13 0h1m14 0h1m6 0h1M17 25.5h1m55 0h1M33 26.5h1m14 0h1m7 0h1M91 28.5h1m15 0h1M114 29.5h1m9 0h1m14 0h1m43 0h1m18 0h1m7 0h1M22 31.5h1m3 0h1m12 0h1m46 0h1m1 0h1m16 0h1M92 33.5h1m50 0h1m19 0h1m10 0h1m10 0h1m1 0h1M20 34.5h1m18 0h1m49 0h1m11 0h1M178 36.5h1M131 37.5h1m76 0h1m2 0h1M27 38.5h1m66 0h1m13 0h1M163 39.5h1M205 40.5h1M85 41.5h1m5 0h1M11 42.5h1m37 0h1m74 0h1M13 43.5h1m15 0h1m11 0h1m6 0h1m25 0h1M26 44.5h1M119 45.5h1M137 46.5h1m51 0h1M38 47.5h1m39 0h1m24 0h1M47 48.5h1m82 0h1m13 0h1M141 49.5h1m32 0h1m4 0h1m9 0h1"/><path stroke="#a898b0" d="M36 1.5h1M77 5.5h1M107 16.5h1M95 21.5h1M38 23.5h1M161 40.5h1M189 43.5h1"/><path stroke="#c8b0c8" d="M45 1.5h1m17 0h1m37 0h1M91 3.5h1m8 0h1M72 5.5h1m5 0h1m1 0h1m28 0h1M38 6.5h1M78 10.5h1M16 13.5h1m3 0h1M77 14.5h1M16 18.5h1M45 22.5h1M13 23.5h2m47 0h1m46 0h1M38 24.5h1M128 26.5h1M175 27.5h1M169 28.5h1m27 0h1M127 29.5h1M154 33.5h1m6 0h1M179 35.5h1m27 0h1M214 36.5h1M118 38.5h1m35 0h1M141 39.5h1M188 40.5h1M151 41.5h1m45 0h1m10 0h1M165 46.5h1"/><path stroke="#a8a0c8" d="M56 1.5h1M15 2.5h1M39 3.5h1M33 13.5h1M47 14.5h1m25 0h1M70 16.5h1M12 17.5h1M0 19.5h1m70 0h1M71 21.5h1M69 23.5h1M6 24.5h1M161 25.5h1M112 27.5h1m47 0h1m4 0h1m22 0h1M153 28.5h1m23 0h1M116 31.5h1m74 0h1m22 0h1M149 32.5h1m5 0h1m1 0h1M127 34.5h1m19 0h1m42 0h1m17 0h1M125 38.5h1m41 0h1m41 0h1M165 40.5h1m10 0h1m31 0h1M132 42.5h1m78 0h1M161 43.5h1m2 0h1M151 47.5h1m54 0h1"/><path stroke="#c8b8c0" d="M57 1.5h1m13 0h1m4 0h1M60 3.5h1m28 0h1M17 4.5h1M21 5.5h1m43 0h1m24 0h1M24 7.5h1m71 0h1m11 0h1M102 10.5h1M66 12.5h1M184 14.5h1M71 15.5h1M31 16.5h1m156 0h1M12 19.5h1M14 21.5h1m42 0h1m5 0h1M57 22.5h1M87 23.5h1M66 24.5h1M163 27.5h1m44 0h1M184 28.5h1M129 31.5h1M97 32.5h1M165 33.5h1M213 36.5h1M202 40.5h1M117 41.5h1m6 0h1M172 43.5h1m7 0h1m6 0h1M201 44.5h1M167 45.5h1M197 46.5h1M129 48.5h1"/><path stroke="#d0a0a0" d="M59 1.5h1m79 0h1m44 0h1M62 2.5h1m53 0h1m5 0h1m62 0h1m20 0h1M117 3.5h1m65 0h1m11 0h1m17 0h1M134 4.5h1m53 0h1m18 0h1M187 5.5h1M191 6.5h1m15 0h1M150 7.5h1m11 0h1m36 0h1m12 0h1M68 8.5h1m43 0h1M166 9.5h1m3 0h1M125 11.5h1m82 0h1M120 12.5h1m77 0h1m5 0h1M175 13.5h1M24 14.5h1m162 0h1M195 15.5h1M162 16.5h1M60 17.5h1m132 0h1M144 18.5h1m36 0h1M158 20.5h1m1 0h1m8 0h1m23 0h1m9 0h1m4 0h1M163 21.5h1m16 0h2m21 0h2M127 22.5h1m22 0h1m15 0h1m6 0h1m2 0h1M208 23.5h1M137 24.5h1m6 0h1m36 0h1M103 25.5h1M39 26.5h1M39 27.5h1M60 28.5h1M44 29.5h1m39 0h1M55 31.5h1M49 32.5h1M35 34.5h1m42 0h1M34 35.5h1m70 0h1M57 36.5h1M94 37.5h1M61 38.5h1m21 0h1m18 0h1M37 42.5h1M71 43.5h1M14 44.5h1m86 0h1M38 45.5h1M18 47.5h1m27 0h1m59 0h1M18 48.5h1m6 0h1M116 49.5h1"/><path stroke="#b898b0" d="M69 1.5h1M132 2.5h1M35 9.5h1M80 11.5h1m15 0h1M191 16.5h1M209 21.5h1M119 31.5h1M132 37.5h1M161 46.5h1"/><path stroke="#d8c8d0" d="M80 1.5h1M11 2.5h1M1 8.5h1M1 13.5h1M10 15.5h1M31 17.5h1M3 21.5h1M1 29.5h2M1 36.5h1m5 0h1M2 37.5h1m163 0h1M207 42.5h1M9 45.5h1m103 0h1"/><path stroke="#b8a0b0" d="M83 1.5h1M49 2.5h1m29 0h1m37 0h1M55 3.5h1m1 0h1M80 4.5h1M74 6.5h1M40 7.5h1m9 0h1m35 0h1m14 0h1M58 9.5h1m11 0h1m116 0h1m18 0h1M36 10.5h1m39 0h1M57 11.5h1m73 0h1M25 12.5h1M40 13.5h1m124 0h1M82 14.5h1m8 0h1M13 15.5h1m81 0h1m14 0h1M65 16.5h1m114 0h1M38 18.5h1M70 19.5h1m4 0h1m7 0h1M50 20.5h1m59 0h1M176 21.5h1M57 23.5h1m35 0h1M103 24.5h1M126 25.5h1m60 0h1M129 26.5h1m42 0h1M147 27.5h1M211 33.5h1M134 35.5h1M152 37.5h1M178 40.5h1M129 41.5h1m77 0h1M174 44.5h1M158 45.5h1M125 46.5h1m7 0h1m57 0h1M162 47.5h1M166 48.5h1"/><path stroke="#b098b8" d="M84 1.5h1M96 21.5h1M190 25.5h1M167 28.5h1M188 29.5h1M213 32.5h1M169 34.5h1M167 47.5h1"/><path stroke="#c0b0d0" d="M85 1.5h1M43 3.5h1m2 0h1M54 5.5h1M20 10.5h1M48 14.5h1M51 16.5h1M8 18.5h1M64 21.5h1M7 23.5h1M209 27.5h1M173 28.5h1M197 31.5h1M180 34.5h1M183 35.5h1M162 36.5h1m44 0h1M215 38.5h1M182 40.5h1M152 44.5h1M123 47.5h1"/><path stroke="#d8b8b0" d="M87 1.5h1m24 0h1M78 2.5h1M114 3.5h1M161 4.5h1M72 6.5h1m14 0h1M71 7.5h1m135 0h1M58 8.5h1m106 0h1M150 9.5h1M210 11.5h1M50 12.5h1m36 0h1M129 13.5h1M183 14.5h1m18 0h1M63 15.5h1M24 17.5h2m46 0h1M185 19.5h1m28 0h1M188 20.5h1M159 21.5h1M119 23.5h1m67 0h1M159 24.5h1M49 25.5h1m89 0h1M69 26.5h1m26 0h1m11 0h1m92 0h1M96 27.5h1M40 28.5h1m3 0h1m9 0h1M13 31.5h1m3 0h1m11 0h1m1 0h1M33 32.5h1m39 0h1M88 33.5h1m75 0h1M88 34.5h1M45 35.5h1m42 0h1M77 38.5h1M169 39.5h1M84 40.5h1m19 0h1M80 41.5h1m12 0h1M93 42.5h1m80 0h1M13 44.5h1m158 0h1M26 46.5h1M39 47.5h1m1 0h1m25 0h1M49 48.5h1M115 49.5h1"/><path stroke="#d0c8d0" d="M91 1.5h1M39 20.5h1M2 41.5h1"/><path stroke="#d0a8b0" d="M92 1.5h1m59 0h1m43 0h1M125 2.5h1M66 3.5h1m73 0h1M18 4.5h1m5 0h1M16 5.5h1m43 0h1M76 6.5h1m103 0h1m24 0h1M28 7.5h1m3 0h1M59 8.5h1m15 0h1M112 9.5h1m63 0h1M66 10.5h1M162 13.5h1M31 15.5h1m72 0h1m64 0h1M155 16.5h1m13 0h1m8 0h1m2 0h1m16 0h1M13 17.5h1m36 0h1M171 19.5h1M195 22.5h1M123 23.5h1m73 0h1m4 0h1M160 24.5h1M47 28.5h1m27 0h1M208 29.5h1M78 32.5h1m21 0h1M46 34.5h1m55 0h1M139 36.5h1M147 37.5h1m67 0h1M42 38.5h1m28 0h1m33 0h1M48 40.5h1M98 42.5h1M38 44.5h1M174 46.5h1M26 48.5h1M148 49.5h1m65 0h1"/><path stroke="#d8c0c8" d="M96 1.5h1M67 3.5h1M62 4.5h1M42 6.5h1m25 0h1M11 7.5h1m10 0h1m35 0h1M19 8.5h1M38 12.5h1m3 0h1m54 0h1M63 17.5h1m1 0h1M1 18.5h1m97 0h1M45 19.5h1m63 0h1M29 20.5h1m74 0h1M84 22.5h1m18 0h1M89 23.5h1m5 0h1M54 24.5h1m49 0h1M169 25.5h1M186 26.5h1m16 0h1M115 28.5h1M119 29.5h1M89 31.5h1M126 33.5h1M129 36.5h1m37 0h1M158 37.5h1m45 0h1M142 39.5h1m38 0h1M118 40.5h1M0 41.5h1m5 0h1M116 44.5h1M140 46.5h1M203 47.5h1M6 48.5h1m110 0h1M135 49.5h1m13 0h1m50 0h1"/><path stroke="#c8b0b0" d="M107 1.5h1M120 2.5h1M67 7.5h1M130 13.5h1M93 19.5h1M78 21.5h1m77 0h1M85 23.5h1M207 24.5h1M192 25.5h1M145 39.5h1M45 42.5h1M139 43.5h1M151 48.5h1"/><path stroke="#c8a8a8" d="M110 1.5h1m23 0h1m16 0h1m55 0h1M154 3.5h1m22 0h1M175 5.5h1M83 6.5h1m69 0h1M12 8.5h1m42 0h1M156 9.5h1m22 0h1M189 11.5h1M37 12.5h1m14 0h1M157 14.5h1m13 0h1m1 0h1M34 15.5h1m77 0h1m31 0h1m21 0h1M59 16.5h1m65 0h1m12 0h1m40 0h1M11 17.5h1m22 0h1M82 18.5h1m130 0h1M167 19.5h1M170 20.5h1M186 21.5h1m27 0h1M161 22.5h1M141 23.5h1M52 24.5h1m140 0h1m9 0h1m5 0h1m4 0h1M71 28.5h1M128 29.5h1m6 0h1m68 0h1M44 31.5h1m3 0h1m5 0h1M51 32.5h1M148 33.5h1M20 38.5h1m63 0h1M48 39.5h1M45 47.5h1m53 0h1M190 49.5h1"/><path stroke="#c89088" d="M113 1.5h1M127 3.5h1M167 4.5h1M124 7.5h1M163 12.5h1M136 21.5h1m34 0h1M136 22.5h1M169 23.5h1"/><path stroke="#d09890" d="M116 1.5h1m16 0h1m52 0h1m4 0h1m21 0h1M140 2.5h1m40 0h1m12 0h2M180 5.5h1M112 6.5h1m73 0h1m9 0h1M141 7.5h1m47 0h1m11 0h1M134 9.5h1m60 0h1M117 11.5h1m5 0h1m74 0h1M200 13.5h1m3 0h1M138 14.5h1m19 0h1m17 0h1M167 15.5h1m18 0h1m13 0h1M154 16.5h1M182 17.5h1M147 18.5h2M116 20.5h1m3 0h1m24 0h1m7 0h1m23 0h1m21 0h1m5 0h1m9 0h1M127 21.5h1m20 0h1M145 22.5h1m56 0h1m5 0h1M130 23.5h1M119 24.5h1m41 0h1m4 0h1m37 0h1M27 25.5h1M16 26.5h1M90 27.5h1M66 33.5h1m22 0h1M67 34.5h1M68 38.5h1M40 42.5h1M17 43.5h1M57 44.5h1m16 0h1M23 45.5h1M38 46.5h1M19 47.5h1M98 48.5h1"/><path stroke="#c09098" d="M117 1.5h1M204 11.5h1"/><path stroke="#d0a098" d="M118 1.5h1m11 0h1m7 0h1m18 0h1M135 2.5h1m12 0h1m2 0h1m52 0h1M126 3.5h1m5 0h1M35 4.5h1m136 0h1m8 0h1m30 0h1m2 0h1M137 5.5h1m2 0h1m24 0h1m11 0h1m7 0h2m6 0h1M132 6.5h1m33 0h1M184 7.5h1M121 8.5h1m33 0h1m12 0h1m20 0h1M118 9.5h1m8 0h1m54 0h1m14 0h1M143 10.5h1m8 0h1m7 0h1M121 11.5h1m6 0h1m23 0h2m5 0h1m1 0h1m33 0h1m5 0h1M131 12.5h1m35 0h1m16 0h1m24 0h1M114 13.5h1m3 0h1m7 0h1m47 0h1m26 0h1M115 14.5h1m9 0h1m4 0h1m10 0h1m24 0h1m43 0h1M28 15.5h1m131 0h1M173 16.5h1M191 17.5h1M113 18.5h1m5 0h2m18 0h1m52 0h1m2 0h1m12 0h1m5 0h1M127 19.5h1m21 0h2m1 0h1m47 0h1M136 20.5h1m72 0h1M114 21.5h1m19 0h1m11 0h1m8 0h1m31 0h1m17 0h1M126 23.5h1m16 0h1m59 0h1m6 0h1M130 24.5h1m71 0h1m5 0h1M93 25.5h1M46 26.5h1M85 27.5h1M52 28.5h1m57 0h1M14 31.5h1m9 0h1M20 32.5h1M30 34.5h1M109 36.5h1M25 38.5h1m23 0h1M13 42.5h1m89 0h1m2 0h1M58 43.5h1M109 44.5h1M81 45.5h1M66 46.5h1M31 47.5h1m52 0h1M18 49.5h1m147 0h1"/><path stroke="#d0a8a0" d="M122 1.5h1m32 0h1M169 2.5h1m4 0h1m28 0h1m7 0h1m3 0h1M116 3.5h1m22 0h1m6 0h1m1 0h1m9 0h1m26 0h1M179 4.5h1m13 0h1M158 5.5h1m32 0h1m5 0h1m8 0h1M179 6.5h1M158 8.5h1M136 9.5h1M116 11.5h1m64 0h1m5 0h1m11 0h1M125 12.5h1m69 0h1M137 13.5h1m3 0h1m15 0h1m40 0h1M137 14.5h1m43 0h1m11 0h1m2 0h1M138 15.5h1m35 0h1m37 0h1M166 16.5h1M104 18.5h1m44 0h1m23 0h1m22 0h1M140 19.5h1m28 0h2m1 0h1m3 0h1m4 0h1M127 20.5h1m22 0h1M153 21.5h1m3 0h1M206 22.5h1M182 23.5h1m22 0h1M13 26.5h1m83 0h1M31 27.5h1M93 28.5h1m10 0h1M108 29.5h1M100 31.5h1M32 32.5h1m4 0h1M72 34.5h1m36 0h1M93 35.5h1M23 39.5h1m18 0h1m42 0h1M74 40.5h1m32 0h1M97 41.5h1m10 0h1M50 42.5h1m53 0h1M98 43.5h1m75 0h1M81 44.5h1M97 46.5h1M49 47.5h1m8 0h1m24 0h1M41 48.5h1m14 0h1m19 0h1m16 0h1M196 49.5h1m13 0h1"/><path stroke="#c8a0a0" d="M123 1.5h1m18 0h1m25 0h1M160 2.5h1m14 0h1m1 0h1m22 0h1M137 3.5h1m7 0h1m13 0h1M138 4.5h1m1 0h1m3 0h1m31 0h1m36 0h1M86 5.5h1m16 0h1m104 0h1M36 6.5h1m108 0h1M80 7.5h1M40 8.5h1M190 9.5h1M83 10.5h1m66 0h1M206 11.5h1M128 12.5h1m50 0h1m22 0h1M188 13.5h1m13 0h1M55 14.5h1m39 0h1m63 0h1m10 0h1m43 0h1M82 15.5h1m87 0h2M115 16.5h1m2 0h1m46 0h1m43 0h1M121 18.5h1m64 0h1m18 0h1M126 19.5h1m17 0h1m2 0h1m31 0h1m4 0h1m5 0h1m19 0h1M114 20.5h1m7 0h1m5 0h1m63 0h1m21 0h1M73 21.5h1m46 0h1m22 0h1M126 22.5h1m15 0h1M149 23.5h1m26 0h1m4 0h1m32 0h1M188 24.5h1M26 26.5h1M71 27.5h1M64 28.5h1M120 29.5h1M94 31.5h1M75 32.5h1M80 34.5h1M151 37.5h1M115 39.5h1M92 43.5h1M84 44.5h1M63 47.5h1m4 0h1m31 0h1M163 49.5h1"/><path stroke="#d8b0a0" d="M124 1.5h1m22 0h1M213 5.5h1m1 0h1M120 6.5h1M28 8.5h1m124 0h1M185 9.5h1M133 11.5h1M192 13.5h1M180 14.5h1M152 15.5h1M182 19.5h1M193 21.5h1M137 23.5h1m1 0h1M122 24.5h1M25 25.5h1M33 28.5h1m14 0h1M40 33.5h1M64 34.5h1M109 38.5h1M20 43.5h1m5 0h1M29 48.5h1"/><path stroke="#c8a8b0" d="M125 1.5h1m34 0h1M80 2.5h1m2 0h1m28 0h1m46 0h1M29 3.5h1m42 0h1m5 0h1m25 0h1m29 0h1m29 0h1m41 0h1M51 4.5h2m4 0h1m147 0h1M14 5.5h1m36 0h1m46 0h1m77 0h1M59 6.5h1m42 0h1M84 7.5h1m5 0h1m12 0h1M34 8.5h1m57 0h1m16 0h1M23 9.5h1m71 0h1m11 0h1m24 0h1m26 0h1m8 0h1m24 0h1m4 0h1m4 0h2M42 10.5h1M20 11.5h1m21 0h1m122 0h1m17 0h1M54 12.5h1M28 13.5h1m41 0h1m56 0h1m16 0h1m3 0h1m56 0h1m7 0h1M21 14.5h2m27 0h1m33 0h1m2 0h1m17 0h1m3 0h2m57 0h1M15 15.5h1m46 0h1m73 0h1m27 0h1M42 16.5h1m20 0h1m57 0h1m6 0h1m23 0h1m23 0h1M21 18.5h1m20 0h1m25 0h1m10 0h1m3 0h1m5 0h1m2 0h1m2 0h1m9 0h1m1 0h1m85 0h1m12 0h1M13 19.5h1m15 0h1m46 0h1m3 0h1m94 0h1M37 20.5h1m15 0h1m30 0h1m46 0h1m12 0h1m46 0h1M43 21.5h1m15 0h1m57 0h1m40 0h1M16 22.5h1m63 0h1m27 0h1M27 23.5h1m5 0h1m164 0h1M36 24.5h1m38 0h1m94 0h1M94 25.5h1m34 0h1m73 0h1M119 26.5h1M46 27.5h1m69 0h1m12 0h1m7 0h1m10 0h1M20 28.5h1m193 0h1M118 29.5h1m18 0h1m24 0h1m22 0h1M12 31.5h1M63 32.5h1m6 0h1m18 0h1m1 0h1m13 0h1M115 33.5h1m11 0h1m10 0h2m17 0h1m41 0h1M71 34.5h1m9 0h1M144 35.5h1m18 0h1m10 0h1M146 36.5h1M172 37.5h1m1 0h1m13 0h1m3 0h1m1 0h1M37 38.5h1m27 0h1M168 39.5h1m27 0h1M142 40.5h1m21 0h1M64 42.5h1M18 43.5h1m14 0h1m169 0h1M119 44.5h1M150 45.5h1m57 0h1M162 46.5h1m10 0h1M105 47.5h1m1 0h1m91 0h1M125 49.5h1m10 0h1m24 0h1m33 0h1m2 0h1m6 0h1"/><path stroke="#e0b0b0" d="M131 1.5h1M142 3.5h1M140 9.5h1M185 11.5h1M158 12.5h1M151 14.5h1M89 27.5h1M99 28.5h1M80 32.5h1M71 33.5h1M38 37.5h1M88 48.5h1"/><path stroke="#c0a0a8" d="M132 1.5h1m43 0h1m21 0h1M176 2.5h1m16 0h1m15 0h1M52 3.5h1m49 0h2m16 0h1M206 4.5h1M63 5.5h1M62 6.5h1m22 0h1m12 0h1m8 0h1M205 11.5h1M159 13.5h1m1 0h1M64 14.5h1M114 16.5h1m85 0h1M49 18.5h1M189 19.5h1m8 0h1M27 20.5h1m74 0h1m14 0h1m19 0h1M72 21.5h1M77 22.5h1M68 23.5h1M149 24.5h1m27 0h1m22 0h1M135 25.5h1M146 27.5h1M89 28.5h1M97 31.5h1M47 32.5h1M131 33.5h1m43 0h1M116 45.5h1m49 0h1M207 46.5h1M34 47.5h1M164 49.5h1"/><path stroke="#d8a8a8" d="M135 1.5h1M127 2.5h1m69 0h1M136 3.5h1m52 0h1m4 0h1M87 5.5h1m78 0h3M63 6.5h1m28 0h1m2 0h1M105 7.5h1m65 0h1m28 0h1M11 8.5h1m37 0h1m83 0h1M175 9.5h1M161 10.5h1M126 11.5h1m5 0h1m15 0h1m60 0h1M214 13.5h1M208 15.5h1M130 16.5h1m14 0h1m62 0h1M209 19.5h1M14 20.5h1m118 0h1m32 0h1m17 0h1M151 21.5h1M171 22.5h1M156 23.5h1M192 24.5h1M19 25.5h1M101 26.5h1M107 27.5h1M24 28.5h1M56 32.5h1M48 33.5h1M13 35.5h1m82 0h1M80 36.5h1m4 0h1M24 37.5h1M48 38.5h1M21 40.5h1m16 0h1M68 42.5h2m30 0h1M47 43.5h1m37 0h1M92 44.5h1M99 48.5h1M172 49.5h1m38 0h1"/><path stroke="#d0a090" d="M136 1.5h1m27 0h1M180 4.5h1M145 5.5h1M174 6.5h1M137 8.5h1m70 0h1M215 9.5h1M144 10.5h1m14 0h1M113 14.5h1M205 15.5h1M186 16.5h1M188 18.5h1M131 19.5h1M181 20.5h1M131 24.5h1M15 35.5h1M77 39.5h1M87 40.5h1M76 43.5h1M62 44.5h1M107 45.5h1M57 46.5h1"/><path stroke="#c898a0" d="M148 1.5h1M213 2.5h1M191 9.5h1M33 12.5h1M168 13.5h1M150 36.5h1"/><path stroke="#d09898" d="M165 1.5h1M167 3.5h1M147 6.5h1M116 14.5h1M136 18.5h1M141 22.5h1M148 24.5h1M110 26.5h1M63 34.5h1"/><path stroke="#c89890" d="M178 1.5h1m8 0h1M178 3.5h1m35 0h1M139 5.5h1M150 6.5h1M194 11.5h1M119 13.5h1M117 18.5h1M139 20.5h1m36 0h1m13 0h1M160 21.5h1m8 0h1M187 22.5h1m8 0h1M186 23.5h1M17 26.5h1M83 35.5h1"/><path stroke="#c8a0a8" d="M195 1.5h1M113 2.5h1m87 0h1M212 3.5h1M86 4.5h1m35 0h1m80 0h1M88 5.5h1m32 0h1M89 6.5h1M122 7.5h1M35 8.5h1M119 9.5h1m2 0h1M177 11.5h1M182 12.5h1M82 13.5h1m64 0h1m23 0h1m13 0h1m9 0h1M145 14.5h1m59 0h1m6 0h1M206 15.5h1M113 16.5h1m34 0h1M41 17.5h1m25 0h1M198 18.5h1M141 19.5h1M202 20.5h1m8 0h1M121 21.5h1m15 0h1m75 0h1M51 22.5h1m87 0h1m39 0h1M144 23.5h1m5 0h1M112 24.5h1M133 26.5h1M116 33.5h1M18 34.5h1m30 0h1m6 0h1M188 36.5h1M130 37.5h1M52 38.5h1M143 41.5h1M214 45.5h1M145 49.5h1m56 0h1"/><path stroke="#c0a8b0" d="M199 1.5h1M51 2.5h1m92 0h1M110 3.5h1m61 0h1M27 4.5h1m12 0h1m26 0h1m141 0h1M25 6.5h1m65 0h1m120 0h1M59 9.5h1m113 0h1M14 10.5h1m12 0h1M23 11.5h1m9 0h1m54 0h1M47 13.5h1m1 0h1m40 0h1m1 0h1M36 14.5h1m59 0h1M106 15.5h2M48 16.5h1M12 18.5h1m83 0h1M96 19.5h1M90 23.5h1m41 0h1M166 26.5h1M164 29.5h1m27 0h1m3 0h1M181 31.5h1M44 34.5h1M158 36.5h1m51 0h1M153 37.5h1M184 39.5h1M192 40.5h1m21 0h1M115 41.5h1m54 0h1m1 0h1m23 0h1M169 43.5h1M144 45.5h1M124 47.5h1M176 49.5h1m14 0h1"/><path stroke="#b8b8d0" d="M0 2.5h1M5 3.5h1M7 5.5h1M97 22.5h1M211 25.5h1M160 35.5h1"/><path stroke="#b8b8d8" d="M5 2.5h1m3 0h1M2 8.5h1M3 9.5h1M5 12.5h1m3 0h1M8 13.5h1M2 18.5h1m3 0h1M6 19.5h1M6 20.5h1M2 21.5h1m1 0h1m1 0h1M10 23.5h1M170 26.5h1M2 36.5h1m5 0h1"/><path stroke="#d0c8e0" d="M10 2.5h1M4 17.5h1"/><path stroke="#d0b8b8" d="M23 2.5h1m60 0h2M22 4.5h1m54 0h1m13 0h1M53 5.5h1m14 0h1M31 6.5h1M59 7.5h1M26 8.5h1m16 0h1m54 0h1M155 9.5h1M49 10.5h1m34 0h1M23 12.5h1M76 14.5h1m44 0h1M52 15.5h1m7 0h1M157 16.5h1M21 17.5h1m48 0h1M212 18.5h1M34 19.5h1m1 0h1m125 0h1M41 20.5h1m56 0h1M126 21.5h1m15 0h1M162 23.5h1M138 26.5h1M130 27.5h1M143 29.5h1M60 32.5h1m13 0h1m1 0h1m8 0h1M179 33.5h1m15 0h1m18 0h1M16 34.5h1m15 0h1m60 0h1M47 35.5h1m144 0h1m2 0h2m4 0h1M12 36.5h1m147 0h1M213 37.5h1M128 39.5h1m20 0h1m7 0h1M149 40.5h1M204 42.5h1M93 43.5h1M121 45.5h1m15 0h1M173 49.5h1"/><path stroke="#d0b0c0" d="M41 2.5h1m94 0h1M66 5.5h1M51 6.5h1M39 7.5h1M11 10.5h1m22 0h1M35 12.5h1M88 19.5h1M53 22.5h1m55 0h1M196 25.5h1M119 27.5h1M133 29.5h1m13 0h1m45 0h1M164 39.5h1M151 40.5h1m59 0h1M191 41.5h1M140 42.5h1M201 43.5h1M91 44.5h1m63 0h1M163 48.5h1"/><path stroke="#b0a0c8" d="M52 2.5h1M15 21.5h1M182 27.5h1M123 28.5h1M114 31.5h1M188 32.5h1M159 38.5h1M150 40.5h1M114 41.5h1M128 47.5h1M126 48.5h1"/><path stroke="#b090a8" d="M95 2.5h1"/><path stroke="#e0b8b0" d="M131 2.5h1m13 0h1m41 0h1m8 0h1M156 3.5h1M72 4.5h1m50 0h1m33 0h1m37 0h1M95 5.5h1M204 6.5h1M114 7.5h1m79 0h1M104 8.5h1M35 11.5h1m91 0h1m21 0h1M121 12.5h1M28 14.5h1m98 0h1M87 15.5h1m41 0h1M164 16.5h1M183 19.5h1M129 20.5h1m25 0h1m6 0h1M133 21.5h1m44 0h1m13 0h1M83 22.5h1m74 0h1M138 23.5h1M31 25.5h1m46 0h1m2 0h1m1 0h1M0 26.5h1m29 0h1m35 0h1m17 0h1m3 0h1M15 27.5h1m21 0h1m11 0h1M23 28.5h1m12 0h1m4 0h1m1 0h1m15 0h1m2 0h1m32 0h1m1 0h1M213 29.5h1M23 31.5h1m3 0h1m6 0h1m6 0h2m22 0h1m15 0h1M5 32.5h1m18 0h1m11 0h1m4 0h1m8 0h1m18 0h1m9 0h1m1 0h1m26 0h1M20 33.5h1m48 0h1M21 34.5h1m6 0h1m12 0h1m1 0h1m25 0h1m5 0h1M8 35.5h1m8 0h1m53 0h1m28 0h1M19 36.5h1m1 0h1m22 0h1m2 0h1m5 0h1m1 0h1m2 0h1m12 0h1m9 0h1m6 0h1M8 37.5h1M22 38.5h1m16 0h1m30 0h1m27 0h1m2 0h1M93 39.5h1m2 0h1M20 40.5h1m1 0h1m9 0h1m4 0h1m39 0h1m22 0h1m2 0h1M25 41.5h1m9 0h1m11 0h1M83 42.5h1M12 43.5h1m19 0h1m1 0h1m19 0h1m26 0h1m2 0h1m17 0h1M16 44.5h2m6 0h1m9 0h1m5 0h2m2 0h1m20 0h1m27 0h1M12 45.5h1m12 0h1M32 46.5h2m129 0h1M40 47.5h1m14 0h1m33 0h2M38 48.5h1m57 0h1M10 49.5h1"/><path stroke="#e0c0b8" d="M141 2.5h1M36 5.5h1M43 6.5h1m65 0h1M42 7.5h1M70 8.5h1m31 0h1M192 9.5h1M173 11.5h1M120 14.5h1M27 17.5h1M202 19.5h1m4 0h1M165 23.5h1M2 25.5h1m42 0h1m28 0h1M2 27.5h1M50 28.5h1m25 0h1M90 31.5h1M2 32.5h1m6 0h1M5 34.5h1m64 0h1M5 35.5h1m91 0h1M97 36.5h1M5 37.5h1m10 0h1M3 39.5h1M8 40.5h1m79 0h1M94 41.5h1M16 43.5h1m66 0h1m4 0h1m11 0h1M6 44.5h1m14 0h1M1 46.5h1m14 0h1m71 0h1"/><path stroke="#c89090" d="M157 2.5h1M194 12.5h1m11 0h1M133 19.5h1M174 20.5h1M149 21.5h1"/><path stroke="#e8a898" d="M186 2.5h1M124 3.5h1M117 5.5h1M137 10.5h1M205 12.5h1M200 23.5h1M67 26.5h1m36 0h1M86 29.5h1M64 33.5h1M20 35.5h1m9 0h1M101 40.5h1M104 46.5h1"/><path stroke="#c8c0d0" d="M4 3.5h1M6 8.5h1M86 9.5h1M62 11.5h1m26 0h1M2 13.5h1M10 14.5h1M9 15.5h1M20 17.5h1M4 18.5h1M47 19.5h1M32 20.5h1M8 21.5h1M148 25.5h1M139 26.5h1M135 28.5h1m34 0h1M5 29.5h2m172 0h1M188 35.5h1M171 36.5h1M190 37.5h1M147 41.5h1M166 42.5h1M181 43.5h1M164 45.5h1M160 49.5h1"/><path stroke="#a8a0d0" d="M6 3.5h1M0 5.5h1m5 0h1M10 6.5h1M4 7.5h1m2 0h1"/><path stroke="#d0a0a8" d="M27 3.5h1m153 0h1M212 5.5h1M77 18.5h1M16 25.5h1"/><path stroke="#a898b8" d="M54 3.5h1M98 13.5h1M69 15.5h1M58 21.5h1M45 23.5h1M25 24.5h1m32 0h1m23 0h1M211 26.5h1M193 28.5h1M141 31.5h2m9 0h1m23 0h1M116 32.5h1m7 0h1m42 0h1M130 34.5h1m44 0h1m9 0h1m13 0h1M125 35.5h1m86 0h1M121 36.5h1m43 0h1M120 37.5h1M156 39.5h1M134 40.5h1m74 0h1M215 41.5h1M121 42.5h1M134 43.5h1m20 0h1m27 0h1M154 44.5h1M134 47.5h2m46 0h1"/><path stroke="#c0b8c8" d="M70 3.5h1M23 7.5h1M88 9.5h1m9 0h1M37 10.5h1M26 12.5h1M22 16.5h1M60 20.5h1M22 23.5h1M17 24.5h1m53 0h1M140 26.5h1M182 29.5h1M177 35.5h1M149 36.5h1M113 40.5h1M149 42.5h1m35 0h1M147 46.5h1M207 49.5h1"/><path stroke="#c0b0b8" d="M96 3.5h1M61 6.5h1M106 20.5h1M43 24.5h1M115 26.5h1M146 32.5h1M120 35.5h1M138 39.5h1M154 42.5h1M215 45.5h1M189 48.5h1"/><path stroke="#a090b0" d="M97 3.5h1M117 28.5h1M159 31.5h1M118 34.5h1M182 37.5h1M208 38.5h1M156 47.5h1"/><path stroke="#c89898" d="M133 3.5h1M128 4.5h1m67 0h1M136 5.5h1m61 0h1M112 7.5h1M113 9.5h1m43 0h1M189 12.5h1M177 13.5h1m19 0h1M165 14.5h1m40 0h1M114 15.5h1m50 0h1m10 0h1M192 16.5h1m22 0h1M167 18.5h1M148 19.5h1m28 0h1m13 0h1M123 20.5h1m8 0h1m63 0h1M112 21.5h1m76 0h1m5 0h1m15 0h1M117 22.5h1m30 0h1m50 0h1M193 23.5h1M162 24.5h1m43 0h1M83 31.5h1M12 33.5h1M44 43.5h1"/><path stroke="#b890a0" d="M171 3.5h1"/><path stroke="#c8a098" d="M188 3.5h1M165 7.5h1M198 8.5h1M116 9.5h1M163 16.5h1M24 22.5h1M95 31.5h1M53 34.5h1M54 47.5h1"/><path stroke="#c09090" d="M203 3.5h1M184 5.5h1M178 6.5h1M24 8.5h1M202 9.5h1M141 15.5h1M187 18.5h1M149 20.5h1m54 0h1M168 21.5h1"/><path stroke="#c0c0e0" d="M2 4.5h1"/><path stroke="#b0b0d8" d="M6 4.5h1M9 6.5h1M8 9.5h1M2 14.5h1M6 15.5h1M7 16.5h1M6 17.5h1"/><path stroke="#b098a8" d="M15 4.5h1M101 5.5h1M88 14.5h1M61 24.5h1M183 27.5h1M202 28.5h1"/><path stroke="#e0c0c0" d="M23 4.5h1m20 0h1m23 0h1M26 5.5h1m1 0h1M62 8.5h1M67 15.5h1M212 16.5h1M3 18.5h1m72 0h1M28 19.5h1m85 0h1M30 20.5h1M103 23.5h1m62 0h1M24 25.5h1m19 0h1m52 0h1M6 26.5h1M45 27.5h1M57 28.5h1m16 0h1M149 29.5h1M0 31.5h1M106 32.5h1M47 34.5h1M6 35.5h1m108 0h1m25 0h1M0 37.5h1M0 38.5h1M116 39.5h1M67 40.5h1M7 44.5h1M0 45.5h1m1 0h1m160 0h1M4 46.5h1m3 0h1M9 47.5h1m40 0h1M7 48.5h1m2 0h1M151 49.5h1m5 0h1"/><path stroke="#b898a8" d="M32 4.5h1m123 0h1M79 6.5h1m126 0h1M117 9.5h1M104 11.5h1M66 14.5h1m115 0h1M177 16.5h1M179 24.5h1M169 37.5h1M202 39.5h1M143 44.5h1M170 46.5h1"/><path stroke="#d8b0b8" d="M33 4.5h1m56 0h1M89 8.5h1M99 15.5h1M214 16.5h1M125 21.5h1M102 23.5h1m50 0h1M208 26.5h1M19 31.5h1m17 0h1M26 32.5h1M42 34.5h1m9 0h1M18 38.5h1M47 47.5h1m60 0h1"/><path stroke="#e0c8c8" d="M50 4.5h1M53 6.5h1m13 0h1M82 7.5h1M100 12.5h1M15 17.5h1M7 18.5h1M5 27.5h1M6 28.5h1m3 0h1M6 34.5h1m85 0h1m53 0h1M10 37.5h1m130 0h1M9 38.5h1m44 0h1M7 39.5h1M205 45.5h1M53 47.5h1M8 49.5h1"/><path stroke="#c09898" d="M70 4.5h1m131 0h1M169 9.5h1M190 11.5h1M165 12.5h1M115 13.5h1M177 14.5h1m23 0h1M151 16.5h1M142 18.5h1m64 0h1M182 24.5h1"/><path stroke="#d89078" d="M120 4.5h1M118 5.5h1m77 0h1M151 6.5h1M139 7.5h1m6 0h1m41 0h1M114 8.5h1m32 0h1m3 0h1M128 10.5h1m1 0h1M95 17.5h1m84 0h1m23 0h1M162 22.5h1M50 29.5h1M52 33.5h1M59 40.5h1M86 45.5h1M82 49.5h1"/><path stroke="#e8b0a0" d="M163 4.5h1m35 0h1M194 6.5h1M190 7.5h1M212 8.5h1M112 13.5h1m40 0h1M128 14.5h1m13 0h1M86 17.5h1M137 22.5h1M112 23.5h1M138 24.5h1M22 25.5h1m34 0h1m30 0h2M7 26.5h1m57 0h1m32 0h1M11 27.5h1m83 0h1M34 28.5h1m35 0h1M42 29.5h2m1 0h1m53 0h1m3 0h1M87 32.5h1M1 33.5h1m39 0h1m64 0h2M13 34.5h1m51 0h1m16 0h1M3 35.5h1m23 0h1m75 0h1m6 0h1M75 36.5h1M1 37.5h1m12 0h1m15 0h1m4 0h1m7 0h1m2 0h1m8 0h1m18 0h1M24 38.5h1M79 39.5h1M13 40.5h1M33 41.5h1M59 44.5h1m27 0h1M22 46.5h1m40 0h1M3 47.5h1M20 48.5h1m12 0h1m23 0h1m44 0h1M20 49.5h1m21 0h2m65 0h1"/><path stroke="#d0b0a8" d="M168 4.5h1M193 6.5h1M69 8.5h1M200 9.5h1M144 22.5h1M134 23.5h1M68 25.5h1M32 26.5h1m31 0h1M25 27.5h1m188 0h1M61 28.5h1M40 32.5h1m57 0h1M24 34.5h1m1 0h1M56 38.5h1M32 39.5h1m129 0h1M104 41.5h1M69 43.5h1M32 44.5h1m14 0h1"/><path stroke="#b0b0d0" d="M1 5.5h1M0 9.5h1M9 11.5h1M2 12.5h1m7 0h1M6 14.5h1M5 19.5h1m2 0h1M9 20.5h1M6 23.5h1M7 24.5h1m38 0h1M185 28.5h1M119 32.5h1M206 33.5h1M207 34.5h1M155 40.5h1m28 0h1M132 43.5h1m75 0h1"/><path stroke="#98a0d0" d="M9 5.5h1"/><path stroke="#d8c8c8" d="M46 5.5h1M44 9.5h1M1 15.5h1"/><path stroke="#b0a0b0" d="M94 5.5h1M142 25.5h1M144 31.5h1M137 44.5h1"/><path stroke="#e09888" d="M148 5.5h1M176 8.5h1M126 18.5h1M36 29.5h1M46 33.5h1M23 37.5h1M24 39.5h1m84 0h1M99 49.5h1"/><path stroke="#e0b8b8" d="M11 6.5h1M132 7.5h1M22 8.5h1m13 0h1M186 13.5h1M197 16.5h1M24 18.5h1m41 0h1M194 21.5h1m2 0h1M60 25.5h1m11 0h1M11 26.5h1M15 28.5h1M56 31.5h1m12 0h1m37 0h1M42 32.5h1m34 0h1M48 34.5h1M19 35.5h1m81 0h1M68 36.5h1M123 37.5h1M97 38.5h1M56 39.5h1M21 42.5h1m64 0h1M22 43.5h1M54 44.5h1m45 0h1M65 46.5h1m26 0h1M77 47.5h1m18 0h1M119 48.5h1"/><path stroke="#c8a0b0" d="M46 6.5h1M106 8.5h1M113 35.5h1"/><path stroke="#c098a8" d="M65 6.5h1M96 32.5h1M123 36.5h1"/><path stroke="#d08878" d="M123 6.5h1M114 12.5h1m98 0h1M184 17.5h1M21 35.5h1"/><path stroke="#e0a080" d="M127 6.5h1M164 8.5h1M115 10.5h2M142 11.5h1M94 17.5h1m83 0h1m10 0h1m7 0h1M59 26.5h1M28 29.5h1m20 0h1m25 0h1m13 0h1M87 39.5h2M22 45.5h1m45 0h1M11 49.5h1"/><path stroke="#a0a0c8" d="M6 7.5h1M6 11.5h1M4 16.5h1M212 25.5h1M187 28.5h1M134 31.5h1m20 0h1M142 32.5h1m41 0h1m16 0h1m4 0h1M117 34.5h1m7 0h1m58 0h1m21 0h1M152 38.5h1m25 0h1m12 0h1M209 41.5h1M180 42.5h1M121 48.5h1"/><path stroke="#c88880" d="M113 7.5h1M124 14.5h1"/><path stroke="#d89890" d="M138 7.5h1M124 9.5h1m18 0h1m20 0h1M146 11.5h1M132 12.5h1M119 15.5h1M105 17.5h1M152 24.5h1M27 40.5h1M12 41.5h1M59 48.5h1"/><path stroke="#c08888" d="M173 7.5h1"/><path stroke="#d0c0d8" d="M5 8.5h1M102 19.5h1M99 20.5h1M10 29.5h1M196 38.5h1"/><path stroke="#e8c8c0" d="M88 8.5h1M2 26.5h1M0 27.5h1M148 29.5h1M2 31.5h1m4 0h1m1 0h1M0 32.5h1m3 0h1m1 0h1M8 34.5h2M9 37.5h1M2 38.5h1m5 0h1m1 0h1M0 39.5h1m7 0h1m82 0h1M0 40.5h1M88 41.5h1M5 44.5h1M3 45.5h1m1 0h1M0 46.5h1m2 0h1M4 47.5h2m2 0h1M5 48.5h1m2 0h2"/><path stroke="#e8a080" d="M120 8.5h1M163 10.5h1M192 11.5h1M90 17.5h1m18 0h1m84 0h1M12 29.5h1m46 0h1M68 35.5h1M61 36.5h1M61 37.5h1M5 42.5h1M17 45.5h1m18 0h1M35 49.5h1m5 0h1m16 0h1"/><path stroke="#e8b8a0" d="M141 8.5h1M117 15.5h1m22 0h1M113 20.5h1M1 25.5h1M1 26.5h1M92 29.5h1M1 31.5h1M65 33.5h1M1 34.5h1M10 35.5h1m76 0h1M29 37.5h1m11 0h1M4 40.5h1m20 0h1M51 46.5h1m12 0h1M3 49.5h1"/><path stroke="#d89070" d="M146 8.5h1M124 12.5h1M130 19.5h1M82 40.5h1"/><path stroke="#c098a0" d="M190 8.5h1M167 9.5h1M167 13.5h1m31 0h1M30 14.5h1m147 0h1M160 16.5h1m14 0h1M196 21.5h1M175 35.5h1M168 37.5h1M27 47.5h1"/><path stroke="#a890b0" d="M96 9.5h1M124 25.5h1M122 31.5h1M128 32.5h1m86 0h1M186 44.5h1M150 46.5h1M155 47.5h1"/><path stroke="#b89098" d="M121 9.5h1M204 19.5h1M117 23.5h1M189 24.5h1M91 40.5h1"/><path stroke="#c0a0a0" d="M172 9.5h1M133 16.5h1M160 23.5h1M213 24.5h1"/><path stroke="#f0d8d8" d="M3 10.5h1m207 0h1M25 30.5h1m33 0h1m18 0h1m5 0h1m20 0h1M3 43.5h2m3 0h1"/><path stroke="#f0e0e8" d="M7 10.5h1"/><path stroke="#e08868" d="M113 10.5h1M177 17.5h1m7 0h1m24 0h1"/><path stroke="#e8a888" d="M166 10.5h1M92 17.5h1m77 0h1M118 19.5h1M74 27.5h1M34 29.5h1m4 0h1m64 0h1M36 36.5h1M50 39.5h1M75 41.5h1M0 42.5h1m1 0h1M31 45.5h1m42 0h1m29 0h1M62 46.5h1M31 48.5h1M36 49.5h1m46 0h1"/><path stroke="#e8e0e8" d="M171 10.5h1M2 22.5h1m1 0h2m3 0h1M17 30.5h1m88 0h1m22 0h1m18 0h1"/><path stroke="#e8d0d0" d="M192 10.5h1M107 30.5h1M6 37.5h1M6 39.5h1M6 47.5h1"/><path stroke="#c8b8d8" d="M3 11.5h1M3 20.5h1"/><path stroke="#c8c8e0" d="M7 11.5h1M3 12.5h1"/><path stroke="#c0a0b8" d="M49 11.5h1M61 15.5h1M69 18.5h1M76 20.5h1M175 39.5h1m3 0h1"/><path stroke="#e8c8c8" d="M63 11.5h1M9 25.5h1M10 32.5h1M4 39.5h1M3 41.5h2M10 45.5h1M2 46.5h1M2 47.5h1"/><path stroke="#a098c8" d="M71 11.5h1M2 23.5h1M117 31.5h1M171 32.5h1m7 0h1M161 44.5h1"/><path stroke="#b898a0" d="M155 11.5h1M91 18.5h1m109 0h1M191 24.5h1"/><path stroke="#c88878" d="M163 11.5h1"/><path stroke="#d88870" d="M172 11.5h1M203 17.5h1M129 22.5h1"/><path stroke="#c8c0e0" d="M7 12.5h1"/><path stroke="#d8c0b8" d="M107 12.5h1M106 27.5h1"/><path stroke="#d09880" d="M215 12.5h1"/><path stroke="#c0c0d8" d="M4 13.5h1m5 0h1M10 19.5h1M0 21.5h1M8 41.5h1M160 43.5h1"/><path stroke="#9088b8" d="M62 13.5h1M212 31.5h1M137 34.5h1m23 0h1M120 43.5h1M204 47.5h1"/><path stroke="#c89080" d="M139 13.5h1M132 19.5h1"/><path stroke="#b8a0c0" d="M34 16.5h1M101 24.5h1M194 26.5h1M212 38.5h1M161 48.5h1"/><path stroke="#e0c8c0" d="M183 16.5h1M6 27.5h1M0 34.5h1M2 39.5h1M0 48.5h1M6 49.5h1"/><path stroke="#d8d0e0" d="M1 17.5h1"/><path stroke="#e0c0c8" d="M49 17.5h1"/><path stroke="#d8d0d8" d="M125 17.5h1M7 20.5h1M3 36.5h1"/><path stroke="#e0d8e8" d="M144 17.5h1M154 30.5h1m27 0h1m10 0h1"/><path stroke="#e8d8e8" d="M155 17.5h1"/><path stroke="#e09870" d="M211 17.5h1M27 45.5h1"/><path stroke="#e8c0b0" d="M87 20.5h1M174 21.5h1M5 25.5h1m4 0h1m91 0h1M8 26.5h3m82 0h1M9 27.5h1m84 0h1M2 28.5h1m1 0h1M4 31.5h1M17 32.5h1M2 33.5h1m7 0h1M4 35.5h1m2 0h1m36 0h1M99 36.5h1M4 38.5h1m1 0h1M1 39.5h1m8 0h1M1 40.5h3M3 44.5h1M10 46.5h1M1 47.5h1M1 48.5h1m1 0h1M0 49.5h1m8 0h1"/><path stroke="#c09088" d="M198 20.5h1"/><path stroke="#b8a0a8" d="M61 21.5h1M146 38.5h1"/><path stroke="#a8a0b8" d="M47 22.5h1M206 37.5h1M127 40.5h1"/><path stroke="#b8b0c0" d="M73 22.5h1M156 26.5h1m58 0h1M184 33.5h1M171 41.5h1"/><path stroke="#a098b8" d="M107 22.5h1M132 25.5h1M133 28.5h1M157 31.5h1M177 32.5h1M121 34.5h1m91 0h1M136 38.5h1m67 0h1M177 40.5h1m17 0h1M153 47.5h1m18 0h1m42 0h1M209 48.5h1"/><path stroke="#a890a0" d="M76 23.5h1"/><path stroke="#c8c8d8" d="M3 24.5h1"/><path stroke="#d08870" d="M197 24.5h1"/><path stroke="#e8c0b8" d="M0 25.5h1m7 0h1m73 0h1M8 27.5h1M14 28.5h1m87 0h1M18 31.5h1M8 32.5h1M7 33.5h1m1 0h1M2 35.5h1m6 0h1M5 39.5h1M7 40.5h1M107 42.5h1M4 44.5h1M7 45.5h1M10 47.5h1M2 48.5h1m1 0h1M7 49.5h1"/><path stroke="#e8c0a8" d="M7 25.5h1M3 27.5h1"/><path stroke="#e8c8b8" d="M4 26.5h2M10 27.5h1M8 31.5h1M9 39.5h1M9 40.5h1M0 44.5h1m1 0h1M7 46.5h1M2 49.5h1m2 0h1"/><path stroke="#e8c0c0" d="M62 26.5h1M5 28.5h1m3 0h1M6 31.5h1M6 33.5h1M0 35.5h1M8 45.5h1"/><path stroke="#e8d0c8" d="M8 28.5h1M6 40.5h1"/><path stroke="#9890c0" d="M122 28.5h1M125 31.5h1M122 32.5h1m55 0h1M173 34.5h1m13 0h1m1 0h1M179 38.5h1M193 40.5h1"/><path stroke="#9890b8" d="M162 28.5h1M173 31.5h1M121 32.5h1M159 34.5h1M168 38.5h1M182 42.5h1M165 44.5h1M212 47.5h1"/><path stroke="#9888b0" d="M191 28.5h1"/><path stroke="#e8b090" d="M110 29.5h1M70 33.5h1M6 42.5h1M64 49.5h1"/><path stroke="#c06040" d="M0 30.5h11"/><path stroke="#f0e0e0" d="M12 30.5h1m77 0h1m25 0h1m70 0h1"/><path stroke="#e8d8d0" d="M60 30.5h1m40 0h1"/><path stroke="#f0d0d0" d="M102 30.5h1"/><path stroke="#a890a8" d="M148 31.5h1M184 38.5h1M199 39.5h1M194 40.5h1M215 43.5h1"/><path stroke="#b090b0" d="M151 31.5h1"/><path stroke="#9088b0" d="M165 31.5h1"/><path stroke="#9090c0" d="M195 31.5h1M161 47.5h1"/><path stroke="#f0b8a8" d="M0 33.5h1"/><path stroke="#a090c0" d="M182 33.5h1"/><path stroke="#9898c0" d="M114 34.5h1m20 0h1M144 38.5h1M207 43.5h1"/><path stroke="#d8c0d0" d="M4 36.5h1M126 47.5h1"/><path stroke="#f0d0c0" d="M4 37.5h1"/><path stroke="#f0c0b0" d="M7 37.5h1"/><path stroke="#9890c8" d="M112 38.5h1"/><path stroke="#a088a8" d="M115 38.5h1"/><path stroke="#e0c0b0" d="M15 41.5h1"/><path stroke="#e89870" d="M1 42.5h1m6 0h1"/><path stroke="#f0e0d8" d="M1 43.5h1"/><path stroke="#9890b0" d="M177 44.5h1"/><path stroke="#f0c8c0" d="M4 45.5h1"/><path stroke="#d88878" d="M31 49.5h1"/></g>
<rect x="177.2" y="648.7" width="1.4" height="287.5" fill="#fff"/>
<text x="310.6" y="785.5" font-size="7">Expression</text>
<rect x="313" y="789" width="9" height="55.7" fill="url(#cmf)"/>
<line x1="313" y1="794.4" x2="314.8" y2="794.4" stroke="#fff" stroke-width="0.5"/>
<line x1="320.2" y1="794.4" x2="322" y2="794.4" stroke="#fff" stroke-width="0.5"/>
<text x="324.5" y="796.9" fill="#333" font-size="7">2</text>
<line x1="313" y1="805.7" x2="314.8" y2="805.7" stroke="#fff" stroke-width="0.5"/>
<line x1="320.2" y1="805.7" x2="322" y2="805.7" stroke="#fff" stroke-width="0.5"/>
<text x="324.5" y="808.2" fill="#333" font-size="7">1</text>
<line x1="313" y1="816.9" x2="314.8" y2="816.9" stroke="#fff" stroke-width="0.5"/>
<line x1="320.2" y1="816.9" x2="322" y2="816.9" stroke="#fff" stroke-width="0.5"/>
<text x="324.5" y="819.4" fill="#333" font-size="7">0</text>
<line x1="313" y1="827.8" x2="314.8" y2="827.8" stroke="#fff" stroke-width="0.5"/>
<line x1="320.2" y1="827.8" x2="322" y2="827.8" stroke="#fff" stroke-width="0.5"/>
<text x="324.5" y="830.3" fill="#333" font-size="7">−1</text>
<line x1="313" y1="839.2" x2="314.8" y2="839.2" stroke="#fff" stroke-width="0.5"/>
<line x1="320.2" y1="839.2" x2="322" y2="839.2" stroke="#fff" stroke-width="0.5"/>
<text x="324.5" y="841.7" fill="#333" font-size="7">−2</text>
<text x="386.8" y="672.4" text-anchor="end" fill="#333" font-size="7.1">RBPJ(6g)</text>
<text x="386.8" y="680.6" text-anchor="end" fill="#333" font-size="7.1">ZNF234(11g)</text>
<text x="386.8" y="688.9" text-anchor="end" fill="#333" font-size="7.1">ARNTL2(15g)</text>
<text x="386.8" y="697.1" text-anchor="end" fill="#333" font-size="7.1">ZNF418(10g)</text>
<text x="386.8" y="705.4" text-anchor="end" fill="#333" font-size="7.1">NFIA(18g)</text>
<text x="386.8" y="713.6" text-anchor="end" fill="#333" font-size="7.1">ZNF286A(23g)</text>
<text x="386.8" y="721.9" text-anchor="end" fill="#333" font-size="7.1">ZNF460(10g)</text>
<text x="386.8" y="730.1" text-anchor="end" fill="#333" font-size="7.1">E4F1(17g)</text>
<text x="386.8" y="738.4" text-anchor="end" fill="#333" font-size="7.1">ZNF649(8g)</text>
<text x="386.8" y="746.6" text-anchor="end" fill="#333" font-size="7.1">ARNT(15g)</text>
<text x="386.8" y="754.8" text-anchor="end" fill="#333" font-size="7.1">NKX1−2(65g)</text>
<text x="386.8" y="763.1" text-anchor="end" fill="#333" font-size="7.1">FOXI3(13g)</text>
<text x="386.8" y="771.3" text-anchor="end" fill="#333" font-size="7.1">FOXA2(56g)</text>
<text x="386.8" y="779.6" text-anchor="end" fill="#333" font-size="7.1">CDX1(136g)</text>
<text x="386.8" y="787.8" text-anchor="end" fill="#333" font-size="7.1">CLOCK(19g)</text>
<text x="386.8" y="796.1" text-anchor="end" fill="#333" font-size="7.1">MLXIPL(14g)</text>
<text x="386.8" y="804.3" text-anchor="end" fill="#333" font-size="7.1">TCF7(95g)</text>
<text x="386.8" y="812.6" text-anchor="end" fill="#333" font-size="7.1">ERF(9g)</text>
<text x="386.8" y="820.8" text-anchor="end" fill="#333" font-size="7.1">ZFP41(16g)</text>
<text x="386.8" y="829.1" text-anchor="end" fill="#333" font-size="7.1">ZIC2(9g)</text>
<text x="386.8" y="837.3" text-anchor="end" fill="#333" font-size="7.1">HOXB3(23g)</text>
<text x="386.8" y="845.5" text-anchor="end" fill="#333" font-size="7.1">HOXA2(64g)</text>
<text x="386.8" y="853.8" text-anchor="end" fill="#333" font-size="7.1">HOXD4(31g)</text>
<text x="386.8" y="862" text-anchor="end" fill="#333" font-size="7.1">LMX1A(20g)</text>
<text x="386.8" y="870.3" text-anchor="end" fill="#333" font-size="7.1">HOXD3(65g)</text>
<text x="386.8" y="878.5" text-anchor="end" fill="#333" font-size="7.1">FOXG1(9g)</text>
<text x="386.8" y="886.8" text-anchor="end" fill="#333" font-size="7.1">NR2F2(13g)</text>
<text x="386.8" y="895" text-anchor="end" fill="#333" font-size="7.1">RFX4(17g)</text>
<text x="386.8" y="903.3" text-anchor="end" fill="#333" font-size="7.1">PPARA(19g)</text>
<text x="386.8" y="911.5" text-anchor="end" fill="#333" font-size="7.1">HOXC5(43g)</text>
<rect x="387.3" y="659.7" width="109.2" height="5" fill="#f2766c"/>
<rect x="497.6" y="659.7" width="123.8" height="5" fill="#1db83c"/>
<rect x="621.4" y="659.7" width="31.2" height="5" fill="#619cff"/>
<text x="444.2" y="656" text-anchor="middle" font-size="8.5">0-1</text>
<text x="564.2" y="656" text-anchor="middle" font-size="8.5">0-2</text>
<text x="636.4" y="656" text-anchor="middle" font-size="8.5">6</text>
<g transform="translate(388.2 667.7) scale(1.5000 8.0500)" stroke-width="1" fill="none" shape-rendering="crispEdges"><path stroke="#000000" d="M0 0.5h3m2 0h2m3 0h2m4 0h4m1 0h1m4 0h2m2 0h1m1 0h1m1 0h3m1 0h1m1 0h1m1 0h1m3 0h1m1 0h1m4 0h1m1 0h2m16 0h1m1 0h2m1 0h1m1 0h2m6 0h1m3 0h2m2 0h1m1 0h5m4 0h1m1 0h3m1 0h1M27 1.5h1m16 0h1m33 0h1m10 0h1m8 0h1m8 0h1M11 4.5h1m15 0h1M131 10.5h1M61 11.5h1m4 0h1m49 0h1m2 0h1m2 0h4m1 0h1m1 0h1m5 0h1m3 0h1m1 0h1M119 12.5h1m15 0h1M126 14.5h1M162 20.5h1m4 0h1M163 21.5h1m4 0h2m1 0h1m1 0h1M167 22.5h1"/><path stroke="#404040" d="M3 0.5h1m5 0h1m21 0h1m1 0h1m17 0h1m30 0h1m25 0h1m7 0h1m8 0h1M6 1.5h1m7 0h1m8 0h1m6 0h1m10 0h1m4 0h1m1 0h1m7 0h1m16 0h1m8 0h2m4 0h1m1 0h1m2 0h1m7 0h1m1 0h1m4 0h1M1 2.5h1m40 0h2m38 0h1m4 0h1m8 0h1m7 0h1m2 0h1M1 4.5h1m14 0h1m6 0h1m14 0h1m3 0h1m12 0h1m20 0h1m3 0h1m20 0h1m1 0h1m3 0h1m16 0h1m42 0h1M27 5.5h1M114 10.5h1m3 0h1m13 0h1m7 0h1M62 11.5h1m70 0h1M60 12.5h1m6 0h1m53 0h1M123 13.5h2m13 0h1M121 14.5h1m2 0h1m3 0h1M61 15.5h1M63 16.5h3m54 0h2m1 0h1m6 0h1m1 0h1m1 0h3m2 0h1M160 21.5h2m2 0h1m7 0h1M170 22.5h1m3 0h1M164 23.5h1m2 0h1M162 24.5h1m3 0h1m1 0h1m4 0h1M170 25.5h1M160 29.5h1m8 0h1"/><path stroke="#151515" d="M4 0.5h1m2 0h1m4 0h2m1 0h1m4 0h1m2 0h1m1 0h1m2 0h1m10 0h1m3 0h2m5 0h1m1 0h1m4 0h2m20 0h1m3 0h3m1 0h1m1 0h3m3 0h1m1 0h1m5 0h3m6 0h1M15 1.5h2m2 0h1m71 0h1m13 0h1m4 0h1M100 2.5h1M29 4.5h1m11 0h1m11 0h1m19 0h2m6 0h1M137 10.5h1M59 11.5h1m5 0h1m1 0h1m46 0h2m1 0h2m1 0h2m4 0h1m1 0h1m2 0h1m4 0h3m1 0h1M122 12.5h1m18 0h1M114 13.5h1m4 0h2m18 0h1M119 16.5h1m6 0h2M169 20.5h1m1 0h1M162 21.5h1m4 0h1M160 22.5h1m8 0h1M169 24.5h1M165 25.5h1M161 29.5h1m4 0h1m3 0h2"/><path stroke="#2a2a2a" d="M8 0.5h1m5 0h1m7 0h1m1 0h1m4 0h1m7 0h1m3 0h1m3 0h1m1 0h1m1 0h1m4 0h1m17 0h1m1 0h1m2 0h1m8 0h1m7 0h1m11 0h1M11 1.5h1m6 0h1m7 0h1m1 0h1m3 0h1m9 0h1m36 0h2m4 0h1m9 0h1m1 0h1m1 0h1m9 0h1M44 2.5h1m40 0h1M6 4.5h2m7 0h1m1 0h1m16 0h1m11 0h1m3 0h1m21 0h1m2 0h1m1 0h2m5 0h1m25 0h2m22 0h2m21 0h1M60 11.5h1m69 0h1m1 0h1m1 0h1M61 12.5h2m76 0h1M115 13.5h1m6 0h1m2 0h2m2 0h1m5 0h2M134 14.5h1M119 15.5h1M59 16.5h1m55 0h1M172 20.5h1M170 21.5h1M166 22.5h1m5 0h2M170 23.5h1m1 0h1M170 24.5h2M166 25.5h1m4 0h1M162 28.5h1m3 0h1M168 29.5h1m4 0h1"/><path stroke="#959595" d="M59 0.5h1m54 0h1m15 0h1m2 0h1m1 0h1m2 0h1m2 0h1m1 0h1m10 0h2m4 0h2m3 0h2M0 1.5h1m2 0h1m6 0h1m1 0h1m7 0h1m3 0h1m12 0h1m9 0h1m1 0h1m34 0h1m1 0h1m5 0h1m7 0h1m1 0h1m3 0h1m11 0h1m17 0h1M3 2.5h1m9 0h1m8 0h1m5 0h2m6 0h2m3 0h1m3 0h1m4 0h1m3 0h1m9 0h1m5 0h2m2 0h2m8 0h1m3 0h1m13 0h1m10 0h1m7 0h1m2 0h3m4 0h1m8 0h1m10 0h1m3 0h1m6 0h2m4 0h1M0 3.5h1m33 0h1m7 0h1m35 0h2m27 0h1M4 4.5h1m34 0h1m3 0h1m7 0h2m1 0h1m12 0h1m1 0h1m22 0h2m1 0h1m13 0h1m3 0h1m1 0h1m5 0h2m9 0h1m8 0h2m11 0h1m13 0h1m1 0h1M0 5.5h1m1 0h1m3 0h1m3 0h1m4 0h1m2 0h1m2 0h1m2 0h1m5 0h1m5 0h1m2 0h1m12 0h1m4 0h2m3 0h1m10 0h1m4 0h1m4 0h1m1 0h1m11 0h1m1 0h1m2 0h1m1 0h3m15 0h1m13 0h1m20 0h1m1 0h1m10 0h1M16 6.5h1m10 0h2m27 0h1m8 0h1m7 0h1m1 0h1m22 0h2m17 0h1m24 0h1m1 0h2m16 0h1M4 7.5h1m63 0h1m38 0h1m30 0h1m32 0h1M7 8.5h1m8 0h1m10 0h2m1 0h1m4 0h1m4 0h1m20 0h1m14 0h1m10 0h1m2 0h3m6 0h1m7 0h1m9 0h1m3 0h1m7 0h1m12 0h1m14 0h1m15 0h1M38 9.5h1m37 0h1m30 0h1m20 0h1M116 10.5h1m3 0h1m7 0h1m12 0h1m25 0h1M96 11.5h1m51 0h1m2 0h1m5 0h1m3 0h2m4 0h1m4 0h1M63 12.5h1m32 0h1m34 0h1M101 13.5h1m54 0h1M62 14.5h2m1 0h1m1 0h1m63 0h1m6 0h1m18 0h1m12 0h1M1 15.5h1m26 0h1m3 0h1m7 0h1m19 0h1m1 0h1m1 0h1m3 0h1m10 0h1m19 0h1m5 0h1m5 0h1m5 0h1m6 0h1m2 0h2m3 0h2m3 0h2m1 0h2m25 0h1M131 16.5h1M15 17.5h1m14 0h1m1 0h1m77 0h1m3 0h1m2 0h1m6 0h2m1 0h1m5 0h2m22 0h1m9 0h2M23 18.5h1m55 0h1m15 0h1m31 0h2M116 19.5h2m3 0h1m1 0h1m4 0h1M71 20.5h1M165 21.5h1M165 24.5h1M78 25.5h1m40 0h1m27 0h1m2 0h1m2 0h2m1 0h2m3 0h1m2 0h1M163 26.5h1m2 0h1M162 27.5h1m8 0h1m1 0h1M172 28.5h1"/><path stroke="#808080" d="M60 0.5h1m57 0h2m3 0h1m16 0h1m6 0h1m20 0h1m1 0h2M7 1.5h1m9 0h1m11 0h1m5 0h1m3 0h1m17 0h1m53 0h1m7 0h1M5 2.5h2m3 0h1m1 0h1m2 0h1m1 0h1m8 0h1m6 0h1m4 0h2m6 0h2m4 0h1m20 0h1m3 0h1m2 0h2m9 0h1m1 0h1m4 0h1m6 0h1m2 0h1m6 0h1m3 0h1m3 0h1m3 0h2m4 0h1m2 0h1m7 0h1m2 0h1m5 0h1m15 0h1m3 0h1M101 3.5h1m7 0h1M10 4.5h1m1 0h1m1 0h1m4 0h1m13 0h1m13 0h2m7 0h1m9 0h1m1 0h1m1 0h2m15 0h1m10 0h2m5 0h1m2 0h1m3 0h1m1 0h1m1 0h1m3 0h1m7 0h2m13 0h2m2 0h2m4 0h1m1 0h2m3 0h3m8 0h1m1 0h1M16 5.5h2m7 0h2m17 0h1m1 0h1m7 0h1m19 0h1m1 0h1m11 0h1m1 0h1m3 0h3m4 0h1m11 0h1m5 0h1m25 0h1M156 6.5h1m13 0h1M114 7.5h1M6 8.5h1m10 0h2m7 0h1m11 0h1m3 0h1m4 0h2m4 0h1m1 0h1m24 0h1m28 0h2m3 0h1m9 0h1m10 0h1m33 0h1m1 0h1M145 9.5h1M61 10.5h1m57 0h1m1 0h2m13 0h1M142 11.5h1m2 0h1m14 0h1m12 0h1M65 12.5h1m44 0h1m5 0h2m6 0h1m12 0h1M61 13.5h1m55 0h2m8 0h1m2 0h1M2 14.5h1m111 0h2m9 0h1m1 0h1m5 0h1m2 0h1M7 15.5h1m3 0h1m6 0h1m10 0h1m65 0h1m19 0h1m6 0h1m3 0h1m2 0h2m4 0h1m3 0h1m2 0h1M118 16.5h1m3 0h1m10 0h1m3 0h1M55 17.5h1m14 0h1m48 0h1m18 0h1m3 0h1m4 0h1m2 0h1m9 0h1M119 18.5h1m15 0h1M60 19.5h1m58 0h1M69 20.5h1m91 0h1m1 0h1M164 22.5h1M160 23.5h1m2 0h1m4 0h2M53 24.5h1M4 25.5h1m140 0h1m12 0h1m4 0h1M160 26.5h1m3 0h1m5 0h2m1 0h1M147 28.5h1m21 0h1M163 29.5h1"/><path stroke="#6a6a6a" d="M63 0.5h2m3 0h1m52 0h1m2 0h1m2 0h1m6 0h1m1 0h1m5 0h1m1 0h1m3 0h1m2 0h1m15 0h1m1 0h1M1 1.5h1m29 0h1m1 0h2m3 0h1m14 0h1m40 0h1m1 0h1m15 0h1M7 2.5h1m13 0h1m12 0h1m13 0h2m5 0h1m16 0h1m13 0h1m19 0h1m2 0h1m1 0h1m5 0h1m20 0h1m17 0h1m13 0h2M98 3.5h1M2 4.5h1m2 0h1m3 0h1m3 0h1m4 0h1m3 0h1m1 0h2m2 0h1m1 0h1m1 0h1m2 0h2m7 0h1m4 0h1m7 0h1m3 0h2m16 0h1m2 0h1m11 0h1m2 0h1m2 0h1m3 0h1m1 0h1m18 0h2m10 0h1m1 0h2m9 0h2m17 0h1m2 0h1M4 5.5h1m2 0h1m30 0h1m3 0h1m10 0h1m26 0h1m3 0h1m4 0h1m19 0h2M42 7.5h1M36 8.5h1m41 0h1M124 10.5h2m7 0h2m4 0h1M147 11.5h1m21 0h1M64 12.5h1m50 0h1m7 0h1m5 0h2M121 13.5h1m6 0h1m5 0h1m5 0h1M60 14.5h2m57 0h1m10 0h1m1 0h1m2 0h1m1 0h1m3 0h1M26 15.5h1m26 0h1m13 0h1m48 0h1M60 16.5h3m61 0h1m13 0h1m3 0h1M68 17.5h1m66 0h1m35 0h1M63 19.5h1M166 20.5h1m6 0h1M171 22.5h1M171 23.5h1M160 24.5h1m2 0h1m8 0h1M160 25.5h1m7 0h2M156 26.5h1m10 0h1M164 28.5h1m5 0h2M164 29.5h2m6 0h1m1 0h1"/><path stroke="#555555" d="M66 0.5h1m48 0h1m1 0h1m8 0h1m1 0h1m2 0h1m5 0h1m1 0h1m9 0h1m6 0h1M2 1.5h1m1 0h2m3 0h1m3 0h1m7 0h2m17 0h1m2 0h1m6 0h1m1 0h1m1 0h2m16 0h1m1 0h4m3 0h1m5 0h1m16 0h1M2 2.5h1m8 0h1m4 0h1m2 0h1m10 0h3m20 0h1m3 0h1m20 0h1m11 0h1m6 0h1m14 0h1m3 0h1m18 0h1M0 4.5h1m2 0h1m16 0h2m15 0h1m2 0h1m42 0h1m1 0h2m2 0h2m5 0h1m5 0h1m14 0h3m10 0h2M32 5.5h1m42 0h1m22 0h1m8 0h1M115 10.5h1m1 0h1m5 0h1m2 0h2m2 0h1m4 0h1m2 0h1M63 11.5h2m105 0h1M126 12.5h1m5 0h3M116 13.5h1m14 0h2m4 0h1m3 0h1M123 14.5h1m15 0h1M67 16.5h1m46 0h1m1 0h2m7 0h1m2 0h2m10 0h1M61 19.5h1M68 20.5h1m96 0h1m2 0h1m1 0h1m3 0h1M166 21.5h1m7 0h1M161 22.5h3m1 0h1M166 23.5h1m6 0h1M68 24.5h1m98 0h1m6 0h1M162 25.5h1m9 0h2M162 26.5h1M167 28.5h1M162 29.5h1m4 0h1"/><path stroke="#d4d4d4" d="M67 0.5h1m78 0h1m3 0h1M51 1.5h1m82 0h2m28 0h1m8 0h1M35 2.5h1M5 3.5h3m7 0h1m12 0h1m2 0h1m9 0h1m18 0h1m23 0h2m1 0h1m5 0h1m9 0h1m1 0h1m2 0h1m2 0h1m52 0h1M65 4.5h1m93 0h1m14 0h1M12 5.5h1m20 0h1m3 0h1m3 0h1m1 0h1m1 0h1m2 0h1m11 0h1m4 0h1m16 0h1m29 0h1m27 0h1m7 0h1m14 0h1M2 6.5h1m4 0h2m3 0h1m1 0h1m5 0h1m4 0h1m9 0h1m1 0h1m14 0h1m5 0h1m3 0h1m7 0h1m11 0h1m8 0h1m1 0h1m14 0h1m9 0h1m17 0h1m18 0h1M9 7.5h1m11 0h1m7 0h1m5 0h1m12 0h1m6 0h1m1 0h1m7 0h1m19 0h1m2 0h2m5 0h1m4 0h1m4 0h2m4 0h2m3 0h1m13 0h1m10 0h1m4 0h1m2 0h1m3 0h1m7 0h1M0 8.5h1m3 0h1m17 0h1m1 0h1m14 0h1m1 0h1m9 0h1m10 0h1m3 0h1m18 0h1m8 0h1m7 0h1m9 0h1m17 0h1m2 0h1m7 0h1m4 0h1m1 0h1m6 0h1m5 0h1m3 0h1m2 0h1M4 9.5h1m25 0h1m12 0h2m9 0h1m7 0h1m27 0h1m7 0h1m11 0h1m43 0h2m7 0h1m2 0h1m5 0h1M100 11.5h1M142 12.5h1m30 0h1M64 13.5h1m1 0h1m86 0h1m4 0h1m2 0h1m1 0h1M17 14.5h1m15 0h1m2 0h1m17 0h1m3 0h1m22 0h1m66 0h1m5 0h1m12 0h1M14 15.5h1m2 0h1m6 0h1m6 0h1m2 0h1m6 0h1m2 0h1m6 0h1m2 0h1m14 0h2m20 0h2m9 0h1m9 0h1m5 0h1m1 0h1m15 0h1m25 0h1m1 0h1m3 0h1M78 16.5h1m83 0h1M3 17.5h2m5 0h1m6 0h1m2 0h1m5 0h1m13 0h3m1 0h1m1 0h2m1 0h1m7 0h1m15 0h1m11 0h1m3 0h1m8 0h1m1 0h1m2 0h1m1 0h1m5 0h1m1 0h1m4 0h1m1 0h1m18 0h1m12 0h1m11 0h1M13 18.5h1m1 0h1m13 0h1m8 0h1m50 0h1m3 0h1m8 0h1m2 0h1m1 0h1m3 0h1m1 0h1m19 0h1m9 0h1M91 19.5h1m39 0h2m14 0h1m10 0h1M131 20.5h1m27 0h1M125 21.5h1m21 0h1m2 0h1M90 22.5h1M72 23.5h1M83 24.5h1m75 0h1M3 25.5h1m5 0h1m35 0h1m105 0h1M35 26.5h1m54 0h1m40 0h1m10 0h1m11 0h1M45 27.5h1m90 0h1m24 0h1m1 0h1M12 28.5h1m56 0h1m93 0h1M155 29.5h1"/><path stroke="#aaaaaa" d="M70 0.5h2m48 0h1m36 0h1m16 0h1M8 1.5h1m16 0h1m19 0h1m14 0h1m52 0h1m1 0h1m8 0h1m31 0h1m1 0h1M4 2.5h1m18 0h1m16 0h1m15 0h1m1 0h2m2 0h1m2 0h1m10 0h1m2 0h1m9 0h1m4 0h1m8 0h1m18 0h1m19 0h1m6 0h2m1 0h1m4 0h1m1 0h1M1 3.5h1m2 0h1m6 0h1m36 0h1m6 0h1m19 0h1m4 0h2m1 0h1m8 0h1m6 0h1m70 0h1M8 4.5h1m17 0h1m4 0h1m13 0h1m12 0h1m4 0h1m27 0h1m41 0h1m2 0h1m1 0h1m10 0h1m8 0h1m6 0h1M1 5.5h1m3 0h1m2 0h1m4 0h1m6 0h1m1 0h1m5 0h2m1 0h1m18 0h1m5 0h1m4 0h1m1 0h1m3 0h1m4 0h1m4 0h1m3 0h1m4 0h2m3 0h3m9 0h1m7 0h1m5 0h1m2 0h1m3 0h1m3 0h1m2 0h1m2 0h1m9 0h1m2 0h1m5 0h2m7 0h1m4 0h1m3 0h1m1 0h1M1 6.5h1m24 0h1m2 0h4m1 0h1m5 0h1m20 0h1m10 0h1m5 0h1m2 0h1m4 0h1m14 0h1m8 0h1m3 0h1m4 0h1m19 0h1m1 0h1m15 0h2m1 0h1m6 0h1m3 0h1M13 7.5h1m3 0h1m55 0h1m2 0h1m7 0h1m39 0h1m9 0h1m21 0h1m3 0h1m6 0h1m6 0h1M9 8.5h1m9 0h1m1 0h1m9 0h3m9 0h1m8 0h1m5 0h1m9 0h1m10 0h1m4 0h1m3 0h2m5 0h3m3 0h1m1 0h1m22 0h1m1 0h1m2 0h1m7 0h1m3 0h3m4 0h1m5 0h1m2 0h1m2 0h2m3 0h1m2 0h1M14 9.5h1m19 0h1m17 0h1m56 0h1m46 0h1m16 0h1M63 10.5h2m64 0h1M68 11.5h1m3 0h1m70 0h1m12 0h1m2 0h1m4 0h1M59 12.5h1m54 0h1m12 0h2m11 0h1m12 0h1M65 13.5h1m81 0h1m20 0h1M6 14.5h1m57 0h1m51 0h1m3 0h1m1 0h1m6 0h1m14 0h1m10 0h1m2 0h1m14 0h1M0 15.5h1m12 0h1m36 0h1m4 0h1m20 0h1m4 0h1m19 0h1m1 0h1m17 0h1m9 0h1m15 0h1m5 0h1m2 0h2m2 0h1m9 0h1M66 16.5h1m74 0h1m18 0h1M11 17.5h1m15 0h1m8 0h1m1 0h1m11 0h1m7 0h1m23 0h1m14 0h1m3 0h2m6 0h1m12 0h2m2 0h1m9 0h2m3 0h1m24 0h1m2 0h1M11 18.5h1m2 0h1m4 0h1m33 0h1m19 0h1m36 0h1m7 0h1m4 0h1m6 0h1M62 19.5h1m3 0h2m47 0h1m14 0h1m8 0h1M70 20.5h1m74 0h1M117 21.5h1M156 22.5h1M68 23.5h1m76 0h1m19 0h1M70 24.5h1m93 0h1M31 25.5h1m37 0h2m73 0h1m7 0h1m21 0h1M145 26.5h1m12 0h1m2 0h1m3 0h1m6 0h1m1 0h1M32 27.5h1m20 0h1m25 0h1m80 0h1m3 0h1m3 0h1M145 28.5h1m9 0h1m2 0h1m14 0h2"/><path stroke="#bfbfbf" d="M132 0.5h1m26 0h1m4 0h1m7 0h1M58 1.5h1m8 0h1m69 0h1m5 0h1m2 0h1m3 0h1m4 0h1M9 2.5h1m4 0h1m10 0h1m37 0h1m2 0h1m16 0h1m11 0h1m3 0h1m10 0h1m9 0h1m11 0h1m21 0h1m3 0h1m1 0h2m3 0h2M17 3.5h2m4 0h1m6 0h1m1 0h2m5 0h1m4 0h1m5 0h1m2 0h1m2 0h1m17 0h1m2 0h1m4 0h1m5 0h1m1 0h2m2 0h1m1 0h2m2 0h1m1 0h1m13 0h1M59 4.5h1m4 0h1m23 0h1m38 0h1m36 0h1M9 5.5h1m4 0h1m32 0h1m7 0h1m3 0h1m4 0h1m4 0h1m1 0h1m36 0h1m21 0h1m1 0h1m17 0h3m7 0h1m5 0h1m5 0h1M0 6.5h1m9 0h1m8 0h1m1 0h1m1 0h1m9 0h1m4 0h2m2 0h1m11 0h1m9 0h1m3 0h1m5 0h1m2 0h1m2 0h1m4 0h1m4 0h1m3 0h1m1 0h2m13 0h1m1 0h1m7 0h2m3 0h2m3 0h1m1 0h1m6 0h1m10 0h1m1 0h1m11 0h1m2 0h1m5 0h1M0 7.5h1m4 0h3m24 0h1m8 0h1m1 0h1m16 0h1m8 0h1m8 0h1m2 0h2m15 0h1m19 0h1m10 0h1m18 0h1m6 0h1m1 0h2m7 0h1m1 0h1m3 0h1M1 8.5h1m1 0h1m1 0h1m8 0h1m8 0h1m10 0h1m19 0h1m2 0h1m16 0h1m6 0h3m9 0h1m11 0h2m1 0h1m2 0h1m1 0h1m11 0h1m11 0h1m15 0h1m4 0h1m5 0h1m1 0h1m5 0h1M1 9.5h1m4 0h1m4 0h1m9 0h1m4 0h1m21 0h1m37 0h1m1 0h2m28 0h2m10 0h2m5 0h2m3 0h1m5 0h3M60 10.5h1m5 0h1m93 0h1m13 0h1M71 11.5h1m31 0h1m46 0h1m1 0h1m1 0h1M125 12.5h1m10 0h1m17 0h1M1 13.5h1m65 0h1m45 0h1m28 0h1m7 0h1m19 0h1M66 14.5h1m4 0h1m46 0h1m24 0h1m3 0h1m2 0h1m23 0h1M2 15.5h1m2 0h1m3 0h1m2 0h1m2 0h1m5 0h1m13 0h2m6 0h1m2 0h2m11 0h1m3 0h1m7 0h1m2 0h1m2 0h1m6 0h1m11 0h1m1 0h1m1 0h1m8 0h1m3 0h2m19 0h1m8 0h1m1 0h1m2 0h1m2 0h1m11 0h1m5 0h1m3 0h1M143 16.5h1m4 0h1m1 0h1m4 0h1m2 0h1m4 0h1m3 0h1m4 0h2M12 17.5h1m10 0h1m19 0h1m18 0h1m12 0h1m5 0h1m10 0h1m3 0h1m15 0h1m2 0h1m5 0h1m7 0h1m1 0h1m12 0h2m17 0h1m10 0h1M34 18.5h3m20 0h1m9 0h2m6 0h1m9 0h1m10 0h1m2 0h2m16 0h1m3 0h2m1 0h1m4 0h1m2 0h1m4 0h1m1 0h3m2 0h2m11 0h1m15 0h1M19 19.5h1m39 0h1m8 0h1m35 0h1m9 0h1m7 0h1m2 0h2m6 0h1m6 0h1m27 0h1M60 20.5h1m58 0h1m40 0h1M69 21.5h1M151 22.5h1m3 0h1m3 0h1M156 23.5h3M54 24.5h1m65 0h1M10 25.5h1m22 0h1m38 0h1m25 0h1M105 26.5h1m6 0h1M13 27.5h1m59 0h1m91 0h1m3 0h1M116 28.5h1m26 0h1m5 0h2m9 0h2M60 29.5h1"/><path stroke="#eaeaea" d="M69 1.5h1m47 0h1m2 0h1m30 0h2M20 2.5h1m71 0h1M2 3.5h1m5 0h2m2 0h1m7 0h2m13 0h2m8 0h3m3 0h2m1 0h1m18 0h1m12 0h1m44 0h1m25 0h1M146 4.5h1M3 5.5h1m45 0h1m1 0h1m18 0h1m44 0h1m9 0h1M4 6.5h2m38 0h1m1 0h3m8 0h1m1 0h1m11 0h1m11 0h1m3 0h3m2 0h1m11 0h1m7 0h1m24 0h1m8 0h1M8 7.5h1m2 0h1m12 0h1m11 0h5m8 0h1m2 0h1m11 0h1m6 0h1m3 0h1m10 0h1m3 0h1m2 0h1m8 0h1m1 0h1m17 0h2m21 0h1m27 0h1M2 8.5h1m9 0h1m54 0h1m68 0h1M20 9.5h1m4 0h1m5 0h1m4 0h1m4 0h1m8 0h1m15 0h1m14 0h1m13 0h1m12 0h1m59 0h1m5 0h1M151 10.5h1m12 0h2m6 0h1M163 11.5h1M82 12.5h1M71 13.5h1M20 14.5h1m47 0h1m5 0h1m11 0h1m72 0h1M3 15.5h1m4 0h1m30 0h1m5 0h1m6 0h1m3 0h1m1 0h1m31 0h1m2 0h1m10 0h1M74 17.5h1m11 0h1m21 0h1M39 18.5h1m14 0h1m7 0h1m49 0h1m25 0h1m12 0h1m7 0h1M48 19.5h1m69 0h1m1 0h1m16 0h1m21 0h1m2 0h1M65 20.5h1M43 21.5h1m21 0h1m87 0h1m5 0h1M28 22.5h1m117 0h1m3 0h1M148 23.5h1M20 24.5h1m128 0h1m7 0h1M8 25.5h1m41 0h1m92 0h1m2 0h1M3 26.5h1m66 0h1m4 0h1m67 0h1M51 27.5h1m17 0h1m29 0h1M70 28.5h1m75 0h1M3 29.5h1m155 0h1"/></g>
<text x="654.9" y="782" font-size="7">Expression</text>
<rect x="656.2" y="789" width="4.5" height="31.7" fill="url(#cmg)"/>
<text x="661.7" y="793.1" fill="#333" font-size="7">1.00</text>
<text x="661.7" y="801" fill="#333" font-size="7">0.75</text>
<text x="661.7" y="808.6" fill="#333" font-size="7">0.50</text>
<text x="661.7" y="816.7" fill="#333" font-size="7">0.25</text>
<text x="661.7" y="825.1" fill="#333" font-size="7">0.00</text></svg></body></html>
